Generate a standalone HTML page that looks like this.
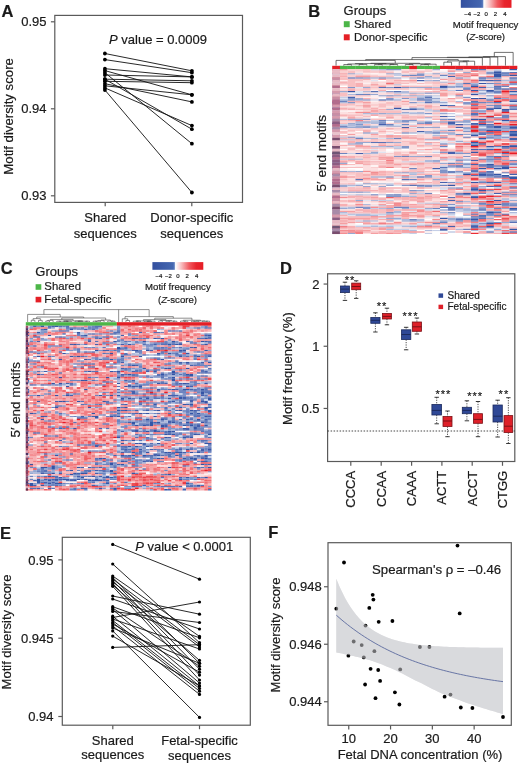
<!DOCTYPE html>
<html><head><meta charset="utf-8"><title>Figure</title>
<style>
html,body{margin:0;padding:0;background:#fff;}
body{width:520px;height:763px;overflow:hidden;}
svg{display:block;}
text{fill:#1a1a1a;stroke:#1a1a1a;stroke-width:0.2px;font-family:"Liberation Sans",Arial,Helvetica,sans-serif;}
</style></head><body>
<svg width="520" height="763" viewBox="0 0 520 763">
<rect width="520" height="763" fill="#fff"/>
<defs><filter id="hb" x="-2%" y="-2%" width="104%" height="104%"><feGaussianBlur stdDeviation="0.6"/></filter></defs>
<text x="308.3" y="17" font-size="16.5" font-weight="bold">B</text>
<text x="343.6" y="15.1" font-size="13">Groups</text>
<rect x="343.8" y="21.2" width="5.9" height="6" fill="#4cb648"/>
<rect x="343.8" y="34.3" width="5.9" height="6" fill="#e41f26"/>
<text x="354" y="27.8" font-size="11.5">Shared</text>
<text x="354" y="41.3" font-size="11.5">Donor-specific</text>
<defs><linearGradient id="cbB" x1="0" x2="1" y1="0" y2="0"><stop offset="0" stop-color="#33509f"/><stop offset="0.40" stop-color="#4567b0"/><stop offset="0.43" stop-color="#5a7abd"/><stop offset="0.455" stop-color="#ffffff"/><stop offset="0.56" stop-color="#f8c4c6"/><stop offset="0.72" stop-color="#f05a60"/><stop offset="0.86" stop-color="#e8252d"/><stop offset="1" stop-color="#e61e26"/></linearGradient></defs>
<rect x="460.8" y="-1" width="50.7" height="8.8" fill="url(#cbB)"/>
<text x="467.6" y="15.6" font-size="6" text-anchor="middle">−4</text>
<text x="476.9" y="15.6" font-size="6" text-anchor="middle">−2</text>
<text x="486.2" y="15.6" font-size="6" text-anchor="middle">0</text>
<text x="495.5" y="15.6" font-size="6" text-anchor="middle">2</text>
<text x="504.8" y="15.6" font-size="6" text-anchor="middle">4</text>
<text x="485.6" y="27.9" font-size="9.6" text-anchor="middle">Motif frequency</text>
<text x="485.6" y="40.3" font-size="9.6" text-anchor="middle">(<tspan font-style="italic">Z</tspan>-score)</text>
<text x="325.9" y="153.2" font-size="13.6" text-anchor="middle" transform="rotate(-90 325.9 153.2)">5′ end motifs</text>
<rect x="332.2" y="65.8" width="8" height="3.2" fill="#e41f26"/>
<rect x="339.9" y="65.8" width="8" height="3.2" fill="#4cb648"/>
<rect x="347.6" y="65.8" width="8" height="3.2" fill="#4cb648"/>
<rect x="355.3" y="65.8" width="8" height="3.2" fill="#4cb648"/>
<rect x="363" y="65.8" width="8" height="3.2" fill="#4cb648"/>
<rect x="370.7" y="65.8" width="8" height="3.2" fill="#4cb648"/>
<rect x="378.4" y="65.8" width="8" height="3.2" fill="#4cb648"/>
<rect x="386.1" y="65.8" width="8" height="3.2" fill="#4cb648"/>
<rect x="393.8" y="65.8" width="8" height="3.2" fill="#4cb648"/>
<rect x="401.5" y="65.8" width="8" height="3.2" fill="#4cb648"/>
<rect x="409.2" y="65.8" width="8" height="3.2" fill="#e41f26"/>
<rect x="416.9" y="65.8" width="8" height="3.2" fill="#4cb648"/>
<rect x="424.6" y="65.8" width="8" height="3.2" fill="#4cb648"/>
<rect x="432.3" y="65.8" width="8" height="3.2" fill="#4cb648"/>
<rect x="440" y="65.8" width="8" height="3.2" fill="#e41f26"/>
<rect x="447.7" y="65.8" width="8" height="3.2" fill="#e41f26"/>
<rect x="455.4" y="65.8" width="8" height="3.2" fill="#e41f26"/>
<rect x="463.1" y="65.8" width="8" height="3.2" fill="#e41f26"/>
<rect x="470.8" y="65.8" width="8" height="3.2" fill="#e41f26"/>
<rect x="478.5" y="65.8" width="8" height="3.2" fill="#e41f26"/>
<rect x="486.2" y="65.8" width="8" height="3.2" fill="#e41f26"/>
<rect x="493.9" y="65.8" width="8" height="3.2" fill="#e41f26"/>
<rect x="501.6" y="65.8" width="8" height="3.2" fill="#e41f26"/>
<rect x="509.3" y="65.8" width="8" height="3.2" fill="#e41f26"/>
<g filter="url(#hb)"><g transform="translate(332.2 69) scale(7.7000 1.3750)">
<path fill="#3454a6" d="M0 88h1v1h-1zM19 107h1v1h-1z"/>
<path fill="#3454a6" d="M21 5h1v1h-1zM19 46h1v1h-1z"/>
<path fill="#3454a6" d="M0 18h1v1h-1zM22 37h1v1h-1zM20 65h1v1h-1z"/>
<path fill="#3454a6" d="M18 15h1v1h-1zM21 41h1v1h-1zM21 42h1v1h-1zM23 43h1v1h-1zM23 46h1v1h-1zM0 63h1v1h-1zM0 71h1v1h-1z"/>
<path fill="#3454a6" d="M21 14h1v1h-1zM19 21h1v1h-1zM14 26h1v1h-1zM19 38h1v1h-1zM0 39h1v1h-1zM19 40h1v1h-1zM23 42h1v1h-1zM23 47h1v1h-1zM23 48h1v1h-1zM20 56h1v1h-1zM22 71h1v1h-1zM19 75h1v1h-1zM22 77h1v1h-1zM23 83h1v1h-1zM18 86h1v1h-1zM18 93h1v1h-1zM19 97h1v1h-1zM19 102h1v1h-1z"/>
<path fill="#3454a6" d="M22 3h1v1h-1zM23 6h1v1h-1zM19 10h1v1h-1zM22 14h1v1h-1zM20 15h1v1h-1zM18 21h1v1h-1zM21 28h1v1h-1zM22 29h1v1h-1zM0 47h1v1h-1zM18 48h1v1h-1zM19 54h1v1h-1zM0 56h1v1h-1zM23 56h1v1h-1zM22 57h1v1h-1zM20 69h1v1h-1zM17 76h1v1h-1zM23 102h1v1h-1zM18 105h1v1h-1zM18 109h1v1h-1z"/>
<path fill="#3454a6" d="M21 3h1v1h-1zM21 4h1v1h-1zM18 12h1v1h-1zM17 14h1v1h-1zM23 16h1v1h-1zM23 23h1v1h-1zM22 30h1v1h-1zM0 33h1v1h-1zM19 36h1v1h-1zM21 44h1v1h-1zM23 45h1v1h-1zM17 49h1v1h-1zM19 50h1v1h-1zM18 53h1v1h-1zM18 55h1v1h-1zM0 61h1v1h-1zM19 65h1v1h-1zM19 70h1v1h-1zM0 72h1v1h-1zM22 72h1v1h-1zM21 76h1v1h-1zM21 78h1v1h-1zM18 82h1v1h-1zM0 85h1v1h-1zM19 88h1v1h-1zM8 91h1v1h-1zM21 95h1v1h-1zM15 102h1v1h-1zM22 105h1v1h-1zM18 107h1v1h-1zM14 108h1v1h-1zM18 113h1v1h-1zM18 115h1v1h-1zM23 116h1v1h-1z"/>
<path fill="#3454a6" d="M23 0h1v1h-1zM21 2h1v1h-1zM0 3h1v1h-1zM23 4h1v1h-1zM19 6h1v1h-1zM14 12h1v1h-1zM8 13h1v1h-1zM23 14h1v1h-1zM2 16h1v1h-1zM18 18h1v1h-1zM23 27h1v1h-1zM0 28h1v1h-1zM8 28h1v1h-1zM18 36h1v1h-1zM1 41h1v1h-1zM20 41h1v1h-1zM20 44h1v1h-1zM20 46h1v1h-1zM22 56h1v1h-1zM18 60h1v1h-1zM21 65h1v1h-1zM16 70h1v1h-1zM20 70h1v1h-1zM19 72h1v1h-1zM21 72h1v1h-1zM18 73h1v1h-1zM22 75h1v1h-1zM19 76h1v1h-1zM22 78h2v1h-2zM23 79h1v1h-1zM21 82h1v1h-1zM15 84h1v1h-1zM0 86h1v1h-1zM23 86h1v1h-1zM18 87h1v1h-1zM17 90h1v1h-1zM23 91h1v1h-1zM21 98h1v1h-1zM23 101h1v1h-1zM20 104h1v1h-1zM20 112h1v1h-1zM20 114h1v1h-1z"/>
<path fill="#4461ad" d="M15 5h1v1h-1zM11 8h1v1h-1zM19 8h2v1h-2zM14 13h1v1h-1zM19 13h1v1h-1zM2 20h1v1h-1zM6 22h1v1h-1zM20 22h1v1h-1zM0 24h1v1h-1zM10 29h1v1h-1zM20 29h1v1h-1zM14 34h1v1h-1zM22 35h1v1h-1zM15 38h1v1h-1zM15 39h1v1h-1zM18 39h1v1h-1zM6 40h1v1h-1zM16 40h1v1h-1zM23 41h1v1h-1zM9 42h1v1h-1zM16 42h1v1h-1zM11 45h1v1h-1zM13 46h1v1h-1zM20 49h1v1h-1zM22 49h1v1h-1zM23 50h1v1h-1zM23 51h1v1h-1zM18 58h1v1h-1zM20 58h1v1h-1zM15 60h1v1h-1zM3 61h1v1h-1zM15 61h1v1h-1zM18 66h1v1h-1zM18 69h1v1h-1zM21 70h2v1h-2zM13 72h1v1h-1zM20 75h1v1h-1zM23 76h1v1h-1zM19 77h1v1h-1zM11 78h1v1h-1zM0 82h1v1h-1zM14 82h1v1h-1zM20 82h1v1h-1zM20 85h1v1h-1zM22 89h1v1h-1zM21 90h1v1h-1zM5 91h1v1h-1zM7 91h1v1h-1zM17 91h1v1h-1zM22 91h1v1h-1zM15 95h1v1h-1zM22 97h1v1h-1zM23 99h1v1h-1zM20 105h1v1h-1zM15 114h1v1h-1zM18 114h1v1h-1zM14 116h1v1h-1zM20 118h1v1h-1zM23 118h1v1h-1z"/>
<path fill="#5872b6" d="M19 0h1v1h-1zM21 1h1v1h-1zM23 2h1v1h-1zM15 3h1v1h-1zM20 3h1v1h-1zM2 6h1v1h-1zM11 6h1v1h-1zM0 8h1v1h-1zM21 8h1v1h-1zM17 10h1v1h-1zM18 11h1v1h-1zM21 12h1v1h-1zM6 13h1v1h-1zM16 15h1v1h-1zM5 16h1v1h-1zM8 16h1v1h-1zM20 16h1v1h-1zM0 17h1v1h-1zM12 17h1v1h-1zM19 17h1v1h-1zM7 19h1v1h-1zM20 19h1v1h-1zM12 20h1v1h-1zM21 21h1v1h-1zM11 22h2v1h-2zM23 22h1v1h-1zM18 23h1v1h-1zM12 24h1v1h-1zM21 24h1v1h-1zM0 26h1v1h-1zM15 26h1v1h-1zM21 27h1v1h-1zM20 28h1v1h-1zM9 29h1v1h-1zM23 29h1v1h-1zM18 30h2v1h-2zM18 32h1v1h-1zM18 33h1v1h-1zM20 35h2v1h-2zM23 37h1v1h-1zM20 38h1v1h-1zM18 40h1v1h-1zM20 40h1v1h-1zM22 41h1v1h-1zM0 43h1v1h-1zM22 43h1v1h-1zM19 47h1v1h-1zM2 49h1v1h-1zM5 53h2v1h-2zM23 55h1v1h-1zM19 58h1v1h-1zM22 59h1v1h-1zM22 61h1v1h-1zM21 63h1v1h-1zM15 70h1v1h-1zM14 71h1v1h-1zM20 71h1v1h-1zM14 73h1v1h-1zM18 74h1v1h-1zM20 74h1v1h-1zM14 75h1v1h-1zM20 76h1v1h-1zM18 77h1v1h-1zM20 77h1v1h-1zM3 80h1v1h-1zM9 80h1v1h-1zM10 84h1v1h-1zM21 85h1v1h-1zM3 89h1v1h-1zM23 89h1v1h-1zM16 91h1v1h-1zM18 92h1v1h-1zM0 93h1v1h-1zM15 93h1v1h-1zM22 99h1v1h-1zM14 100h2v1h-2zM0 101h1v1h-1zM21 104h1v1h-1zM19 106h1v1h-1zM19 108h1v1h-1zM16 109h1v1h-1zM18 110h1v1h-1zM23 111h1v1h-1zM20 115h1v1h-1z"/>
<path fill="#6c84bf" d="M16 0h1v1h-1zM18 0h1v1h-1zM13 3h1v1h-1zM10 4h1v1h-1zM14 4h1v1h-1zM22 4h1v1h-1zM3 6h1v1h-1zM6 6h1v1h-1zM20 6h2v1h-2zM20 10h1v1h-1zM22 12h1v1h-1zM21 13h1v1h-1zM21 16h1v1h-1zM21 17h1v1h-1zM3 18h2v1h-2zM23 18h1v1h-1zM6 19h1v1h-1zM16 19h1v1h-1zM2 22h1v1h-1zM1 23h1v1h-1zM18 24h2v1h-2zM18 26h1v1h-1zM21 26h1v1h-1zM22 33h1v1h-1zM22 34h1v1h-1zM15 36h1v1h-1zM6 37h1v1h-1zM12 38h1v1h-1zM16 38h2v1h-2zM12 39h1v1h-1zM7 40h1v1h-1zM9 40h1v1h-1zM4 41h1v1h-1zM20 42h1v1h-1zM17 43h2v1h-2zM15 44h1v1h-1zM9 46h1v1h-1zM16 47h1v1h-1zM21 48h1v1h-1zM14 49h1v1h-1zM3 50h1v1h-1zM8 50h1v1h-1zM14 54h1v1h-1zM18 54h1v1h-1zM14 56h1v1h-1zM21 56h1v1h-1zM1 61h1v1h-1zM9 63h1v1h-1zM12 63h1v1h-1zM20 63h1v1h-1zM22 63h1v1h-1zM0 64h1v1h-1zM23 66h1v1h-1zM15 68h1v1h-1zM19 69h1v1h-1zM23 69h1v1h-1zM10 72h1v1h-1zM15 74h1v1h-1zM9 75h1v1h-1zM15 75h1v1h-1zM17 75h1v1h-1zM0 78h1v1h-1zM7 78h1v1h-1zM12 78h1v1h-1zM20 78h1v1h-1zM10 80h1v1h-1zM19 82h1v1h-1zM4 83h1v1h-1zM11 84h1v1h-1zM14 84h1v1h-1zM16 86h1v1h-1zM18 88h1v1h-1zM2 89h1v1h-1zM12 90h1v1h-1zM16 90h1v1h-1zM19 90h1v1h-1zM18 97h1v1h-1zM23 97h1v1h-1zM20 98h1v1h-1zM22 98h1v1h-1zM3 100h1v1h-1zM8 100h2v1h-2zM13 101h1v1h-1zM15 101h1v1h-1zM21 101h1v1h-1zM18 102h1v1h-1zM21 106h1v1h-1zM18 108h1v1h-1zM10 109h1v1h-1zM17 109h1v1h-1zM16 110h1v1h-1zM14 111h1v1h-1zM13 112h1v1h-1zM19 115h1v1h-1zM0 116h1v1h-1zM17 116h1v1h-1z"/>
<path fill="#8195c8" d="M7 0h2v1h-2zM20 2h1v1h-1zM22 2h1v1h-1zM2 3h1v1h-1zM7 3h2v1h-2zM11 3h1v1h-1zM9 4h1v1h-1zM11 4h1v1h-1zM4 6h1v1h-1zM16 6h1v1h-1zM21 10h1v1h-1zM23 10h1v1h-1zM23 11h1v1h-1zM16 12h1v1h-1zM2 13h1v1h-1zM7 13h1v1h-1zM9 13h1v1h-1zM7 16h1v1h-1zM10 17h1v1h-1zM13 17h1v1h-1zM8 19h1v1h-1zM10 19h1v1h-1zM12 19h1v1h-1zM17 20h1v1h-1zM2 21h1v1h-1zM7 21h1v1h-1zM9 21h1v1h-1zM11 21h1v1h-1zM4 22h1v1h-1zM7 22h1v1h-1zM2 24h1v1h-1zM10 24h1v1h-1zM17 24h1v1h-1zM20 24h1v1h-1zM17 25h1v1h-1zM23 25h1v1h-1zM20 26h1v1h-1zM10 28h1v1h-1zM23 28h1v1h-1zM0 32h1v1h-1zM12 32h1v1h-1zM12 35h1v1h-1zM4 36h1v1h-1zM14 36h1v1h-1zM9 37h2v1h-2zM4 38h1v1h-1zM6 38h1v1h-1zM9 38h1v1h-1zM14 38h1v1h-1zM6 39h1v1h-1zM11 39h1v1h-1zM3 40h1v1h-1zM15 40h1v1h-1zM7 41h2v1h-2zM19 41h1v1h-1zM4 42h1v1h-1zM11 42h1v1h-1zM19 43h3v1h-3zM19 44h1v1h-1zM17 45h1v1h-1zM4 46h1v1h-1zM12 46h1v1h-1zM14 46h2v1h-2zM18 47h1v1h-1zM0 48h1v1h-1zM21 49h1v1h-1zM12 51h2v1h-2zM7 53h1v1h-1zM9 56h1v1h-1zM9 57h1v1h-1zM23 58h1v1h-1zM23 59h1v1h-1zM14 60h1v1h-1zM16 61h2v1h-2zM8 63h1v1h-1zM17 63h1v1h-1zM16 66h1v1h-1zM0 67h1v1h-1zM13 67h1v1h-1zM20 67h1v1h-1zM16 68h1v1h-1zM23 68h1v1h-1zM17 69h1v1h-1zM14 74h1v1h-1zM16 74h1v1h-1zM8 75h1v1h-1zM12 77h1v1h-1zM21 77h1v1h-1zM9 78h1v1h-1zM19 78h1v1h-1zM19 81h1v1h-1zM15 82h1v1h-1zM5 83h1v1h-1zM9 84h1v1h-1zM12 84h1v1h-1zM12 85h1v1h-1zM15 86h1v1h-1zM10 88h1v1h-1zM20 88h1v1h-1zM1 89h1v1h-1zM4 89h1v1h-1zM7 92h2v1h-2zM0 95h1v1h-1zM16 96h1v1h-1zM15 98h1v1h-1zM19 98h1v1h-1zM23 98h1v1h-1zM16 99h2v1h-2zM4 100h1v1h-1zM4 101h1v1h-1zM19 101h1v1h-1zM14 102h1v1h-1zM17 102h1v1h-1zM20 103h1v1h-1zM7 104h1v1h-1zM15 104h1v1h-1zM20 106h1v1h-1zM16 108h1v1h-1zM10 110h1v1h-1zM14 110h1v1h-1zM23 110h1v1h-1zM20 111h2v1h-2zM19 112h1v1h-1zM12 113h1v1h-1zM14 117h1v1h-1z"/>
<path fill="#97a8d1" d="M13 0h1v1h-1zM17 2h1v1h-1zM12 5h1v1h-1zM5 6h1v1h-1zM7 6h2v1h-2zM10 6h1v1h-1zM13 6h1v1h-1zM19 7h1v1h-1zM23 7h1v1h-1zM13 8h1v1h-1zM23 8h1v1h-1zM14 9h1v1h-1zM0 10h1v1h-1zM15 12h1v1h-1zM4 13h1v1h-1zM10 13h3v1h-3zM15 13h1v1h-1zM17 13h1v1h-1zM19 15h1v1h-1zM0 16h2v1h-2zM11 17h1v1h-1zM20 17h1v1h-1zM5 18h1v1h-1zM9 19h1v1h-1zM11 19h1v1h-1zM3 21h1v1h-1zM12 21h2v1h-2zM22 21h1v1h-1zM1 22h1v1h-1zM3 22h1v1h-1zM8 22h1v1h-1zM12 23h2v1h-2zM13 24h2v1h-2zM0 27h1v1h-1zM7 29h1v1h-1zM11 29h1v1h-1zM13 30h1v1h-1zM9 31h1v1h-1zM6 32h1v1h-1zM14 32h1v1h-1zM17 33h1v1h-1zM15 34h1v1h-1zM2 36h2v1h-2zM17 37h1v1h-1zM3 38h1v1h-1zM5 38h1v1h-1zM8 38h1v1h-1zM11 38h1v1h-1zM13 38h1v1h-1zM2 39h1v1h-1zM17 40h1v1h-1zM3 41h1v1h-1zM5 41h1v1h-1zM1 42h3v1h-3zM12 42h2v1h-2zM17 42h1v1h-1zM22 42h1v1h-1zM22 44h1v1h-1zM12 45h1v1h-1zM10 46h1v1h-1zM18 46h1v1h-1zM22 46h1v1h-1zM17 47h1v1h-1zM20 48h1v1h-1zM20 50h2v1h-2zM19 51h1v1h-1zM16 52h1v1h-1zM3 53h2v1h-2zM8 53h1v1h-1zM2 54h2v1h-2zM7 56h1v1h-1zM8 57h1v1h-1zM5 60h1v1h-1zM10 63h2v1h-2zM20 64h1v1h-1zM0 65h1v1h-1zM2 65h2v1h-2zM14 65h1v1h-1zM16 65h2v1h-2zM13 66h1v1h-1zM20 66h1v1h-1zM22 66h1v1h-1zM0 68h2v1h-2zM14 68h1v1h-1zM17 68h1v1h-1zM16 71h2v1h-2zM0 73h1v1h-1zM1 74h1v1h-1zM3 74h1v1h-1zM10 75h1v1h-1zM16 75h1v1h-1zM18 75h1v1h-1zM5 78h2v1h-2zM16 78h1v1h-1zM13 80h1v1h-1zM22 80h1v1h-1zM6 83h1v1h-1zM1 84h1v1h-1zM3 84h1v1h-1zM7 84h1v1h-1zM13 84h1v1h-1zM1 85h1v1h-1zM4 85h1v1h-1zM6 85h1v1h-1zM11 85h1v1h-1zM19 85h1v1h-1zM11 88h1v1h-1zM10 90h1v1h-1zM1 91h1v1h-1zM3 91h1v1h-1zM9 92h1v1h-1zM22 94h1v1h-1zM3 95h1v1h-1zM23 95h1v1h-1zM14 98h1v1h-1zM19 100h1v1h-1zM1 101h1v1h-1zM7 101h1v1h-1zM9 101h1v1h-1zM12 101h1v1h-1zM16 101h1v1h-1zM22 101h1v1h-1zM21 103h1v1h-1zM19 104h1v1h-1zM2 105h1v1h-1zM4 105h1v1h-1zM7 105h1v1h-1zM7 108h2v1h-2zM15 108h1v1h-1zM17 108h1v1h-1zM20 108h1v1h-1zM15 109h1v1h-1zM4 110h1v1h-1zM7 110h1v1h-1zM9 110h1v1h-1zM22 111h1v1h-1zM10 114h1v1h-1zM21 116h1v1h-1zM0 118h1v1h-1zM22 118h1v1h-1zM2 119h1v1h-1z"/>
<path fill="#aebadb" d="M6 0h1v1h-1zM12 6h1v1h-1zM12 8h1v1h-1zM22 8h1v1h-1zM16 10h1v1h-1zM18 10h1v1h-1zM8 11h1v1h-1zM16 11h1v1h-1zM13 13h1v1h-1zM16 13h1v1h-1zM20 13h1v1h-1zM14 14h1v1h-1zM21 15h1v1h-1zM4 16h1v1h-1zM9 16h1v1h-1zM8 17h2v1h-2zM18 17h1v1h-1zM2 18h1v1h-1zM13 19h1v1h-1zM11 20h1v1h-1zM10 22h1v1h-1zM16 23h1v1h-1zM1 24h1v1h-1zM11 28h1v1h-1zM0 30h1v1h-1zM11 31h1v1h-1zM19 31h1v1h-1zM4 32h2v1h-2zM7 32h2v1h-2zM10 32h2v1h-2zM1 36h1v1h-1zM7 37h2v1h-2zM21 37h1v1h-1zM22 38h1v1h-1zM3 39h1v1h-1zM5 39h1v1h-1zM0 40h1v1h-1zM2 40h1v1h-1zM2 41h1v1h-1zM6 41h1v1h-1zM5 42h1v1h-1zM14 44h1v1h-1zM13 45h1v1h-1zM5 46h1v1h-1zM15 47h1v1h-1zM13 48h1v1h-1zM1 49h1v1h-1zM3 49h1v1h-1zM4 50h2v1h-2zM7 50h1v1h-1zM1 51h2v1h-2zM12 54h1v1h-1zM15 54h1v1h-1zM5 56h2v1h-2zM0 57h1v1h-1zM20 57h1v1h-1zM16 60h1v1h-1zM4 61h2v1h-2zM21 61h1v1h-1zM1 65h1v1h-1zM15 65h1v1h-1zM0 66h1v1h-1zM12 66h1v1h-1zM17 66h1v1h-1zM10 67h1v1h-1zM12 67h1v1h-1zM0 69h1v1h-1zM0 70h1v1h-1zM15 71h1v1h-1zM21 71h1v1h-1zM14 72h1v1h-1zM2 74h1v1h-1zM11 75h1v1h-1zM10 76h1v1h-1zM10 78h1v1h-1zM17 81h1v1h-1zM16 82h1v1h-1zM22 82h1v1h-1zM7 83h1v1h-1zM20 83h1v1h-1zM2 84h1v1h-1zM19 86h1v1h-1zM0 90h1v1h-1zM4 91h1v1h-1zM6 91h1v1h-1zM20 91h1v1h-1zM10 92h1v1h-1zM23 92h1v1h-1zM5 95h1v1h-1zM20 95h1v1h-1zM17 96h1v1h-1zM12 97h2v1h-2zM4 98h1v1h-1zM6 99h1v1h-1zM2 100h1v1h-1zM2 101h1v1h-1zM6 101h1v1h-1zM17 101h1v1h-1zM16 102h1v1h-1zM8 103h1v1h-1zM18 103h1v1h-1zM1 104h1v1h-1zM8 104h1v1h-1zM14 104h1v1h-1zM23 104h1v1h-1zM3 105h1v1h-1zM6 105h1v1h-1zM15 105h1v1h-1zM3 106h3v1h-3zM17 106h1v1h-1zM13 107h1v1h-1zM9 109h1v1h-1zM11 109h1v1h-1zM5 110h1v1h-1zM11 110h1v1h-1zM15 110h1v1h-1zM20 110h1v1h-1zM18 112h1v1h-1zM11 113h1v1h-1zM19 113h1v1h-1zM5 114h1v1h-1zM7 114h1v1h-1zM9 114h1v1h-1zM7 116h1v1h-1zM16 116h1v1h-1zM10 117h1v1h-1zM12 117h1v1h-1zM18 117h1v1h-1zM15 118h1v1h-1zM0 119h1v1h-1z"/>
<path fill="#c5cee6" d="M5 0h1v1h-1zM21 0h1v1h-1zM20 1h1v1h-1zM3 3h1v1h-1zM12 3h1v1h-1zM8 4h1v1h-1zM17 6h1v1h-1zM15 9h1v1h-1zM22 10h1v1h-1zM15 15h1v1h-1zM6 16h1v1h-1zM23 17h1v1h-1zM19 18h1v1h-1zM1 20h1v1h-1zM10 21h1v1h-1zM20 21h1v1h-1zM5 22h1v1h-1zM13 22h1v1h-1zM11 24h1v1h-1zM8 29h1v1h-1zM12 29h1v1h-1zM12 30h1v1h-1zM10 31h1v1h-1zM9 32h1v1h-1zM15 32h1v1h-1zM16 33h1v1h-1zM20 33h1v1h-1zM5 37h1v1h-1zM10 38h1v1h-1zM4 39h1v1h-1zM1 40h1v1h-1zM13 44h1v1h-1zM17 44h1v1h-1zM0 45h1v1h-1zM11 46h1v1h-1zM22 47h1v1h-1zM22 50h1v1h-1zM0 53h1v1h-1zM17 53h1v1h-1zM8 56h1v1h-1zM0 58h1v1h-1zM13 60h1v1h-1zM2 61h1v1h-1zM9 67h1v1h-1zM11 67h1v1h-1zM20 68h1v1h-1zM14 70h1v1h-1zM17 70h1v1h-1zM23 70h1v1h-1zM21 73h1v1h-1zM13 78h2v1h-2zM0 83h1v1h-1zM22 84h2v1h-2zM13 85h1v1h-1zM14 86h1v1h-1zM21 86h1v1h-1zM17 88h1v1h-1zM11 90h1v1h-1zM20 90h1v1h-1zM2 91h1v1h-1zM9 91h1v1h-1zM21 93h1v1h-1zM6 95h2v1h-2zM22 95h1v1h-1zM11 97h1v1h-1zM1 100h1v1h-1zM5 101h1v1h-1zM10 101h1v1h-1zM20 101h1v1h-1zM12 102h1v1h-1zM16 103h2v1h-2zM17 104h1v1h-1zM1 105h1v1h-1zM5 105h1v1h-1zM12 107h1v1h-1zM8 109h1v1h-1zM3 110h1v1h-1zM13 110h1v1h-1zM0 111h1v1h-1zM19 111h1v1h-1zM0 112h1v1h-1zM5 113h1v1h-1zM7 113h4v1h-4zM22 113h1v1h-1zM3 114h2v1h-2zM6 114h1v1h-1zM14 114h1v1h-1zM8 116h2v1h-2zM13 117h1v1h-1zM10 119h1v1h-1zM12 119h1v1h-1zM17 119h1v1h-1z"/>
<path fill="#dfe4f1" d="M14 2h2v1h-2zM14 5h1v1h-1zM9 6h1v1h-1zM14 6h1v1h-1zM0 7h1v1h-1zM5 8h1v1h-1zM16 8h1v1h-1zM0 9h1v1h-1zM20 11h1v1h-1zM20 12h1v1h-1zM3 13h1v1h-1zM3 16h1v1h-1zM19 16h1v1h-1zM3 17h1v1h-1zM15 19h1v1h-1zM13 20h1v1h-1zM20 20h1v1h-1zM1 21h1v1h-1zM8 21h1v1h-1zM0 22h1v1h-1zM14 23h1v1h-1zM23 24h1v1h-1zM14 25h1v1h-1zM22 27h1v1h-1zM9 28h1v1h-1zM14 28h3v1h-3zM19 29h1v1h-1zM21 29h1v1h-1zM14 31h1v1h-1zM13 33h1v1h-1zM19 33h1v1h-1zM0 37h1v1h-1zM12 37h1v1h-1zM17 39h1v1h-1zM8 40h1v1h-1zM10 40h1v1h-1zM10 42h1v1h-1zM19 42h1v1h-1zM7 47h1v1h-1zM13 47h1v1h-1zM19 48h1v1h-1zM22 48h1v1h-1zM6 50h1v1h-1zM0 52h1v1h-1zM14 52h2v1h-2zM14 53h1v1h-1zM16 53h1v1h-1zM23 53h1v1h-1zM21 57h1v1h-1zM5 58h1v1h-1zM11 59h1v1h-1zM6 60h1v1h-1zM19 64h1v1h-1zM15 66h1v1h-1zM19 68h1v1h-1zM23 72h1v1h-1zM16 76h1v1h-1zM8 78h1v1h-1zM15 78h1v1h-1zM18 81h1v1h-1zM3 83h1v1h-1zM0 84h1v1h-1zM8 84h1v1h-1zM17 84h1v1h-1zM2 85h1v1h-1zM14 87h1v1h-1zM18 91h1v1h-1zM23 94h1v1h-1zM4 95h1v1h-1zM19 95h1v1h-1zM0 98h1v1h-1zM5 99h1v1h-1zM15 99h1v1h-1zM18 100h1v1h-1zM8 101h1v1h-1zM11 101h1v1h-1zM13 102h1v1h-1zM10 103h1v1h-1zM19 103h1v1h-1zM8 105h1v1h-1zM23 105h1v1h-1zM2 106h1v1h-1zM6 106h1v1h-1zM15 106h1v1h-1zM16 107h1v1h-1zM0 108h1v1h-1zM6 108h1v1h-1zM11 112h1v1h-1zM1 113h1v1h-1zM3 113h2v1h-2zM6 113h1v1h-1zM14 113h1v1h-1zM23 113h1v1h-1zM8 114h1v1h-1zM21 115h1v1h-1zM10 116h1v1h-1zM22 116h1v1h-1zM0 117h1v1h-1zM19 117h2v1h-2zM21 118h1v1h-1zM9 119h1v1h-1z"/>
<path fill="#ffffff" d="M14 0h1v1h-1zM22 1h2v1h-2zM16 2h1v1h-1zM5 3h1v1h-1zM0 4h1v1h-1zM18 6h1v1h-1zM9 7h1v1h-1zM11 7h1v1h-1zM6 8h1v1h-1zM11 9h1v1h-1zM9 11h1v1h-1zM11 11h1v1h-1zM1 12h1v1h-1zM23 12h1v1h-1zM0 14h1v1h-1zM7 15h2v1h-2zM12 15h1v1h-1zM17 19h1v1h-1zM15 20h1v1h-1zM18 20h1v1h-1zM6 21h1v1h-1zM16 22h1v1h-1zM15 25h2v1h-2zM0 29h1v1h-1zM2 30h1v1h-1zM15 31h1v1h-1zM16 32h1v1h-1zM12 33h1v1h-1zM15 33h1v1h-1zM5 34h1v1h-1zM5 35h1v1h-1zM15 35h1v1h-1zM17 35h1v1h-1zM13 37h1v1h-1zM7 38h1v1h-1zM18 38h1v1h-1zM14 41h1v1h-1zM3 45h1v1h-1zM1 47h1v1h-1zM8 47h1v1h-1zM10 47h1v1h-1zM18 50h1v1h-1zM17 51h1v1h-1zM1 54h1v1h-1zM15 55h1v1h-1zM15 56h1v1h-1zM11 57h2v1h-2zM14 57h1v1h-1zM1 58h1v1h-1zM7 58h1v1h-1zM9 58h1v1h-1zM0 59h1v1h-1zM7 59h1v1h-1zM11 61h1v1h-1zM18 63h1v1h-1zM17 67h1v1h-1zM2 68h1v1h-1zM1 70h2v1h-2zM5 70h1v1h-1zM2 72h2v1h-2zM7 72h2v1h-2zM3 73h1v1h-1zM7 73h1v1h-1zM12 73h1v1h-1zM15 73h1v1h-1zM20 73h1v1h-1zM21 74h1v1h-1zM13 75h1v1h-1zM22 76h1v1h-1zM0 77h1v1h-1zM0 79h1v1h-1zM8 80h1v1h-1zM21 80h1v1h-1zM0 81h1v1h-1zM5 81h1v1h-1zM12 81h1v1h-1zM3 82h1v1h-1zM9 82h1v1h-1zM7 85h2v1h-2zM20 86h1v1h-1zM12 87h1v1h-1zM0 89h1v1h-1zM1 90h1v1h-1zM5 90h1v1h-1zM7 90h1v1h-1zM13 90h1v1h-1zM14 91h1v1h-1zM19 91h1v1h-1zM21 91h1v1h-1zM6 92h1v1h-1zM14 93h1v1h-1zM10 97h1v1h-1zM0 100h1v1h-1zM14 101h1v1h-1zM23 103h1v1h-1zM16 105h1v1h-1zM16 106h1v1h-1zM17 107h1v1h-1zM21 108h1v1h-1zM0 109h1v1h-1zM12 109h1v1h-1zM21 110h1v1h-1zM3 112h1v1h-1zM13 116h1v1h-1zM11 117h1v1h-1zM15 117h1v1h-1zM13 118h2v1h-2zM18 118h1v1h-1zM11 119h1v1h-1zM13 119h1v1h-1zM15 119h2v1h-2z"/>
<path fill="#fdeff0" d="M11 0h1v1h-1zM22 0h1v1h-1zM8 1h1v1h-1zM13 1h2v1h-2zM8 2h1v1h-1zM12 2h1v1h-1zM18 2h1v1h-1zM4 3h1v1h-1zM6 3h1v1h-1zM19 4h1v1h-1zM0 5h1v1h-1zM8 5h1v1h-1zM13 7h1v1h-1zM1 8h1v1h-1zM14 8h1v1h-1zM19 9h1v1h-1zM4 10h1v1h-1zM10 11h1v1h-1zM12 11h1v1h-1zM19 11h1v1h-1zM0 13h1v1h-1zM22 13h1v1h-1zM5 15h1v1h-1zM9 15h3v1h-3zM16 16h1v1h-1zM2 17h1v1h-1zM12 18h2v1h-2zM20 18h2v1h-2zM5 19h1v1h-1zM4 20h3v1h-3zM14 20h1v1h-1zM5 23h1v1h-1zM17 23h1v1h-1zM16 26h1v1h-1zM1 30h1v1h-1zM3 30h1v1h-1zM23 30h1v1h-1zM14 33h1v1h-1zM21 34h1v1h-1zM1 35h1v1h-1zM6 35h1v1h-1zM7 36h1v1h-1zM11 36h2v1h-2zM16 36h1v1h-1zM10 39h1v1h-1zM16 39h1v1h-1zM15 43h2v1h-2zM1 44h1v1h-1zM7 44h1v1h-1zM5 45h1v1h-1zM8 45h1v1h-1zM2 46h1v1h-1zM7 46h1v1h-1zM3 47h1v1h-1zM6 47h1v1h-1zM9 47h1v1h-1zM14 47h1v1h-1zM17 48h1v1h-1zM0 49h1v1h-1zM0 50h1v1h-1zM9 51h1v1h-1zM18 51h1v1h-1zM12 52h2v1h-2zM22 53h1v1h-1zM4 54h1v1h-1zM2 56h1v1h-1zM15 57h1v1h-1zM3 58h1v1h-1zM8 59h3v1h-3zM12 59h2v1h-2zM7 60h1v1h-1zM12 61h2v1h-2zM1 62h1v1h-1zM23 64h1v1h-1zM23 65h1v1h-1zM14 67h1v1h-1zM3 70h1v1h-1zM1 72h1v1h-1zM6 72h1v1h-1zM15 72h1v1h-1zM1 73h2v1h-2zM6 73h1v1h-1zM8 73h1v1h-1zM13 73h1v1h-1zM22 73h1v1h-1zM17 74h1v1h-1zM4 75h1v1h-1zM21 75h1v1h-1zM15 76h1v1h-1zM23 77h1v1h-1zM15 80h1v1h-1zM6 81h1v1h-1zM8 81h1v1h-1zM10 81h2v1h-2zM15 81h1v1h-1zM5 82h3v1h-3zM10 82h1v1h-1zM14 83h1v1h-1zM4 84h1v1h-1zM19 84h1v1h-1zM5 85h1v1h-1zM9 85h2v1h-2zM16 85h1v1h-1zM8 87h1v1h-1zM10 87h2v1h-2zM13 87h1v1h-1zM16 88h1v1h-1zM13 89h1v1h-1zM2 90h3v1h-3zM8 90h2v1h-2zM1 94h1v1h-1zM14 95h1v1h-1zM8 96h1v1h-1zM1 97h2v1h-2zM4 97h3v1h-3zM7 98h1v1h-1zM17 98h2v1h-2zM15 103h1v1h-1zM16 104h1v1h-1zM14 107h1v1h-1zM10 108h1v1h-1zM12 108h1v1h-1zM6 110h1v1h-1zM8 110h1v1h-1zM23 112h1v1h-1zM2 113h1v1h-1zM12 116h1v1h-1zM20 116h1v1h-1zM17 117h1v1h-1zM12 118h1v1h-1z"/>
<path fill="#fcdfe0" d="M9 0h1v1h-1zM3 2h1v1h-1zM10 2h1v1h-1zM13 2h1v1h-1zM9 3h1v1h-1zM6 4h1v1h-1zM22 6h1v1h-1zM5 7h1v1h-1zM12 7h1v1h-1zM4 8h1v1h-1zM3 9h2v1h-2zM6 10h1v1h-1zM10 10h1v1h-1zM15 11h1v1h-1zM7 12h1v1h-1zM1 14h1v1h-1zM10 14h1v1h-1zM15 14h2v1h-2zM20 14h1v1h-1zM13 15h1v1h-1zM5 17h2v1h-2zM6 18h2v1h-2zM9 18h1v1h-1zM3 20h1v1h-1zM19 20h1v1h-1zM5 21h1v1h-1zM14 21h1v1h-1zM9 22h1v1h-1zM7 23h1v1h-1zM10 23h1v1h-1zM5 24h2v1h-2zM15 24h1v1h-1zM22 24h1v1h-1zM3 25h1v1h-1zM9 26h2v1h-2zM13 26h1v1h-1zM17 26h1v1h-1zM1 27h2v1h-2zM5 27h1v1h-1zM7 27h1v1h-1zM9 27h1v1h-1zM3 28h1v1h-1zM6 28h1v1h-1zM17 29h1v1h-1zM9 30h3v1h-3zM21 30h1v1h-1zM0 31h2v1h-2zM12 31h1v1h-1zM16 31h1v1h-1zM1 32h2v1h-2zM10 33h1v1h-1zM3 34h1v1h-1zM8 34h1v1h-1zM17 34h1v1h-1zM4 35h1v1h-1zM8 35h1v1h-1zM14 35h1v1h-1zM16 35h1v1h-1zM0 38h1v1h-1zM21 38h1v1h-1zM5 40h1v1h-1zM12 41h1v1h-1zM0 42h1v1h-1zM6 42h3v1h-3zM14 42h1v1h-1zM4 43h1v1h-1zM12 43h1v1h-1zM14 43h1v1h-1zM5 44h1v1h-1zM8 44h1v1h-1zM11 44h2v1h-2zM16 46h1v1h-1zM4 47h1v1h-1zM11 47h2v1h-2zM2 48h3v1h-3zM12 48h1v1h-1zM12 49h1v1h-1zM15 49h2v1h-2zM16 50h1v1h-1zM4 51h1v1h-1zM10 51h1v1h-1zM14 51h1v1h-1zM16 51h1v1h-1zM20 51h1v1h-1zM1 53h1v1h-1zM21 53h1v1h-1zM0 54h1v1h-1zM5 54h1v1h-1zM11 54h1v1h-1zM13 54h1v1h-1zM5 55h1v1h-1zM10 55h1v1h-1zM1 56h1v1h-1zM10 56h1v1h-1zM10 57h1v1h-1zM4 58h1v1h-1zM6 58h1v1h-1zM8 58h1v1h-1zM10 58h1v1h-1zM17 58h1v1h-1zM6 59h1v1h-1zM2 60h2v1h-2zM9 61h1v1h-1zM2 62h2v1h-2zM7 62h1v1h-1zM14 62h2v1h-2zM17 62h1v1h-1zM21 62h1v1h-1zM13 64h1v1h-1zM17 64h1v1h-1zM13 65h1v1h-1zM5 66h2v1h-2zM8 66h1v1h-1zM10 66h1v1h-1zM15 67h1v1h-1zM3 69h1v1h-1zM4 70h1v1h-1zM9 70h1v1h-1zM4 71h1v1h-1zM10 71h1v1h-1zM4 72h2v1h-2zM9 72h1v1h-1zM4 73h2v1h-2zM9 73h1v1h-1zM19 73h1v1h-1zM12 75h1v1h-1zM9 76h1v1h-1zM2 77h1v1h-1zM11 77h1v1h-1zM2 79h1v1h-1zM6 79h1v1h-1zM2 80h1v1h-1zM7 80h1v1h-1zM4 81h1v1h-1zM7 81h1v1h-1zM9 81h1v1h-1zM14 81h1v1h-1zM1 82h2v1h-2zM8 82h1v1h-1zM6 84h1v1h-1zM14 85h2v1h-2zM5 86h1v1h-1zM5 87h1v1h-1zM22 88h1v1h-1zM12 89h1v1h-1zM6 90h1v1h-1zM15 92h1v1h-1zM2 94h1v1h-1zM7 94h1v1h-1zM8 95h1v1h-1zM13 95h1v1h-1zM4 96h1v1h-1zM10 96h1v1h-1zM12 96h1v1h-1zM3 97h1v1h-1zM2 98h1v1h-1zM5 98h1v1h-1zM16 98h1v1h-1zM12 99h1v1h-1zM3 101h1v1h-1zM18 101h1v1h-1zM1 102h2v1h-2zM0 103h1v1h-1zM9 103h1v1h-1zM14 103h1v1h-1zM22 104h1v1h-1zM14 106h1v1h-1zM23 106h1v1h-1zM11 108h1v1h-1zM13 108h1v1h-1zM0 110h1v1h-1zM12 110h1v1h-1zM5 111h1v1h-1zM7 111h1v1h-1zM9 111h1v1h-1zM15 111h1v1h-1zM2 112h1v1h-1zM17 112h1v1h-1zM0 114h1v1h-1zM23 114h1v1h-1zM8 115h1v1h-1zM16 115h2v1h-2zM11 116h1v1h-1zM5 117h2v1h-2zM16 117h1v1h-1zM4 119h1v1h-1z"/>
<path fill="#facfd0" d="M2 0h2v1h-2zM12 0h1v1h-1zM15 0h1v1h-1zM17 0h1v1h-1zM0 1h2v1h-2zM3 1h1v1h-1zM7 1h1v1h-1zM1 2h1v1h-1zM4 2h2v1h-2zM14 3h1v1h-1zM2 4h1v1h-1zM5 4h1v1h-1zM7 4h1v1h-1zM12 4h2v1h-2zM20 4h1v1h-1zM2 5h1v1h-1zM13 5h1v1h-1zM18 5h1v1h-1zM7 7h2v1h-2zM10 7h1v1h-1zM22 7h1v1h-1zM7 8h1v1h-1zM5 9h2v1h-2zM9 9h1v1h-1zM16 9h1v1h-1zM20 9h1v1h-1zM5 10h1v1h-1zM12 10h1v1h-1zM14 10h1v1h-1zM1 11h1v1h-1zM4 11h1v1h-1zM6 11h1v1h-1zM13 11h1v1h-1zM5 12h1v1h-1zM13 12h1v1h-1zM3 14h1v1h-1zM5 14h2v1h-2zM11 14h1v1h-1zM1 15h1v1h-1zM3 15h2v1h-2zM10 16h2v1h-2zM14 16h2v1h-2zM4 17h1v1h-1zM11 18h1v1h-1zM15 18h1v1h-1zM2 19h1v1h-1zM18 19h1v1h-1zM0 20h1v1h-1zM8 20h1v1h-1zM0 21h1v1h-1zM17 21h1v1h-1zM14 22h2v1h-2zM4 23h1v1h-1zM6 23h1v1h-1zM8 23h1v1h-1zM11 23h1v1h-1zM8 24h2v1h-2zM5 25h1v1h-1zM8 25h1v1h-1zM10 25h4v1h-4zM2 26h1v1h-1zM5 26h1v1h-1zM7 26h1v1h-1zM3 27h1v1h-1zM11 27h1v1h-1zM14 27h1v1h-1zM4 28h1v1h-1zM7 28h1v1h-1zM13 28h1v1h-1zM22 28h1v1h-1zM4 30h1v1h-1zM2 31h1v1h-1zM13 31h1v1h-1zM17 31h1v1h-1zM23 31h1v1h-1zM3 32h1v1h-1zM4 33h1v1h-1zM11 33h1v1h-1zM0 34h2v1h-2zM6 34h1v1h-1zM16 34h1v1h-1zM13 35h1v1h-1zM19 35h1v1h-1zM8 36h2v1h-2zM23 36h1v1h-1zM4 37h1v1h-1zM11 37h1v1h-1zM1 38h2v1h-2zM7 39h3v1h-3zM13 39h1v1h-1zM20 39h1v1h-1zM13 40h1v1h-1zM9 41h1v1h-1zM11 41h1v1h-1zM17 41h1v1h-1zM2 43h1v1h-1zM6 43h1v1h-1zM11 43h1v1h-1zM13 43h1v1h-1zM3 44h1v1h-1zM6 44h1v1h-1zM9 44h2v1h-2zM2 45h1v1h-1zM7 45h1v1h-1zM10 45h1v1h-1zM16 45h1v1h-1zM3 46h1v1h-1zM6 46h1v1h-1zM17 46h1v1h-1zM5 48h1v1h-1zM11 48h1v1h-1zM15 48h1v1h-1zM4 49h2v1h-2zM11 49h1v1h-1zM17 50h1v1h-1zM0 51h1v1h-1zM6 52h1v1h-1zM8 52h1v1h-1zM11 52h1v1h-1zM21 52h1v1h-1zM9 53h1v1h-1zM15 53h1v1h-1zM7 54h1v1h-1zM9 54h1v1h-1zM4 55h1v1h-1zM9 55h1v1h-1zM17 55h1v1h-1zM12 56h2v1h-2zM1 57h1v1h-1zM7 57h1v1h-1zM15 58h1v1h-1zM1 59h2v1h-2zM1 60h1v1h-1zM4 60h1v1h-1zM9 60h1v1h-1zM11 60h2v1h-2zM6 61h2v1h-2zM0 62h1v1h-1zM5 62h1v1h-1zM10 62h1v1h-1zM16 62h1v1h-1zM14 63h1v1h-1zM23 63h1v1h-1zM3 64h1v1h-1zM5 64h1v1h-1zM11 65h2v1h-2zM3 66h2v1h-2zM11 66h1v1h-1zM2 67h1v1h-1zM8 67h1v1h-1zM5 68h1v1h-1zM5 69h2v1h-2zM12 69h3v1h-3zM10 70h1v1h-1zM12 70h2v1h-2zM5 71h1v1h-1zM8 71h1v1h-1zM11 71h1v1h-1zM13 71h1v1h-1zM16 72h1v1h-1zM0 74h1v1h-1zM8 74h1v1h-1zM22 74h1v1h-1zM1 76h2v1h-2zM8 76h1v1h-1zM7 77h1v1h-1zM10 77h1v1h-1zM13 77h1v1h-1zM1 79h1v1h-1zM8 79h1v1h-1zM10 79h1v1h-1zM19 79h1v1h-1zM12 80h1v1h-1zM17 80h1v1h-1zM1 81h2v1h-2zM4 82h1v1h-1zM11 83h2v1h-2zM5 84h1v1h-1zM16 84h1v1h-1zM3 85h1v1h-1zM10 86h1v1h-1zM13 86h1v1h-1zM17 86h1v1h-1zM1 87h1v1h-1zM7 87h1v1h-1zM23 87h1v1h-1zM1 88h1v1h-1zM8 88h1v1h-1zM12 88h2v1h-2zM5 89h1v1h-1zM14 90h2v1h-2zM0 92h2v1h-2zM6 93h1v1h-1zM22 93h1v1h-1zM13 94h1v1h-1zM16 94h2v1h-2zM9 95h1v1h-1zM17 95h1v1h-1zM5 96h1v1h-1zM13 96h1v1h-1zM23 96h1v1h-1zM15 97h1v1h-1zM21 99h1v1h-1zM22 102h1v1h-1zM3 103h1v1h-1zM13 104h1v1h-1zM10 105h1v1h-1zM12 106h1v1h-1zM1 107h1v1h-1zM8 107h1v1h-1zM22 107h1v1h-1zM14 109h1v1h-1zM10 111h1v1h-1zM9 112h1v1h-1zM12 112h1v1h-1zM9 115h1v1h-1zM1 116h1v1h-1zM4 116h1v1h-1z"/>
<path fill="#f8bfc1" d="M4 0h1v1h-1zM10 0h1v1h-1zM20 0h1v1h-1zM2 1h1v1h-1zM5 1h1v1h-1zM9 1h1v1h-1zM11 1h2v1h-2zM16 1h2v1h-2zM2 2h1v1h-1zM6 2h2v1h-2zM9 2h1v1h-1zM11 2h1v1h-1zM19 2h1v1h-1zM10 3h1v1h-1zM19 3h1v1h-1zM1 4h1v1h-1zM3 4h2v1h-2zM5 5h3v1h-3zM10 5h2v1h-2zM23 5h1v1h-1zM1 6h1v1h-1zM15 6h1v1h-1zM1 7h3v1h-3zM15 7h1v1h-1zM20 7h1v1h-1zM2 8h2v1h-2zM15 8h1v1h-1zM2 9h1v1h-1zM7 9h2v1h-2zM10 9h1v1h-1zM12 9h2v1h-2zM22 9h1v1h-1zM1 10h2v1h-2zM8 10h2v1h-2zM11 10h1v1h-1zM13 10h1v1h-1zM2 11h1v1h-1zM7 11h1v1h-1zM0 12h1v1h-1zM2 12h1v1h-1zM4 12h1v1h-1zM8 12h1v1h-1zM10 12h3v1h-3zM1 13h1v1h-1zM5 13h1v1h-1zM7 14h3v1h-3zM12 16h1v1h-1zM17 16h1v1h-1zM1 17h1v1h-1zM7 17h1v1h-1zM15 17h1v1h-1zM1 18h1v1h-1zM8 18h1v1h-1zM10 18h1v1h-1zM17 18h1v1h-1zM1 19h1v1h-1zM3 19h2v1h-2zM19 19h1v1h-1zM7 20h1v1h-1zM9 20h2v1h-2zM16 20h1v1h-1zM16 21h1v1h-1zM15 23h1v1h-1zM22 23h1v1h-1zM3 24h1v1h-1zM7 24h1v1h-1zM4 25h1v1h-1zM7 25h1v1h-1zM1 26h1v1h-1zM3 26h1v1h-1zM6 26h1v1h-1zM8 26h1v1h-1zM11 26h1v1h-1zM20 27h1v1h-1zM2 28h1v1h-1zM12 28h1v1h-1zM1 29h1v1h-1zM3 29h3v1h-3zM13 29h1v1h-1zM15 29h2v1h-2zM6 30h3v1h-3zM5 31h4v1h-4zM20 31h2v1h-2zM13 32h1v1h-1zM20 32h1v1h-1zM6 33h1v1h-1zM8 33h2v1h-2zM23 33h1v1h-1zM2 34h1v1h-1zM4 34h1v1h-1zM7 34h1v1h-1zM9 34h5v1h-5zM3 35h1v1h-1zM23 35h1v1h-1zM0 36h1v1h-1zM5 36h2v1h-2zM10 36h1v1h-1zM1 37h1v1h-1zM15 37h2v1h-2zM1 39h1v1h-1zM4 40h1v1h-1zM14 40h1v1h-1zM13 41h1v1h-1zM3 43h1v1h-1zM8 43h1v1h-1zM10 43h1v1h-1zM2 44h1v1h-1zM1 45h1v1h-1zM9 45h1v1h-1zM15 45h1v1h-1zM0 46h2v1h-2zM8 46h1v1h-1zM1 48h1v1h-1zM6 48h1v1h-1zM9 48h2v1h-2zM6 49h1v1h-1zM18 49h1v1h-1zM2 50h1v1h-1zM12 50h1v1h-1zM6 51h1v1h-1zM8 51h1v1h-1zM1 52h1v1h-1zM3 52h3v1h-3zM7 52h1v1h-1zM9 52h2v1h-2zM17 52h1v1h-1zM11 53h1v1h-1zM8 54h1v1h-1zM20 54h1v1h-1zM2 55h1v1h-1zM7 55h1v1h-1zM12 55h1v1h-1zM16 55h1v1h-1zM20 55h1v1h-1zM11 56h1v1h-1zM3 57h1v1h-1zM6 57h1v1h-1zM13 57h1v1h-1zM17 57h1v1h-1zM19 57h1v1h-1zM2 58h1v1h-1zM11 58h1v1h-1zM13 58h1v1h-1zM3 59h1v1h-1zM5 59h1v1h-1zM17 59h1v1h-1zM8 60h1v1h-1zM8 61h1v1h-1zM4 62h1v1h-1zM6 62h1v1h-1zM8 62h1v1h-1zM11 62h2v1h-2zM3 63h5v1h-5zM13 63h1v1h-1zM15 63h2v1h-2zM8 64h5v1h-5zM15 64h1v1h-1zM4 65h2v1h-2zM8 65h1v1h-1zM1 66h1v1h-1zM9 66h1v1h-1zM14 66h1v1h-1zM4 68h1v1h-1zM6 68h1v1h-1zM8 68h2v1h-2zM12 68h1v1h-1zM2 69h1v1h-1zM7 69h1v1h-1zM9 69h1v1h-1zM7 70h2v1h-2zM11 70h1v1h-1zM1 71h3v1h-3zM11 72h2v1h-2zM17 72h1v1h-1zM10 73h2v1h-2zM16 73h1v1h-1zM5 74h1v1h-1zM7 74h1v1h-1zM9 74h2v1h-2zM12 74h1v1h-1zM3 75h1v1h-1zM3 76h1v1h-1zM7 76h1v1h-1zM1 77h1v1h-1zM3 77h1v1h-1zM5 77h2v1h-2zM15 77h1v1h-1zM3 78h2v1h-2zM11 79h3v1h-3zM15 79h1v1h-1zM21 79h1v1h-1zM0 80h2v1h-2zM3 81h1v1h-1zM13 82h1v1h-1zM1 83h1v1h-1zM13 83h1v1h-1zM15 83h1v1h-1zM17 83h1v1h-1zM1 86h1v1h-1zM3 86h1v1h-1zM9 86h1v1h-1zM12 86h1v1h-1zM2 87h3v1h-3zM9 87h1v1h-1zM6 88h2v1h-2zM9 88h1v1h-1zM15 88h1v1h-1zM21 88h1v1h-1zM6 89h4v1h-4zM11 89h1v1h-1zM14 89h1v1h-1zM16 89h1v1h-1zM10 91h1v1h-1zM15 91h1v1h-1zM4 92h2v1h-2zM11 92h1v1h-1zM13 92h1v1h-1zM17 92h1v1h-1zM3 93h1v1h-1zM23 93h1v1h-1zM4 94h1v1h-1zM14 94h1v1h-1zM21 94h1v1h-1zM1 95h1v1h-1zM12 95h1v1h-1zM1 96h1v1h-1zM7 96h1v1h-1zM15 96h1v1h-1zM9 97h1v1h-1zM14 97h1v1h-1zM11 98h1v1h-1zM0 99h1v1h-1zM2 99h1v1h-1zM4 99h1v1h-1zM13 99h1v1h-1zM12 100h2v1h-2zM17 100h1v1h-1zM6 103h1v1h-1zM2 104h3v1h-3zM6 104h1v1h-1zM11 104h1v1h-1zM13 105h1v1h-1zM15 107h1v1h-1zM1 109h1v1h-1zM3 109h1v1h-1zM5 109h1v1h-1zM2 110h1v1h-1zM1 111h1v1h-1zM15 112h1v1h-1zM22 112h1v1h-1zM13 113h1v1h-1zM16 113h1v1h-1zM17 114h1v1h-1zM5 115h1v1h-1zM10 115h1v1h-1zM2 116h2v1h-2zM5 116h1v1h-1zM7 117h1v1h-1zM5 118h1v1h-1zM16 118h1v1h-1zM19 119h2v1h-2z"/>
<path fill="#f7afb2" d="M4 1h1v1h-1zM6 1h1v1h-1zM10 1h1v1h-1zM0 2h1v1h-1zM15 4h1v1h-1zM17 4h1v1h-1zM1 5h1v1h-1zM9 5h1v1h-1zM16 5h1v1h-1zM19 5h1v1h-1zM22 5h1v1h-1zM4 7h1v1h-1zM18 7h1v1h-1zM8 8h2v1h-2zM17 8h1v1h-1zM3 10h1v1h-1zM3 11h1v1h-1zM14 11h1v1h-1zM3 12h1v1h-1zM9 12h1v1h-1zM17 12h1v1h-1zM2 14h1v1h-1zM4 14h1v1h-1zM0 15h1v1h-1zM2 15h1v1h-1zM6 15h1v1h-1zM13 16h1v1h-1zM16 17h2v1h-2zM4 21h1v1h-1zM2 23h2v1h-2zM16 24h1v1h-1zM1 25h2v1h-2zM6 25h1v1h-1zM9 25h1v1h-1zM20 25h1v1h-1zM22 25h1v1h-1zM12 26h1v1h-1zM19 26h1v1h-1zM6 27h1v1h-1zM8 27h1v1h-1zM10 27h1v1h-1zM13 27h1v1h-1zM17 27h1v1h-1zM1 28h1v1h-1zM5 28h1v1h-1zM17 28h1v1h-1zM2 29h1v1h-1zM6 29h1v1h-1zM16 30h2v1h-2zM17 32h1v1h-1zM2 33h2v1h-2zM7 33h1v1h-1zM10 35h1v1h-1zM18 35h1v1h-1zM13 36h1v1h-1zM17 36h1v1h-1zM2 37h1v1h-1zM14 37h1v1h-1zM11 40h1v1h-1zM16 41h1v1h-1zM15 42h1v1h-1zM1 43h1v1h-1zM5 43h1v1h-1zM0 44h1v1h-1zM4 44h1v1h-1zM4 45h1v1h-1zM6 45h1v1h-1zM14 45h1v1h-1zM8 48h1v1h-1zM8 49h1v1h-1zM10 49h1v1h-1zM1 50h1v1h-1zM9 50h3v1h-3zM5 51h1v1h-1zM7 51h1v1h-1zM11 51h1v1h-1zM2 52h1v1h-1zM22 52h1v1h-1zM2 53h1v1h-1zM10 53h1v1h-1zM13 53h1v1h-1zM6 54h1v1h-1zM10 54h1v1h-1zM0 55h2v1h-2zM8 55h1v1h-1zM11 55h1v1h-1zM13 55h1v1h-1zM17 56h1v1h-1zM2 57h1v1h-1zM4 57h2v1h-2zM16 58h1v1h-1zM4 59h1v1h-1zM15 59h1v1h-1zM17 60h1v1h-1zM10 61h1v1h-1zM13 62h1v1h-1zM2 63h1v1h-1zM19 63h1v1h-1zM1 64h2v1h-2zM4 64h1v1h-1zM18 64h1v1h-1zM10 65h1v1h-1zM2 66h1v1h-1zM5 67h2v1h-2zM18 67h1v1h-1zM10 68h1v1h-1zM13 68h1v1h-1zM4 69h1v1h-1zM11 69h1v1h-1zM6 70h1v1h-1zM6 71h1v1h-1zM12 71h1v1h-1zM6 74h1v1h-1zM11 74h1v1h-1zM13 74h1v1h-1zM1 75h2v1h-2zM7 75h1v1h-1zM4 76h1v1h-1zM6 76h1v1h-1zM11 76h4v1h-4zM4 77h1v1h-1zM8 77h1v1h-1zM16 77h1v1h-1zM18 78h1v1h-1zM3 79h1v1h-1zM5 79h1v1h-1zM9 79h1v1h-1zM14 79h1v1h-1zM16 79h2v1h-2zM4 80h1v1h-1zM13 81h1v1h-1zM16 81h1v1h-1zM11 82h2v1h-2zM2 83h1v1h-1zM8 83h2v1h-2zM21 83h1v1h-1zM17 85h1v1h-1zM22 85h1v1h-1zM2 86h1v1h-1zM6 86h3v1h-3zM6 87h1v1h-1zM17 87h1v1h-1zM2 88h4v1h-4zM20 89h1v1h-1zM11 91h3v1h-3zM2 92h2v1h-2zM2 93h1v1h-1zM4 93h1v1h-1zM9 93h1v1h-1zM12 93h2v1h-2zM20 93h1v1h-1zM3 94h1v1h-1zM5 94h1v1h-1zM8 94h1v1h-1zM10 94h1v1h-1zM12 94h1v1h-1zM15 94h1v1h-1zM2 95h1v1h-1zM10 95h2v1h-2zM18 95h1v1h-1zM2 96h1v1h-1zM9 96h1v1h-1zM18 96h1v1h-1zM17 97h1v1h-1zM1 98h1v1h-1zM9 98h1v1h-1zM12 98h1v1h-1zM1 99h1v1h-1zM3 99h1v1h-1zM10 99h2v1h-2zM18 99h1v1h-1zM6 100h1v1h-1zM10 100h2v1h-2zM23 100h1v1h-1zM4 102h1v1h-1zM6 102h1v1h-1zM8 102h1v1h-1zM4 103h2v1h-2zM7 103h1v1h-1zM12 103h1v1h-1zM0 104h1v1h-1zM5 104h1v1h-1zM12 104h1v1h-1zM11 105h1v1h-1zM14 105h1v1h-1zM1 106h1v1h-1zM2 107h3v1h-3zM10 107h1v1h-1zM20 107h1v1h-1zM5 108h1v1h-1zM9 108h1v1h-1zM4 109h1v1h-1zM6 109h1v1h-1zM20 109h1v1h-1zM23 109h1v1h-1zM3 111h2v1h-2zM6 111h1v1h-1zM11 111h1v1h-1zM17 111h1v1h-1zM5 112h1v1h-1zM8 112h1v1h-1zM21 113h1v1h-1zM2 114h1v1h-1zM16 114h1v1h-1zM21 114h1v1h-1zM3 115h1v1h-1zM13 115h1v1h-1zM23 115h1v1h-1zM15 116h1v1h-1zM8 117h1v1h-1zM21 117h1v1h-1zM4 118h1v1h-1zM7 118h2v1h-2zM6 119h1v1h-1zM14 119h1v1h-1zM21 119h1v1h-1z"/>
<path fill="#f59fa2" d="M1 0h1v1h-1zM19 1h1v1h-1zM1 3h1v1h-1zM16 3h1v1h-1zM3 5h2v1h-2zM6 7h1v1h-1zM14 7h1v1h-1zM17 7h1v1h-1zM21 7h1v1h-1zM10 8h1v1h-1zM1 9h1v1h-1zM17 9h1v1h-1zM21 9h1v1h-1zM6 12h1v1h-1zM13 14h1v1h-1zM18 14h2v1h-2zM14 15h1v1h-1zM17 15h1v1h-1zM23 15h1v1h-1zM14 17h1v1h-1zM14 18h1v1h-1zM22 18h1v1h-1zM14 19h1v1h-1zM22 19h1v1h-1zM15 21h1v1h-1zM19 22h1v1h-1zM9 23h1v1h-1zM19 23h1v1h-1zM4 24h1v1h-1zM4 26h1v1h-1zM18 29h1v1h-1zM21 32h2v1h-2zM1 33h1v1h-1zM18 34h1v1h-1zM9 35h1v1h-1zM11 35h1v1h-1zM20 36h1v1h-1zM20 37h1v1h-1zM14 39h1v1h-1zM22 39h2v1h-2zM12 40h1v1h-1zM15 41h1v1h-1zM7 43h1v1h-1zM9 43h1v1h-1zM2 47h1v1h-1zM5 47h1v1h-1zM7 48h1v1h-1zM14 48h1v1h-1zM16 48h1v1h-1zM7 49h1v1h-1zM13 49h1v1h-1zM13 50h1v1h-1zM15 50h1v1h-1zM3 51h1v1h-1zM19 52h1v1h-1zM12 53h1v1h-1zM21 54h1v1h-1zM3 55h1v1h-1zM6 55h1v1h-1zM14 55h1v1h-1zM22 55h1v1h-1zM3 56h2v1h-2zM18 57h1v1h-1zM12 58h1v1h-1zM22 58h1v1h-1zM0 60h1v1h-1zM10 60h1v1h-1zM14 61h1v1h-1zM18 61h1v1h-1zM9 62h1v1h-1zM20 62h1v1h-1zM23 62h1v1h-1zM1 63h1v1h-1zM6 64h2v1h-2zM16 64h1v1h-1zM22 64h1v1h-1zM7 65h1v1h-1zM9 65h1v1h-1zM4 67h1v1h-1zM7 67h1v1h-1zM16 67h1v1h-1zM3 68h1v1h-1zM7 68h1v1h-1zM11 68h1v1h-1zM21 68h1v1h-1zM1 69h1v1h-1zM8 69h1v1h-1zM10 69h1v1h-1zM15 69h2v1h-2zM21 69h1v1h-1zM9 71h1v1h-1zM19 71h1v1h-1zM0 75h1v1h-1zM6 75h1v1h-1zM5 76h1v1h-1zM14 77h1v1h-1zM2 78h1v1h-1zM17 78h1v1h-1zM7 79h1v1h-1zM5 80h2v1h-2zM11 80h1v1h-1zM14 80h1v1h-1zM16 80h1v1h-1zM19 80h1v1h-1zM21 81h1v1h-1zM10 83h1v1h-1zM18 83h1v1h-1zM20 84h1v1h-1zM4 86h1v1h-1zM11 86h1v1h-1zM15 87h1v1h-1zM22 87h1v1h-1zM14 88h1v1h-1zM10 89h1v1h-1zM15 89h1v1h-1zM17 89h2v1h-2zM21 89h1v1h-1zM22 90h2v1h-2zM12 92h1v1h-1zM22 92h1v1h-1zM5 93h1v1h-1zM8 93h1v1h-1zM10 93h2v1h-2zM6 94h1v1h-1zM9 94h1v1h-1zM11 94h1v1h-1zM16 95h1v1h-1zM3 96h1v1h-1zM6 96h1v1h-1zM11 96h1v1h-1zM14 96h1v1h-1zM7 97h1v1h-1zM6 98h1v1h-1zM10 98h1v1h-1zM13 98h1v1h-1zM9 99h1v1h-1zM7 100h1v1h-1zM0 102h1v1h-1zM3 102h1v1h-1zM5 102h1v1h-1zM9 102h2v1h-2zM20 102h1v1h-1zM1 103h2v1h-2zM22 103h1v1h-1zM9 104h2v1h-2zM0 105h1v1h-1zM12 105h1v1h-1zM17 105h1v1h-1zM19 105h1v1h-1zM7 106h5v1h-5zM13 106h1v1h-1zM0 107h1v1h-1zM9 107h1v1h-1zM1 108h4v1h-4zM23 108h1v1h-1zM2 109h1v1h-1zM7 109h1v1h-1zM1 110h1v1h-1zM2 111h1v1h-1zM1 112h1v1h-1zM4 112h1v1h-1zM7 112h1v1h-1zM10 112h1v1h-1zM14 112h1v1h-1zM16 112h1v1h-1zM15 113h1v1h-1zM17 113h1v1h-1zM13 114h1v1h-1zM22 114h1v1h-1zM2 115h1v1h-1zM6 115h1v1h-1zM11 115h2v1h-2zM15 115h1v1h-1zM6 116h1v1h-1zM3 117h2v1h-2zM9 117h1v1h-1zM23 117h1v1h-1zM1 118h1v1h-1zM6 118h1v1h-1zM11 118h1v1h-1zM19 118h1v1h-1zM5 119h1v1h-1zM8 119h1v1h-1z"/>
<path fill="#f48e92" d="M16 4h1v1h-1zM17 5h1v1h-1zM16 7h1v1h-1zM15 10h1v1h-1zM5 11h1v1h-1zM17 11h1v1h-1zM19 12h1v1h-1zM12 14h1v1h-1zM16 18h1v1h-1zM0 19h1v1h-1zM23 20h1v1h-1zM23 21h1v1h-1zM20 23h1v1h-1zM0 25h1v1h-1zM19 25h1v1h-1zM21 25h1v1h-1zM4 27h1v1h-1zM12 27h1v1h-1zM15 27h2v1h-2zM19 28h1v1h-1zM5 30h1v1h-1zM3 31h2v1h-2zM23 32h1v1h-1zM5 33h1v1h-1zM23 34h1v1h-1zM2 35h1v1h-1zM7 35h1v1h-1zM18 37h1v1h-1zM21 40h1v1h-1zM0 41h1v1h-1zM10 41h1v1h-1zM16 44h1v1h-1zM23 44h1v1h-1zM19 45h1v1h-1zM20 47h1v1h-1zM9 49h1v1h-1zM23 49h1v1h-1zM14 50h1v1h-1zM15 51h1v1h-1zM22 51h1v1h-1zM23 52h1v1h-1zM20 53h1v1h-1zM19 56h1v1h-1zM16 57h1v1h-1zM14 58h1v1h-1zM14 59h1v1h-1zM19 59h1v1h-1zM14 64h1v1h-1zM6 65h1v1h-1zM18 65h1v1h-1zM19 66h1v1h-1zM21 66h1v1h-1zM1 67h1v1h-1zM3 67h1v1h-1zM18 71h1v1h-1zM17 73h1v1h-1zM23 73h1v1h-1zM4 74h1v1h-1zM9 77h1v1h-1zM17 77h1v1h-1zM4 79h1v1h-1zM20 79h1v1h-1zM20 80h1v1h-1zM17 82h1v1h-1zM23 82h1v1h-1zM19 83h1v1h-1zM22 83h1v1h-1zM18 84h1v1h-1zM0 87h1v1h-1zM23 88h1v1h-1zM1 93h1v1h-1zM16 93h1v1h-1zM21 96h1v1h-1zM16 97h1v1h-1zM21 97h1v1h-1zM3 98h1v1h-1zM8 98h1v1h-1zM7 99h2v1h-2zM5 100h1v1h-1zM16 100h1v1h-1zM7 102h1v1h-1zM11 102h1v1h-1zM11 103h1v1h-1zM18 106h1v1h-1zM6 107h2v1h-2zM13 109h1v1h-1zM8 111h1v1h-1zM12 111h2v1h-2zM16 111h1v1h-1zM11 114h1v1h-1zM1 115h1v1h-1zM4 115h1v1h-1zM7 115h1v1h-1zM14 115h1v1h-1zM19 116h1v1h-1zM1 117h2v1h-2zM9 118h2v1h-2zM1 119h1v1h-1zM7 119h1v1h-1z"/>
<path fill="#f27e83" d="M15 1h1v1h-1zM17 3h2v1h-2zM18 9h1v1h-1zM21 11h1v1h-1zM23 13h1v1h-1zM21 19h1v1h-1zM22 20h1v1h-1zM17 22h2v1h-2zM21 22h1v1h-1zM14 29h1v1h-1zM14 30h2v1h-2zM18 31h1v1h-1zM0 35h1v1h-1zM3 37h1v1h-1zM22 40h1v1h-1zM23 54h1v1h-1zM18 59h1v1h-1zM19 60h2v1h-2zM20 61h1v1h-1zM22 62h1v1h-1zM22 65h1v1h-1zM7 66h1v1h-1zM19 67h1v1h-1zM22 67h2v1h-2zM18 70h1v1h-1zM7 71h1v1h-1zM20 72h1v1h-1zM19 74h1v1h-1zM23 74h1v1h-1zM1 78h1v1h-1zM16 83h1v1h-1zM18 85h1v1h-1zM22 86h1v1h-1zM16 87h1v1h-1zM0 91h1v1h-1zM16 92h1v1h-1zM17 93h1v1h-1zM0 94h1v1h-1zM19 94h1v1h-1zM19 96h1v1h-1zM14 99h1v1h-1zM19 99h1v1h-1zM21 100h1v1h-1zM18 104h1v1h-1zM9 105h1v1h-1zM5 107h1v1h-1zM11 107h1v1h-1zM17 110h1v1h-1zM22 110h1v1h-1zM18 111h1v1h-1zM6 112h1v1h-1zM1 114h1v1h-1zM12 114h1v1h-1zM22 115h1v1h-1zM2 118h2v1h-2zM17 118h1v1h-1zM3 119h1v1h-1z"/>
<path fill="#f06e73" d="M18 4h1v1h-1zM20 5h1v1h-1zM0 6h1v1h-1zM18 8h1v1h-1zM7 10h1v1h-1zM0 11h1v1h-1zM22 15h1v1h-1zM18 16h1v1h-1zM22 17h1v1h-1zM21 20h1v1h-1zM22 26h1v1h-1zM20 30h1v1h-1zM21 36h2v1h-2zM16 54h1v1h-1zM19 55h1v1h-1zM16 56h1v1h-1zM18 62h1v1h-1zM18 68h1v1h-1zM5 75h1v1h-1zM22 79h1v1h-1zM23 85h1v1h-1zM14 92h1v1h-1zM8 97h1v1h-1zM20 100h1v1h-1zM22 100h1v1h-1zM21 102h1v1h-1zM13 103h1v1h-1zM21 105h1v1h-1zM0 106h1v1h-1zM19 109h1v1h-1zM22 109h1v1h-1zM19 110h1v1h-1zM22 117h1v1h-1zM23 119h1v1h-1z"/>
<path fill="#ef5e64" d="M18 1h1v1h-1zM18 13h1v1h-1zM0 23h1v1h-1zM23 26h1v1h-1zM18 27h2v1h-2zM19 34h1v1h-1zM19 37h1v1h-1zM21 47h1v1h-1zM21 55h1v1h-1zM16 59h1v1h-1zM20 59h1v1h-1zM21 60h1v1h-1zM23 60h1v1h-1zM19 61h1v1h-1zM22 69h1v1h-1zM23 71h1v1h-1zM18 72h1v1h-1zM23 75h1v1h-1zM23 80h1v1h-1zM20 81h1v1h-1zM22 81h1v1h-1zM20 87h1v1h-1zM19 89h1v1h-1zM18 90h1v1h-1zM7 93h1v1h-1zM18 94h1v1h-1zM20 94h1v1h-1zM22 96h1v1h-1zM0 97h1v1h-1zM20 97h1v1h-1zM21 107h1v1h-1zM21 109h1v1h-1zM19 114h1v1h-1z"/>
<path fill="#ed4e54" d="M23 3h1v1h-1zM22 11h1v1h-1zM23 19h1v1h-1zM19 32h1v1h-1zM23 38h1v1h-1zM19 39h1v1h-1zM21 45h1v1h-1zM21 46h1v1h-1zM19 49h1v1h-1zM21 51h1v1h-1zM17 54h1v1h-1zM23 57h1v1h-1zM21 59h1v1h-1zM21 64h1v1h-1zM21 67h1v1h-1zM22 68h1v1h-1zM18 76h1v1h-1zM19 87h1v1h-1zM19 92h1v1h-1zM21 92h1v1h-1zM22 106h1v1h-1zM23 107h1v1h-1zM22 108h1v1h-1z"/>
<path fill="#eb3e45" d="M22 22h1v1h-1zM18 28h1v1h-1zM20 45h1v1h-1zM22 45h1v1h-1zM18 52h1v1h-1zM20 52h1v1h-1zM19 53h1v1h-1zM18 79h1v1h-1zM18 80h1v1h-1zM21 84h1v1h-1zM21 87h1v1h-1zM19 93h1v1h-1zM21 112h1v1h-1zM0 113h1v1h-1zM0 115h1v1h-1zM18 116h1v1h-1zM22 119h1v1h-1z"/>
<path fill="#ea2e35" d="M0 0h1v1h-1zM18 25h1v1h-1zM21 33h1v1h-1zM18 41h1v1h-1zM18 42h1v1h-1zM18 45h1v1h-1zM23 81h1v1h-1zM0 96h1v1h-1zM20 113h1v1h-1zM18 119h1v1h-1z"/>
<path fill="#e81e26" d="M22 16h1v1h-1zM22 31h1v1h-1zM23 40h1v1h-1zM22 60h1v1h-1zM20 92h1v1h-1zM20 99h1v1h-1z"/>
<path fill="#e81e26" d="M23 9h1v1h-1zM18 44h1v1h-1zM22 54h1v1h-1zM23 61h1v1h-1zM20 96h1v1h-1z"/>
<path fill="#e81e26" d="M21 23h1v1h-1zM20 34h1v1h-1zM21 39h1v1h-1zM18 56h1v1h-1zM21 58h1v1h-1zM19 62h1v1h-1zM0 76h1v1h-1z"/>
</g></g>
<g filter="url(#hb)"><rect x="332.2" y="69" width="7.7" height="2.8" fill="#e7b9c4"/><rect x="332.2" y="71.75" width="7.7" height="2.8" fill="#e7b9c4"/><rect x="332.2" y="74.5" width="7.7" height="2.8" fill="#e7b9c4"/><rect x="332.2" y="77.25" width="7.7" height="2.8" fill="#c98ea4"/><rect x="332.2" y="80" width="7.7" height="2.8" fill="#e7b9c4"/><rect x="332.2" y="82.75" width="7.7" height="2.8" fill="#e7b9c4"/><rect x="332.2" y="85.5" width="7.7" height="2.8" fill="#b26c8c"/><rect x="332.2" y="88.25" width="7.7" height="2.8" fill="#e7b9c4"/><rect x="332.2" y="91" width="7.7" height="2.8" fill="#d69aac"/><rect x="332.2" y="93.75" width="7.7" height="2.8" fill="#e7b9c4"/><rect x="332.2" y="96.5" width="7.7" height="2.8" fill="#c98ea4"/><rect x="332.2" y="99.25" width="7.7" height="2.8" fill="#b26c8c"/><rect x="332.2" y="102" width="7.7" height="2.8" fill="#b26c8c"/><rect x="332.2" y="104.75" width="7.7" height="2.8" fill="#d69aac"/><rect x="332.2" y="107.5" width="7.7" height="2.8" fill="#b26c8c"/><rect x="332.2" y="110.25" width="7.7" height="2.8" fill="#d69aac"/><rect x="332.2" y="113" width="7.7" height="2.8" fill="#c98ea4"/><rect x="332.2" y="115.75" width="7.7" height="2.8" fill="#d69aac"/><rect x="332.2" y="118.5" width="7.7" height="2.8" fill="#a88aa8"/><rect x="332.2" y="121.25" width="7.7" height="2.8" fill="#8c5c82"/><rect x="332.2" y="124" width="7.7" height="2.8" fill="#b26c8c"/><rect x="332.2" y="126.75" width="7.7" height="2.8" fill="#a88aa8"/><rect x="332.2" y="129.5" width="7.7" height="2.8" fill="#d69aac"/><rect x="332.2" y="132.25" width="7.7" height="2.8" fill="#e9c3cc"/><rect x="332.2" y="135" width="7.7" height="2.8" fill="#d69aac"/><rect x="332.2" y="137.75" width="7.7" height="2.8" fill="#7a4e6e"/><rect x="332.2" y="140.5" width="7.7" height="2.8" fill="#e7b9c4"/><rect x="332.2" y="143.25" width="7.7" height="2.8" fill="#e7b9c4"/><rect x="332.2" y="146" width="7.7" height="2.8" fill="#7a4e6e"/><rect x="332.2" y="148.75" width="7.7" height="2.8" fill="#e7b9c4"/><rect x="332.2" y="151.5" width="7.7" height="2.8" fill="#6e5474"/><rect x="332.2" y="154.25" width="7.7" height="2.8" fill="#8c5c82"/><rect x="332.2" y="157" width="7.7" height="2.8" fill="#b26c8c"/><rect x="332.2" y="159.75" width="7.7" height="2.8" fill="#8c5c82"/><rect x="332.2" y="162.5" width="7.7" height="2.8" fill="#8c5c82"/><rect x="332.2" y="165.25" width="7.7" height="2.8" fill="#b26c8c"/><rect x="332.2" y="168" width="7.7" height="2.8" fill="#e7b9c4"/><rect x="332.2" y="170.75" width="7.7" height="2.8" fill="#d69aac"/><rect x="332.2" y="173.5" width="7.7" height="2.8" fill="#a88aa8"/><rect x="332.2" y="176.25" width="7.7" height="2.8" fill="#c98ea4"/><rect x="332.2" y="179" width="7.7" height="2.8" fill="#b26c8c"/><rect x="332.2" y="181.75" width="7.7" height="2.8" fill="#b26c8c"/><rect x="332.2" y="184.5" width="7.7" height="2.8" fill="#7a4e6e"/><rect x="332.2" y="187.25" width="7.7" height="2.8" fill="#e7b9c4"/><rect x="332.2" y="190" width="7.7" height="2.8" fill="#a88aa8"/><rect x="332.2" y="192.75" width="7.7" height="2.8" fill="#e7b9c4"/><rect x="332.2" y="195.5" width="7.7" height="2.8" fill="#b26c8c"/><rect x="332.2" y="198.25" width="7.7" height="2.8" fill="#c98ea4"/><rect x="332.2" y="201" width="7.7" height="2.8" fill="#e7b9c4"/><rect x="332.2" y="203.75" width="7.7" height="2.8" fill="#a88aa8"/><rect x="332.2" y="206.5" width="7.7" height="2.8" fill="#7a4e6e"/><rect x="332.2" y="209.25" width="7.7" height="2.8" fill="#a88aa8"/><rect x="332.2" y="212" width="7.7" height="2.8" fill="#a88aa8"/><rect x="332.2" y="214.75" width="7.7" height="2.8" fill="#d69aac"/><rect x="332.2" y="217.5" width="7.7" height="2.8" fill="#8c5c82"/><rect x="332.2" y="220.25" width="7.7" height="2.8" fill="#e7b9c4"/><rect x="332.2" y="223" width="7.7" height="2.8" fill="#e9c3cc"/><rect x="332.2" y="225.75" width="7.7" height="2.8" fill="#6e5474"/><rect x="332.2" y="228.5" width="7.7" height="2.8" fill="#a88aa8"/><rect x="332.2" y="231.25" width="7.7" height="2.8" fill="#7a4e6e"/></g>
<path d="M343.75 65.6V64.6H351.45V65.6M359.15 65.6V64.4H366.85V65.6M347.6 64.6V64H363V64.4M374.55 65.6V64.6H382.25V65.6M389.95 65.6V64.5H397.65V65.6M378.4 64.6V64.1H393.8V64.5M355.3 64V63.6H386.1V64.1M405.35 65.6V64.5H413.05V65.6M420.75 65.6V64.6H428.45V65.6M424.6 64.6V64.2H436.15V65.6M409.2 64.5V63.8H430.38V64.2M370.7 63.6V63.3H419.79V63.8M336.05 65.6V60.4H395.24V63.3M443.85 65.6V62.2H451.55V65.6M459.25 65.6V61.8H466.95V65.6M463.1 61.8V61.2H474.65V65.6M447.7 62.2V60.9H468.88V61.2M365.65 60.4V59.6H458.29V60.9M411.97 59.6V57.6H482.35V65.6M447.16 57.6V57.3H490.05V65.6M468.6 57.3V57H497.75V65.6M483.18 57V56.6H505.45V65.6M494.31 56.6V52.4H513.15V65.6" fill="none" stroke="#333" stroke-width="0.7"/>
<text x="0.7" y="274.2" font-size="16.5" font-weight="bold">C</text>
<text x="35.3" y="276.3" font-size="13">Groups</text>
<rect x="35.6" y="284.2" width="5.7" height="5.6" fill="#4cb648"/>
<rect x="35.6" y="296.8" width="5.7" height="5.6" fill="#e41f26"/>
<text x="44.3" y="289.7" font-size="11.4">Shared</text>
<text x="44.3" y="302.6" font-size="11.4">Fetal-specific</text>
<defs><linearGradient id="cbC" x1="0" x2="1" y1="0" y2="0"><stop offset="0" stop-color="#33509f"/><stop offset="0.40" stop-color="#4567b0"/><stop offset="0.43" stop-color="#5a7abd"/><stop offset="0.455" stop-color="#ffffff"/><stop offset="0.56" stop-color="#f8c4c6"/><stop offset="0.72" stop-color="#f05a60"/><stop offset="0.86" stop-color="#e8252d"/><stop offset="1" stop-color="#e61e26"/></linearGradient></defs>
<rect x="152.4" y="262.1" width="50.9" height="7.7" fill="url(#cbC)"/>
<text x="159" y="277.8" font-size="6" text-anchor="middle">−4</text>
<text x="168.4" y="277.8" font-size="6" text-anchor="middle">−2</text>
<text x="177.8" y="277.8" font-size="6" text-anchor="middle">0</text>
<text x="187.2" y="277.8" font-size="6" text-anchor="middle">2</text>
<text x="196.6" y="277.8" font-size="6" text-anchor="middle">4</text>
<text x="177.9" y="290.1" font-size="9.6" text-anchor="middle">Motif frequency</text>
<text x="177.5" y="302.9" font-size="9.6" text-anchor="middle">(<tspan font-style="italic">Z</tspan>-score)</text>
<text x="20.4" y="399.8" font-size="13.4" text-anchor="middle" transform="rotate(-90 20.4 399.8)">5′ end motifs</text>
<rect x="25.8" y="322.2" width="91.03" height="3.6" fill="#4cb648"/>
<rect x="116.83" y="322.2" width="94.67" height="3.6" fill="#e41f26"/>
<g filter="url(#hb)"><g transform="translate(25.8 325.8) scale(3.6412 1.4982)">
<path fill="#3454a6" d="M0 4h1v1h-1zM0 79h1v1h-1z"/>
<path fill="#3454a6" d="M0 55h1v1h-1zM45 84h1v1h-1z"/>
<path fill="#3454a6" d="M4 27h1v1h-1zM35 30h1v1h-1zM48 33h1v1h-1zM48 42h1v1h-1zM40 61h1v1h-1zM40 63h1v1h-1zM6 67h1v1h-1zM33 70h1v1h-1zM39 71h1v1h-1z"/>
<path fill="#3454a6" d="M47 1h1v1h-1zM1 17h1v1h-1zM10 18h1v1h-1zM14 20h1v1h-1zM0 21h1v1h-1zM12 39h1v1h-1zM35 45h1v1h-1zM33 48h1v1h-1zM27 56h1v1h-1zM36 56h1v1h-1zM38 65h1v1h-1zM42 65h1v1h-1zM5 73h1v1h-1zM26 90h1v1h-1zM34 90h1v1h-1zM24 108h1v1h-1z"/>
<path fill="#3454a6" d="M14 5h1v1h-1zM24 5h1v1h-1zM2 7h2v1h-2zM21 7h1v1h-1zM45 11h1v1h-1zM0 12h1v1h-1zM44 18h1v1h-1zM42 20h1v1h-1zM25 23h1v1h-1zM32 28h1v1h-1zM27 29h1v1h-1zM17 30h1v1h-1zM23 30h1v1h-1zM44 32h1v1h-1zM38 35h1v1h-1zM15 36h1v1h-1zM1 39h1v1h-1zM41 39h1v1h-1zM29 40h1v1h-1zM31 40h1v1h-1zM11 46h1v1h-1zM32 47h2v1h-2zM35 47h1v1h-1zM37 47h1v1h-1zM47 62h1v1h-1zM34 63h1v1h-1zM40 64h1v1h-1zM43 68h1v1h-1zM2 71h1v1h-1zM50 72h1v1h-1zM42 81h1v1h-1zM27 83h1v1h-1zM50 83h1v1h-1zM29 86h1v1h-1zM42 87h1v1h-1zM30 89h1v1h-1zM4 94h1v1h-1zM3 97h1v1h-1zM6 103h1v1h-1z"/>
<path fill="#3454a6" d="M11 1h1v1h-1zM19 1h1v1h-1zM5 2h1v1h-1zM14 4h1v1h-1zM50 6h1v1h-1zM46 11h1v1h-1zM28 12h1v1h-1zM39 12h1v1h-1zM41 12h1v1h-1zM2 13h1v1h-1zM46 14h1v1h-1zM44 15h1v1h-1zM19 16h1v1h-1zM49 16h1v1h-1zM9 17h1v1h-1zM16 17h1v1h-1zM0 18h1v1h-1zM23 18h1v1h-1zM36 18h1v1h-1zM50 24h1v1h-1zM18 25h1v1h-1zM44 25h1v1h-1zM3 32h1v1h-1zM37 33h1v1h-1zM25 34h1v1h-1zM45 35h1v1h-1zM47 35h1v1h-1zM0 37h1v1h-1zM22 37h1v1h-1zM9 38h1v1h-1zM19 39h1v1h-1zM32 39h1v1h-1zM31 41h1v1h-1zM33 43h1v1h-1zM48 43h1v1h-1zM46 45h1v1h-1zM3 46h1v1h-1zM23 46h1v1h-1zM9 50h1v1h-1zM49 50h1v1h-1zM23 51h1v1h-1zM42 51h1v1h-1zM49 51h1v1h-1zM35 52h1v1h-1zM42 54h1v1h-1zM24 57h1v1h-1zM45 58h1v1h-1zM4 60h1v1h-1zM46 63h1v1h-1zM47 65h1v1h-1zM43 66h1v1h-1zM34 69h1v1h-1zM43 69h1v1h-1zM39 70h1v1h-1zM42 71h1v1h-1zM45 71h1v1h-1zM40 72h1v1h-1zM43 74h1v1h-1zM10 75h1v1h-1zM21 79h1v1h-1zM25 79h1v1h-1zM33 80h1v1h-1zM30 85h1v1h-1zM41 86h1v1h-1zM36 88h1v1h-1zM43 88h1v1h-1zM45 88h1v1h-1zM28 89h1v1h-1zM39 94h1v1h-1zM4 97h1v1h-1zM18 100h1v1h-1zM9 101h1v1h-1zM19 102h1v1h-1zM13 103h1v1h-1zM18 103h1v1h-1zM4 106h1v1h-1zM20 108h1v1h-1zM38 109h1v1h-1z"/>
<path fill="#3454a6" d="M4 0h1v1h-1zM39 3h1v1h-1zM3 4h1v1h-1zM10 5h1v1h-1zM16 6h1v1h-1zM9 7h1v1h-1zM22 7h1v1h-1zM25 7h1v1h-1zM17 9h1v1h-1zM24 10h1v1h-1zM48 10h1v1h-1zM21 11h1v1h-1zM42 12h1v1h-1zM14 15h1v1h-1zM39 15h1v1h-1zM43 16h1v1h-1zM18 17h1v1h-1zM42 17h1v1h-1zM39 18h1v1h-1zM32 19h1v1h-1zM50 19h1v1h-1zM31 20h1v1h-1zM47 20h1v1h-1zM0 22h1v1h-1zM23 22h1v1h-1zM41 23h1v1h-1zM29 26h1v1h-1zM38 28h1v1h-1zM44 28h1v1h-1zM40 30h1v1h-1zM25 31h1v1h-1zM40 31h2v1h-2zM37 32h1v1h-1zM26 33h1v1h-1zM40 34h1v1h-1zM49 35h1v1h-1zM46 37h1v1h-1zM25 38h1v1h-1zM43 38h1v1h-1zM31 39h1v1h-1zM46 39h1v1h-1zM27 40h1v1h-1zM49 41h1v1h-1zM16 42h1v1h-1zM43 42h1v1h-1zM36 43h1v1h-1zM46 43h1v1h-1zM32 45h1v1h-1zM25 46h1v1h-1zM45 47h1v1h-1zM26 49h1v1h-1zM32 49h1v1h-1zM10 50h1v1h-1zM21 50h1v1h-1zM22 51h1v1h-1zM38 51h1v1h-1zM43 52h1v1h-1zM45 52h1v1h-1zM17 54h1v1h-1zM25 56h1v1h-1zM42 56h1v1h-1zM45 56h1v1h-1zM50 56h1v1h-1zM44 57h1v1h-1zM50 57h1v1h-1zM18 58h1v1h-1zM25 60h1v1h-1zM14 61h3v1h-3zM26 61h1v1h-1zM30 61h2v1h-2zM4 62h1v1h-1zM37 62h1v1h-1zM25 63h1v1h-1zM47 63h1v1h-1zM34 64h1v1h-1zM36 64h1v1h-1zM44 64h1v1h-1zM34 65h1v1h-1zM45 65h1v1h-1zM34 66h1v1h-1zM49 66h1v1h-1zM11 67h1v1h-1zM46 67h1v1h-1zM13 68h1v1h-1zM46 68h1v1h-1zM0 74h1v1h-1zM25 74h1v1h-1zM45 74h1v1h-1zM34 75h1v1h-1zM37 75h1v1h-1zM31 78h1v1h-1zM36 78h1v1h-1zM37 79h1v1h-1zM45 81h1v1h-1zM47 83h1v1h-1zM29 84h1v1h-1zM33 84h1v1h-1zM39 84h1v1h-1zM41 84h2v1h-2zM12 85h1v1h-1zM22 85h1v1h-1zM31 85h1v1h-1zM8 86h1v1h-1zM26 86h1v1h-1zM36 86h1v1h-1zM30 87h1v1h-1zM32 87h1v1h-1zM34 87h1v1h-1zM21 88h1v1h-1zM49 88h1v1h-1zM19 89h1v1h-1zM23 89h1v1h-1zM31 89h1v1h-1zM44 89h1v1h-1zM0 91h1v1h-1zM28 91h1v1h-1zM26 92h1v1h-1zM7 93h1v1h-1zM29 93h1v1h-1zM7 94h1v1h-1zM4 95h1v1h-1zM7 95h1v1h-1zM16 98h1v1h-1zM24 98h1v1h-1zM15 101h1v1h-1zM22 101h1v1h-1zM3 102h1v1h-1zM10 102h2v1h-2zM14 102h1v1h-1zM42 102h1v1h-1zM17 103h1v1h-1zM6 105h1v1h-1zM22 105h1v1h-1zM44 105h1v1h-1z"/>
<path fill="#3454a6" d="M8 0h1v1h-1zM6 1h1v1h-1zM13 1h1v1h-1zM15 1h1v1h-1zM17 1h1v1h-1zM49 1h1v1h-1zM12 2h1v1h-1zM25 3h1v1h-1zM42 3h1v1h-1zM18 5h1v1h-1zM23 5h1v1h-1zM6 6h1v1h-1zM19 7h1v1h-1zM35 8h1v1h-1zM37 8h1v1h-1zM49 8h1v1h-1zM26 9h1v1h-1zM32 10h1v1h-1zM40 10h1v1h-1zM38 11h1v1h-1zM42 11h1v1h-1zM13 12h1v1h-1zM49 12h1v1h-1zM25 14h1v1h-1zM11 15h1v1h-1zM25 15h2v1h-2zM35 15h2v1h-2zM30 16h1v1h-1zM33 16h1v1h-1zM42 16h1v1h-1zM14 17h1v1h-1zM37 17h1v1h-1zM47 17h1v1h-1zM41 19h2v1h-2zM3 20h1v1h-1zM12 20h1v1h-1zM26 20h1v1h-1zM35 21h1v1h-1zM39 21h1v1h-1zM9 22h1v1h-1zM16 22h1v1h-1zM37 22h1v1h-1zM0 24h1v1h-1zM44 24h1v1h-1zM16 25h1v1h-1zM24 25h1v1h-1zM39 25h1v1h-1zM42 25h1v1h-1zM47 25h1v1h-1zM15 27h1v1h-1zM18 27h1v1h-1zM31 27h1v1h-1zM39 28h1v1h-1zM33 29h1v1h-1zM35 29h2v1h-2zM0 30h1v1h-1zM25 30h1v1h-1zM9 31h1v1h-1zM47 31h1v1h-1zM49 31h1v1h-1zM28 32h1v1h-1zM40 32h1v1h-1zM45 32h1v1h-1zM30 33h1v1h-1zM33 33h1v1h-1zM44 33h2v1h-2zM49 33h1v1h-1zM9 34h1v1h-1zM22 34h1v1h-1zM40 35h1v1h-1zM0 36h1v1h-1zM16 36h1v1h-1zM40 36h1v1h-1zM21 37h1v1h-1zM28 37h1v1h-1zM35 37h1v1h-1zM37 37h1v1h-1zM7 38h1v1h-1zM36 38h1v1h-1zM49 38h1v1h-1zM4 39h1v1h-1zM11 40h1v1h-1zM44 40h1v1h-1zM34 41h1v1h-1zM0 42h1v1h-1zM36 42h1v1h-1zM40 42h1v1h-1zM44 42h1v1h-1zM49 43h2v1h-2zM48 44h1v1h-1zM30 45h1v1h-1zM34 45h1v1h-1zM48 45h1v1h-1zM8 46h1v1h-1zM20 46h1v1h-1zM27 47h1v1h-1zM42 47h1v1h-1zM26 48h1v1h-1zM28 48h1v1h-1zM39 48h1v1h-1zM42 48h1v1h-1zM50 48h1v1h-1zM50 49h1v1h-1zM3 50h1v1h-1zM14 50h1v1h-1zM40 50h1v1h-1zM48 50h1v1h-1zM31 51h1v1h-1zM33 51h1v1h-1zM33 53h1v1h-1zM8 54h1v1h-1zM25 54h1v1h-1zM27 54h1v1h-1zM49 54h1v1h-1zM40 55h1v1h-1zM49 55h1v1h-1zM46 57h1v1h-1zM1 58h1v1h-1zM31 58h1v1h-1zM33 58h1v1h-1zM47 58h1v1h-1zM24 59h1v1h-1zM44 59h1v1h-1zM46 59h1v1h-1zM19 60h1v1h-1zM23 60h1v1h-1zM35 60h1v1h-1zM49 60h1v1h-1zM19 61h1v1h-1zM37 61h2v1h-2zM45 61h1v1h-1zM33 62h1v1h-1zM49 63h1v1h-1zM29 64h1v1h-1zM48 64h1v1h-1zM29 65h1v1h-1zM30 66h1v1h-1zM32 66h1v1h-1zM37 66h1v1h-1zM45 66h1v1h-1zM26 67h1v1h-1zM37 67h1v1h-1zM25 69h1v1h-1zM30 69h1v1h-1zM35 69h1v1h-1zM46 69h1v1h-1zM30 70h1v1h-1zM35 70h1v1h-1zM40 70h1v1h-1zM3 71h1v1h-1zM38 72h1v1h-1zM46 72h1v1h-1zM8 73h1v1h-1zM31 73h1v1h-1zM49 73h1v1h-1zM38 74h1v1h-1zM26 76h1v1h-1zM29 76h1v1h-1zM26 78h1v1h-1zM30 78h1v1h-1zM45 78h1v1h-1zM49 78h2v1h-2zM14 79h1v1h-1zM17 79h1v1h-1zM28 80h1v1h-1zM30 80h1v1h-1zM31 82h1v1h-1zM44 82h1v1h-1zM50 82h1v1h-1zM21 83h1v1h-1zM38 84h1v1h-1zM47 84h1v1h-1zM5 85h1v1h-1zM32 86h1v1h-1zM27 87h2v1h-2zM48 87h1v1h-1zM20 88h1v1h-1zM46 88h1v1h-1zM6 89h1v1h-1zM22 89h1v1h-1zM42 89h1v1h-1zM46 89h1v1h-1zM19 91h1v1h-1zM23 91h1v1h-1zM46 91h1v1h-1zM1 92h1v1h-1zM23 92h1v1h-1zM48 92h1v1h-1zM24 93h1v1h-1zM30 93h1v1h-1zM43 93h1v1h-1zM5 94h1v1h-1zM14 94h1v1h-1zM50 94h1v1h-1zM30 95h1v1h-1zM32 95h1v1h-1zM12 96h1v1h-1zM23 96h1v1h-1zM16 97h1v1h-1zM23 97h1v1h-1zM7 98h1v1h-1zM13 98h1v1h-1zM15 98h1v1h-1zM29 98h1v1h-1zM12 99h1v1h-1zM39 99h1v1h-1zM6 100h1v1h-1zM23 101h1v1h-1zM44 101h1v1h-1zM49 101h1v1h-1zM8 102h1v1h-1zM3 103h1v1h-1zM19 103h2v1h-2zM3 104h1v1h-1zM1 105h1v1h-1zM8 105h2v1h-2zM1 106h1v1h-1zM47 106h1v1h-1z"/>
<path fill="#4461ad" d="M2 0h1v1h-1zM7 0h1v1h-1zM12 1h1v1h-1zM18 1h1v1h-1zM50 1h1v1h-1zM16 2h1v1h-1zM9 3h3v1h-3zM23 3h1v1h-1zM40 3h1v1h-1zM31 4h1v1h-1zM17 5h1v1h-1zM28 5h1v1h-1zM0 6h1v1h-1zM26 6h1v1h-1zM49 6h1v1h-1zM8 7h1v1h-1zM20 8h1v1h-1zM29 8h2v1h-2zM3 10h1v1h-1zM17 10h1v1h-1zM44 10h1v1h-1zM49 10h1v1h-1zM23 11h1v1h-1zM37 11h1v1h-1zM40 11h1v1h-1zM50 11h1v1h-1zM12 12h1v1h-1zM19 12h1v1h-1zM26 12h1v1h-1zM35 12h1v1h-1zM9 13h1v1h-1zM45 14h1v1h-1zM37 15h1v1h-1zM21 16h2v1h-2zM29 16h1v1h-1zM34 16h1v1h-1zM30 17h2v1h-2zM38 17h1v1h-1zM36 19h1v1h-1zM49 19h1v1h-1zM50 20h1v1h-1zM19 21h1v1h-1zM36 21h1v1h-1zM38 21h1v1h-1zM2 23h1v1h-1zM49 23h1v1h-1zM26 24h1v1h-1zM42 24h1v1h-1zM48 24h1v1h-1zM2 25h1v1h-1zM15 25h1v1h-1zM17 25h1v1h-1zM28 25h1v1h-1zM38 25h1v1h-1zM30 26h1v1h-1zM45 26h1v1h-1zM0 27h1v1h-1zM13 27h1v1h-1zM17 27h1v1h-1zM22 27h2v1h-2zM26 28h1v1h-1zM31 29h1v1h-1zM42 29h1v1h-1zM5 30h1v1h-1zM29 30h1v1h-1zM33 30h1v1h-1zM49 30h1v1h-1zM37 31h1v1h-1zM39 31h1v1h-1zM48 31h1v1h-1zM50 31h1v1h-1zM26 32h1v1h-1zM42 35h1v1h-1zM44 35h1v1h-1zM27 36h1v1h-1zM29 36h1v1h-1zM41 37h1v1h-1zM45 37h1v1h-1zM11 38h1v1h-1zM38 38h1v1h-1zM42 38h1v1h-1zM44 38h1v1h-1zM2 39h1v1h-1zM8 39h1v1h-1zM21 39h1v1h-1zM28 39h1v1h-1zM33 39h1v1h-1zM28 40h1v1h-1zM30 40h1v1h-1zM45 40h1v1h-1zM50 41h1v1h-1zM41 42h1v1h-1zM45 42h1v1h-1zM0 43h1v1h-1zM6 43h1v1h-1zM28 43h2v1h-2zM42 43h2v1h-2zM0 44h1v1h-1zM29 44h1v1h-1zM6 45h1v1h-1zM11 45h1v1h-1zM13 45h1v1h-1zM29 45h1v1h-1zM37 45h1v1h-1zM44 45h1v1h-1zM12 46h1v1h-1zM39 46h3v1h-3zM48 46h1v1h-1zM43 47h1v1h-1zM47 47h1v1h-1zM50 47h1v1h-1zM31 48h1v1h-1zM43 48h1v1h-1zM24 49h1v1h-1zM34 49h1v1h-1zM41 49h1v1h-1zM45 49h2v1h-2zM48 49h1v1h-1zM8 50h1v1h-1zM45 50h1v1h-1zM39 51h1v1h-1zM41 51h1v1h-1zM47 51h1v1h-1zM27 52h1v1h-1zM44 52h1v1h-1zM50 52h1v1h-1zM8 53h2v1h-2zM32 53h1v1h-1zM39 53h1v1h-1zM45 53h1v1h-1zM50 54h1v1h-1zM44 55h1v1h-1zM26 56h1v1h-1zM30 56h1v1h-1zM33 56h1v1h-1zM41 56h1v1h-1zM46 56h1v1h-1zM23 57h1v1h-1zM30 58h1v1h-1zM5 60h1v1h-1zM15 60h1v1h-1zM18 60h1v1h-1zM50 60h1v1h-1zM43 61h1v1h-1zM48 61h1v1h-1zM44 62h1v1h-1zM49 62h1v1h-1zM6 63h1v1h-1zM31 63h1v1h-1zM33 63h1v1h-1zM39 63h1v1h-1zM28 64h1v1h-1zM35 64h1v1h-1zM39 64h1v1h-1zM21 65h2v1h-2zM31 65h2v1h-2zM36 65h1v1h-1zM44 65h1v1h-1zM38 66h1v1h-1zM47 66h1v1h-1zM27 67h1v1h-1zM38 67h1v1h-1zM47 67h1v1h-1zM9 68h1v1h-1zM20 68h1v1h-1zM44 68h1v1h-1zM32 69h1v1h-1zM41 69h1v1h-1zM44 69h1v1h-1zM47 69h2v1h-2zM26 70h1v1h-1zM36 70h1v1h-1zM49 71h2v1h-2zM39 72h1v1h-1zM47 72h1v1h-1zM25 73h1v1h-1zM41 73h1v1h-1zM45 73h1v1h-1zM39 74h1v1h-1zM33 75h1v1h-1zM35 75h1v1h-1zM9 76h1v1h-1zM36 76h1v1h-1zM5 77h1v1h-1zM48 77h1v1h-1zM32 78h1v1h-1zM16 79h1v1h-1zM19 79h2v1h-2zM32 79h1v1h-1zM50 79h1v1h-1zM19 80h1v1h-1zM26 81h1v1h-1zM50 81h1v1h-1zM27 82h1v1h-1zM34 82h1v1h-1zM42 82h1v1h-1zM48 82h1v1h-1zM17 83h1v1h-1zM32 83h1v1h-1zM41 83h1v1h-1zM48 83h1v1h-1zM26 84h1v1h-1zM43 84h1v1h-1zM35 85h2v1h-2zM24 86h1v1h-1zM28 86h1v1h-1zM35 86h1v1h-1zM49 86h1v1h-1zM5 87h1v1h-1zM26 87h1v1h-1zM33 87h1v1h-1zM44 87h2v1h-2zM49 87h1v1h-1zM37 88h1v1h-1zM48 88h1v1h-1zM11 89h1v1h-1zM41 89h1v1h-1zM45 89h1v1h-1zM27 90h1v1h-1zM32 90h1v1h-1zM48 90h2v1h-2zM9 91h1v1h-1zM24 91h1v1h-1zM30 91h1v1h-1zM25 92h1v1h-1zM50 92h1v1h-1zM27 93h1v1h-1zM15 94h1v1h-1zM17 94h1v1h-1zM20 94h1v1h-1zM47 94h1v1h-1zM19 96h1v1h-1zM6 97h1v1h-1zM22 97h1v1h-1zM4 98h1v1h-1zM9 98h1v1h-1zM14 98h1v1h-1zM19 98h1v1h-1zM7 100h1v1h-1zM14 100h1v1h-1zM20 100h1v1h-1zM22 100h1v1h-1zM21 101h1v1h-1zM42 101h1v1h-1zM47 101h1v1h-1zM5 102h1v1h-1zM7 102h1v1h-1zM9 102h1v1h-1zM16 102h1v1h-1zM2 103h1v1h-1zM8 103h1v1h-1zM12 103h1v1h-1zM22 103h1v1h-1zM5 104h1v1h-1zM7 104h1v1h-1zM2 106h1v1h-1zM18 106h1v1h-1zM32 106h1v1h-1zM29 107h1v1h-1zM42 107h1v1h-1zM3 108h1v1h-1zM6 108h1v1h-1zM15 108h2v1h-2zM24 109h1v1h-1zM39 109h1v1h-1zM43 109h1v1h-1z"/>
<path fill="#5872b6" d="M6 0h1v1h-1zM9 0h1v1h-1zM11 0h1v1h-1zM19 0h2v1h-2zM14 1h1v1h-1zM25 1h1v1h-1zM46 1h1v1h-1zM4 2h1v1h-1zM18 2h1v1h-1zM41 3h1v1h-1zM24 4h2v1h-2zM35 4h2v1h-2zM20 5h1v1h-1zM49 5h1v1h-1zM15 6h1v1h-1zM10 7h1v1h-1zM18 7h1v1h-1zM50 7h1v1h-1zM19 8h1v1h-1zM32 8h1v1h-1zM36 8h1v1h-1zM47 8h2v1h-2zM50 8h1v1h-1zM5 9h1v1h-1zM39 9h1v1h-1zM19 10h1v1h-1zM27 10h1v1h-1zM50 10h1v1h-1zM0 11h1v1h-1zM22 11h1v1h-1zM35 11h2v1h-2zM14 12h1v1h-1zM16 12h1v1h-1zM32 12h1v1h-1zM37 12h2v1h-2zM40 12h1v1h-1zM6 13h3v1h-3zM33 13h2v1h-2zM21 14h1v1h-1zM27 14h1v1h-1zM37 14h1v1h-1zM42 14h1v1h-1zM13 15h1v1h-1zM27 15h1v1h-1zM33 15h1v1h-1zM38 15h1v1h-1zM43 15h1v1h-1zM24 16h1v1h-1zM2 17h1v1h-1zM5 17h1v1h-1zM17 17h1v1h-1zM43 17h1v1h-1zM48 17h1v1h-1zM3 18h1v1h-1zM21 18h1v1h-1zM27 18h1v1h-1zM41 18h1v1h-1zM26 19h3v1h-3zM43 19h1v1h-1zM46 19h1v1h-1zM6 20h1v1h-1zM15 20h1v1h-1zM44 20h1v1h-1zM46 20h1v1h-1zM18 21h1v1h-1zM21 21h2v1h-2zM28 21h1v1h-1zM40 21h1v1h-1zM49 21h1v1h-1zM17 22h1v1h-1zM20 22h1v1h-1zM36 22h1v1h-1zM0 23h2v1h-2zM3 23h1v1h-1zM14 23h1v1h-1zM13 25h2v1h-2zM48 25h1v1h-1zM28 26h1v1h-1zM46 26h1v1h-1zM50 26h1v1h-1zM24 27h1v1h-1zM49 27h1v1h-1zM27 28h1v1h-1zM50 28h1v1h-1zM13 29h1v1h-1zM28 29h1v1h-1zM30 29h1v1h-1zM48 29h1v1h-1zM3 30h1v1h-1zM16 30h1v1h-1zM18 30h2v1h-2zM24 30h1v1h-1zM30 30h1v1h-1zM48 30h1v1h-1zM0 32h1v1h-1zM4 32h1v1h-1zM27 32h1v1h-1zM29 32h1v1h-1zM36 32h1v1h-1zM42 32h1v1h-1zM25 33h1v1h-1zM29 33h1v1h-1zM35 33h2v1h-2zM38 33h1v1h-1zM47 33h1v1h-1zM17 34h1v1h-1zM37 34h1v1h-1zM39 35h1v1h-1zM18 36h1v1h-1zM29 37h1v1h-1zM33 37h1v1h-1zM12 38h1v1h-1zM30 38h1v1h-1zM37 38h1v1h-1zM41 38h1v1h-1zM5 39h2v1h-2zM9 39h1v1h-1zM40 39h1v1h-1zM42 39h1v1h-1zM45 39h1v1h-1zM25 40h1v1h-1zM29 41h1v1h-1zM35 41h1v1h-1zM37 41h1v1h-1zM4 42h1v1h-1zM25 42h1v1h-1zM39 42h1v1h-1zM46 42h1v1h-1zM49 42h1v1h-1zM26 43h1v1h-1zM34 43h1v1h-1zM47 43h1v1h-1zM25 44h1v1h-1zM49 44h2v1h-2zM5 45h1v1h-1zM14 45h1v1h-1zM27 45h2v1h-2zM40 45h1v1h-1zM43 45h1v1h-1zM50 45h1v1h-1zM0 46h1v1h-1zM49 46h1v1h-1zM26 47h1v1h-1zM31 47h1v1h-1zM40 47h1v1h-1zM29 48h1v1h-1zM35 48h2v1h-2zM33 49h1v1h-1zM43 49h2v1h-2zM15 50h1v1h-1zM22 50h1v1h-1zM39 50h1v1h-1zM29 51h1v1h-1zM34 51h3v1h-3zM48 51h1v1h-1zM15 52h1v1h-1zM20 52h1v1h-1zM26 52h1v1h-1zM31 52h1v1h-1zM29 53h1v1h-1zM34 53h2v1h-2zM26 54h1v1h-1zM38 54h1v1h-1zM47 54h1v1h-1zM33 55h1v1h-1zM38 55h1v1h-1zM35 56h1v1h-1zM39 56h1v1h-1zM47 56h1v1h-1zM6 57h1v1h-1zM8 57h1v1h-1zM2 58h1v1h-1zM9 58h1v1h-1zM25 58h1v1h-1zM29 58h1v1h-1zM32 58h1v1h-1zM36 58h1v1h-1zM39 58h1v1h-1zM41 58h1v1h-1zM21 59h1v1h-1zM23 59h1v1h-1zM45 59h1v1h-1zM47 59h4v1h-4zM24 60h1v1h-1zM28 60h1v1h-1zM46 60h2v1h-2zM0 61h1v1h-1zM34 62h1v1h-1zM38 62h1v1h-1zM42 62h1v1h-1zM45 62h1v1h-1zM16 63h1v1h-1zM30 63h1v1h-1zM32 63h1v1h-1zM37 63h1v1h-1zM41 63h1v1h-1zM48 63h1v1h-1zM13 64h1v1h-1zM42 64h1v1h-1zM49 64h1v1h-1zM33 65h1v1h-1zM35 65h1v1h-1zM37 65h1v1h-1zM39 65h1v1h-1zM41 65h1v1h-1zM33 66h1v1h-1zM44 66h1v1h-1zM7 67h1v1h-1zM9 67h1v1h-1zM39 67h1v1h-1zM48 67h3v1h-3zM10 68h1v1h-1zM22 68h1v1h-1zM28 69h2v1h-2zM42 69h1v1h-1zM29 70h1v1h-1zM32 70h1v1h-1zM38 70h1v1h-1zM48 70h1v1h-1zM38 71h1v1h-1zM41 71h1v1h-1zM46 71h1v1h-1zM30 72h1v1h-1zM33 72h1v1h-1zM6 73h1v1h-1zM26 73h1v1h-1zM43 73h2v1h-2zM30 74h1v1h-1zM33 74h1v1h-1zM44 74h1v1h-1zM50 74h1v1h-1zM41 75h1v1h-1zM0 76h1v1h-1zM27 76h1v1h-1zM31 76h1v1h-1zM48 76h2v1h-2zM10 77h1v1h-1zM18 77h1v1h-1zM34 78h1v1h-1zM18 79h1v1h-1zM35 79h1v1h-1zM9 80h1v1h-1zM26 80h2v1h-2zM27 81h1v1h-1zM29 81h1v1h-1zM32 81h1v1h-1zM47 81h2v1h-2zM26 82h1v1h-1zM28 82h2v1h-2zM35 82h1v1h-1zM37 82h1v1h-1zM41 82h1v1h-1zM45 82h1v1h-1zM18 83h2v1h-2zM31 83h1v1h-1zM36 83h1v1h-1zM49 83h1v1h-1zM31 84h1v1h-1zM40 84h1v1h-1zM38 85h3v1h-3zM42 85h1v1h-1zM27 86h1v1h-1zM33 86h2v1h-2zM37 86h1v1h-1zM39 86h1v1h-1zM42 86h1v1h-1zM47 86h1v1h-1zM10 87h1v1h-1zM39 87h2v1h-2zM47 87h1v1h-1zM19 88h1v1h-1zM29 88h1v1h-1zM12 89h1v1h-1zM20 89h1v1h-1zM26 89h1v1h-1zM33 89h2v1h-2zM43 89h1v1h-1zM49 89h1v1h-1zM21 90h1v1h-1zM33 90h1v1h-1zM8 91h1v1h-1zM20 91h1v1h-1zM22 91h1v1h-1zM31 91h1v1h-1zM19 92h1v1h-1zM49 92h1v1h-1zM18 94h1v1h-1zM24 94h1v1h-1zM48 94h1v1h-1zM6 95h1v1h-1zM47 95h1v1h-1zM5 96h1v1h-1zM16 96h2v1h-2zM20 96h2v1h-2zM5 97h1v1h-1zM9 97h1v1h-1zM15 97h1v1h-1zM17 97h1v1h-1zM21 97h1v1h-1zM38 99h1v1h-1zM5 100h1v1h-1zM8 100h1v1h-1zM17 100h1v1h-1zM8 101h1v1h-1zM24 101h1v1h-1zM37 101h1v1h-1zM6 102h1v1h-1zM12 102h2v1h-2zM46 102h1v1h-1zM11 103h1v1h-1zM21 103h1v1h-1zM4 104h1v1h-1zM18 104h1v1h-1zM22 104h1v1h-1zM27 104h1v1h-1zM0 105h1v1h-1zM15 105h1v1h-1zM8 106h1v1h-1zM45 106h1v1h-1zM48 106h1v1h-1zM37 107h4v1h-4zM44 107h2v1h-2zM47 107h1v1h-1zM1 108h2v1h-2zM7 108h1v1h-1zM13 108h1v1h-1zM13 109h1v1h-1zM50 109h1v1h-1z"/>
<path fill="#6c84bf" d="M10 0h1v1h-1zM18 0h1v1h-1zM49 0h1v1h-1zM1 1h1v1h-1zM4 3h1v1h-1zM7 3h2v1h-2zM37 4h1v1h-1zM3 5h2v1h-2zM19 5h1v1h-1zM22 5h1v1h-1zM25 5h1v1h-1zM50 5h1v1h-1zM14 6h1v1h-1zM12 7h1v1h-1zM15 7h2v1h-2zM49 7h1v1h-1zM31 8h1v1h-1zM33 8h1v1h-1zM4 9h1v1h-1zM25 9h1v1h-1zM1 10h1v1h-1zM25 10h1v1h-1zM28 10h1v1h-1zM30 10h1v1h-1zM38 10h1v1h-1zM30 11h3v1h-3zM39 11h1v1h-1zM29 12h1v1h-1zM34 12h1v1h-1zM48 12h1v1h-1zM39 13h1v1h-1zM16 14h1v1h-1zM18 14h1v1h-1zM35 14h2v1h-2zM38 14h1v1h-1zM40 14h1v1h-1zM10 15h1v1h-1zM14 16h1v1h-1zM25 16h1v1h-1zM31 16h1v1h-1zM25 17h1v1h-1zM41 17h1v1h-1zM46 17h1v1h-1zM22 18h1v1h-1zM37 18h1v1h-1zM40 18h1v1h-1zM33 19h1v1h-1zM35 19h1v1h-1zM38 19h1v1h-1zM48 19h1v1h-1zM7 20h1v1h-1zM13 20h1v1h-1zM16 20h1v1h-1zM49 20h1v1h-1zM26 21h1v1h-1zM34 21h1v1h-1zM46 21h1v1h-1zM19 22h1v1h-1zM21 22h2v1h-2zM25 22h2v1h-2zM46 22h1v1h-1zM15 23h1v1h-1zM26 23h1v1h-1zM25 24h1v1h-1zM41 24h1v1h-1zM1 25h1v1h-1zM23 25h1v1h-1zM29 25h3v1h-3zM46 25h1v1h-1zM26 26h1v1h-1zM47 26h3v1h-3zM36 27h1v1h-1zM40 27h1v1h-1zM28 28h1v1h-1zM26 29h1v1h-1zM34 29h1v1h-1zM50 29h1v1h-1zM31 30h1v1h-1zM2 31h1v1h-1zM35 31h1v1h-1zM43 31h1v1h-1zM30 32h1v1h-1zM38 32h1v1h-1zM43 32h1v1h-1zM28 33h1v1h-1zM31 33h2v1h-2zM41 33h1v1h-1zM43 33h1v1h-1zM19 34h1v1h-1zM34 34h1v1h-1zM39 34h1v1h-1zM24 35h2v1h-2zM37 35h1v1h-1zM43 35h1v1h-1zM48 35h1v1h-1zM12 36h3v1h-3zM23 37h1v1h-1zM27 37h1v1h-1zM36 37h1v1h-1zM46 38h2v1h-2zM7 39h1v1h-1zM13 39h1v1h-1zM20 39h1v1h-1zM30 39h1v1h-1zM43 39h2v1h-2zM33 41h1v1h-1zM42 41h1v1h-1zM47 41h1v1h-1zM37 42h2v1h-2zM47 42h1v1h-1zM27 43h1v1h-1zM30 43h1v1h-1zM45 43h1v1h-1zM21 44h1v1h-1zM42 44h2v1h-2zM47 44h1v1h-1zM31 45h1v1h-1zM33 45h1v1h-1zM19 46h1v1h-1zM22 46h1v1h-1zM28 47h1v1h-1zM34 47h1v1h-1zM36 47h1v1h-1zM44 47h1v1h-1zM49 47h1v1h-1zM37 48h1v1h-1zM44 48h2v1h-2zM25 49h1v1h-1zM28 49h2v1h-2zM31 49h1v1h-1zM40 49h1v1h-1zM42 49h1v1h-1zM11 50h1v1h-1zM42 50h1v1h-1zM24 51h1v1h-1zM32 51h1v1h-1zM37 51h1v1h-1zM45 51h1v1h-1zM16 52h1v1h-1zM19 52h1v1h-1zM3 53h1v1h-1zM10 53h1v1h-1zM50 53h1v1h-1zM7 54h1v1h-1zM35 54h2v1h-2zM41 54h1v1h-1zM28 56h1v1h-1zM32 56h1v1h-1zM38 56h1v1h-1zM44 56h1v1h-1zM49 56h1v1h-1zM3 57h1v1h-1zM25 57h1v1h-1zM40 57h1v1h-1zM45 57h1v1h-1zM28 58h1v1h-1zM35 58h1v1h-1zM42 58h1v1h-1zM46 58h1v1h-1zM9 59h1v1h-1zM11 59h1v1h-1zM20 59h1v1h-1zM25 59h1v1h-1zM29 59h1v1h-1zM13 60h1v1h-1zM17 60h1v1h-1zM22 60h1v1h-1zM42 60h1v1h-1zM49 61h2v1h-2zM40 62h1v1h-1zM50 62h1v1h-1zM5 63h1v1h-1zM7 63h1v1h-1zM26 63h1v1h-1zM28 63h1v1h-1zM44 63h1v1h-1zM27 64h1v1h-1zM41 64h1v1h-1zM0 65h1v1h-1zM43 65h1v1h-1zM46 65h1v1h-1zM49 65h2v1h-2zM29 66h1v1h-1zM31 66h1v1h-1zM46 66h1v1h-1zM45 67h1v1h-1zM31 68h1v1h-1zM47 68h2v1h-2zM36 69h1v1h-1zM45 69h1v1h-1zM50 69h1v1h-1zM0 70h1v1h-1zM31 70h1v1h-1zM34 70h1v1h-1zM37 70h1v1h-1zM49 70h2v1h-2zM40 71h1v1h-1zM44 71h1v1h-1zM34 72h2v1h-2zM41 72h2v1h-2zM45 72h1v1h-1zM7 73h1v1h-1zM1 74h1v1h-1zM43 75h1v1h-1zM38 76h2v1h-2zM47 76h1v1h-1zM25 77h1v1h-1zM49 77h1v1h-1zM18 78h1v1h-1zM41 78h2v1h-2zM1 79h1v1h-1zM15 79h1v1h-1zM33 79h2v1h-2zM25 80h1v1h-1zM31 80h1v1h-1zM34 80h1v1h-1zM30 81h1v1h-1zM43 81h1v1h-1zM49 81h1v1h-1zM36 82h1v1h-1zM49 82h1v1h-1zM15 83h1v1h-1zM20 83h1v1h-1zM28 83h1v1h-1zM37 83h1v1h-1zM42 83h1v1h-1zM27 84h2v1h-2zM30 84h1v1h-1zM37 84h1v1h-1zM48 84h1v1h-1zM9 85h1v1h-1zM23 85h1v1h-1zM38 86h1v1h-1zM46 86h1v1h-1zM50 86h1v1h-1zM0 87h1v1h-1zM34 88h2v1h-2zM44 88h1v1h-1zM50 88h1v1h-1zM10 89h1v1h-1zM27 89h1v1h-1zM29 89h1v1h-1zM32 89h1v1h-1zM50 89h1v1h-1zM0 90h1v1h-1zM30 90h1v1h-1zM36 90h2v1h-2zM42 90h1v1h-1zM47 90h1v1h-1zM29 91h1v1h-1zM21 92h2v1h-2zM8 93h1v1h-1zM10 93h1v1h-1zM23 93h1v1h-1zM26 93h1v1h-1zM44 93h1v1h-1zM1 94h1v1h-1zM19 94h1v1h-1zM21 94h1v1h-1zM46 94h1v1h-1zM8 95h1v1h-1zM4 96h1v1h-1zM11 96h1v1h-1zM14 96h1v1h-1zM38 96h1v1h-1zM2 97h1v1h-1zM50 97h1v1h-1zM5 98h2v1h-2zM20 98h2v1h-2zM23 98h1v1h-1zM30 98h1v1h-1zM13 99h2v1h-2zM37 99h1v1h-1zM1 100h1v1h-1zM3 100h1v1h-1zM15 100h2v1h-2zM24 100h1v1h-1zM10 101h1v1h-1zM48 101h1v1h-1zM1 102h1v1h-1zM15 102h1v1h-1zM17 102h1v1h-1zM21 102h1v1h-1zM23 102h2v1h-2zM43 102h2v1h-2zM0 103h1v1h-1zM4 103h1v1h-1zM7 103h1v1h-1zM6 104h1v1h-1zM17 104h1v1h-1zM3 105h1v1h-1zM5 105h1v1h-1zM7 105h1v1h-1zM10 105h1v1h-1zM12 105h1v1h-1zM21 105h1v1h-1zM24 105h1v1h-1zM35 105h1v1h-1zM45 105h1v1h-1zM6 106h2v1h-2zM9 106h1v1h-1zM19 106h1v1h-1zM44 106h1v1h-1zM46 106h1v1h-1zM30 107h2v1h-2zM36 107h1v1h-1zM41 107h1v1h-1zM46 107h1v1h-1zM23 108h1v1h-1zM27 108h2v1h-2zM12 109h1v1h-1zM16 109h1v1h-1z"/>
<path fill="#8195c8" d="M3 0h1v1h-1zM17 0h1v1h-1zM25 0h1v1h-1zM7 1h1v1h-1zM20 1h1v1h-1zM11 2h1v1h-1zM14 2h2v1h-2zM17 2h1v1h-1zM25 2h1v1h-1zM5 3h1v1h-1zM22 3h1v1h-1zM4 4h2v1h-2zM2 5h1v1h-1zM21 5h1v1h-1zM28 6h1v1h-1zM30 6h1v1h-1zM20 7h1v1h-1zM24 7h1v1h-1zM1 8h1v1h-1zM4 8h1v1h-1zM11 8h1v1h-1zM16 9h1v1h-1zM41 10h1v1h-1zM45 10h1v1h-1zM24 11h1v1h-1zM27 11h1v1h-1zM34 11h1v1h-1zM41 11h1v1h-1zM25 12h1v1h-1zM27 12h1v1h-1zM33 12h1v1h-1zM36 12h1v1h-1zM1 13h1v1h-1zM22 13h1v1h-1zM35 13h1v1h-1zM17 14h1v1h-1zM26 14h1v1h-1zM41 14h1v1h-1zM9 15h1v1h-1zM32 15h1v1h-1zM42 15h1v1h-1zM11 16h2v1h-2zM20 16h1v1h-1zM23 16h1v1h-1zM27 16h2v1h-2zM3 17h2v1h-2zM40 17h1v1h-1zM31 18h1v1h-1zM39 19h1v1h-1zM44 19h1v1h-1zM47 19h1v1h-1zM2 20h1v1h-1zM43 20h1v1h-1zM25 21h1v1h-1zM27 21h1v1h-1zM33 21h1v1h-1zM48 21h1v1h-1zM24 22h1v1h-1zM50 23h1v1h-1zM40 24h1v1h-1zM43 24h1v1h-1zM47 24h1v1h-1zM22 25h1v1h-1zM25 25h1v1h-1zM41 25h1v1h-1zM45 25h1v1h-1zM31 26h1v1h-1zM3 27h1v1h-1zM14 27h1v1h-1zM37 27h1v1h-1zM39 27h1v1h-1zM29 28h1v1h-1zM37 28h1v1h-1zM40 29h2v1h-2zM43 29h1v1h-1zM49 29h1v1h-1zM7 30h1v1h-1zM39 32h1v1h-1zM27 33h1v1h-1zM18 34h1v1h-1zM33 34h1v1h-1zM47 34h1v1h-1zM6 36h1v1h-1zM19 36h1v1h-1zM28 36h1v1h-1zM34 37h1v1h-1zM38 37h1v1h-1zM49 37h2v1h-2zM33 38h2v1h-2zM40 38h1v1h-1zM29 39h1v1h-1zM28 41h1v1h-1zM32 41h1v1h-1zM38 41h1v1h-1zM41 41h1v1h-1zM48 41h1v1h-1zM42 42h1v1h-1zM31 43h2v1h-2zM35 43h1v1h-1zM44 43h1v1h-1zM22 44h1v1h-1zM30 44h1v1h-1zM40 44h1v1h-1zM24 45h1v1h-1zM38 45h1v1h-1zM47 45h1v1h-1zM49 45h1v1h-1zM1 46h2v1h-2zM4 46h1v1h-1zM10 46h1v1h-1zM21 46h1v1h-1zM42 46h2v1h-2zM25 47h1v1h-1zM30 47h1v1h-1zM39 47h1v1h-1zM41 47h1v1h-1zM38 48h1v1h-1zM46 48h1v1h-1zM48 48h2v1h-2zM27 49h1v1h-1zM30 51h1v1h-1zM40 51h1v1h-1zM2 52h1v1h-1zM38 52h1v1h-1zM30 53h1v1h-1zM40 53h1v1h-1zM42 53h1v1h-1zM19 54h1v1h-1zM43 54h1v1h-1zM25 55h1v1h-1zM31 55h2v1h-2zM29 56h1v1h-1zM43 56h1v1h-1zM5 57h1v1h-1zM22 57h1v1h-1zM43 57h1v1h-1zM26 58h2v1h-2zM44 58h1v1h-1zM48 58h1v1h-1zM12 60h1v1h-1zM27 60h1v1h-1zM43 60h1v1h-1zM33 61h1v1h-1zM44 61h1v1h-1zM46 61h1v1h-1zM25 62h1v1h-1zM32 62h1v1h-1zM35 62h2v1h-2zM27 63h1v1h-1zM29 63h1v1h-1zM25 64h2v1h-2zM30 64h1v1h-1zM33 64h1v1h-1zM50 64h1v1h-1zM25 65h1v1h-1zM27 66h1v1h-1zM42 66h1v1h-1zM8 68h1v1h-1zM39 68h2v1h-2zM42 68h1v1h-1zM26 69h2v1h-2zM37 69h1v1h-1zM39 69h1v1h-1zM49 69h1v1h-1zM25 71h1v1h-1zM43 71h1v1h-1zM47 71h1v1h-1zM31 72h1v1h-1zM36 72h2v1h-2zM29 73h1v1h-1zM32 73h1v1h-1zM49 74h1v1h-1zM0 75h1v1h-1zM32 75h1v1h-1zM38 75h2v1h-2zM28 76h1v1h-1zM12 77h1v1h-1zM4 79h1v1h-1zM23 79h2v1h-2zM10 80h2v1h-2zM29 80h1v1h-1zM49 80h2v1h-2zM31 81h1v1h-1zM40 81h1v1h-1zM44 81h1v1h-1zM46 81h1v1h-1zM33 82h1v1h-1zM39 82h2v1h-2zM46 82h1v1h-1zM25 83h1v1h-1zM25 84h1v1h-1zM44 84h1v1h-1zM46 84h1v1h-1zM50 84h1v1h-1zM8 85h1v1h-1zM37 85h1v1h-1zM43 85h1v1h-1zM9 87h1v1h-1zM29 87h1v1h-1zM31 87h1v1h-1zM35 87h1v1h-1zM43 87h1v1h-1zM46 87h1v1h-1zM5 89h1v1h-1zM50 90h1v1h-1zM16 91h2v1h-2zM24 92h1v1h-1zM30 92h1v1h-1zM31 93h1v1h-1zM2 94h1v1h-1zM6 94h1v1h-1zM8 94h2v1h-2zM23 94h1v1h-1zM49 94h1v1h-1zM3 95h1v1h-1zM5 95h1v1h-1zM22 95h1v1h-1zM3 96h1v1h-1zM18 96h1v1h-1zM22 96h1v1h-1zM24 96h1v1h-1zM1 97h1v1h-1zM7 97h1v1h-1zM20 97h1v1h-1zM11 99h1v1h-1zM21 99h1v1h-1zM4 100h1v1h-1zM13 100h1v1h-1zM19 100h1v1h-1zM14 101h1v1h-1zM19 101h1v1h-1zM43 101h1v1h-1zM45 101h2v1h-2zM20 102h1v1h-1zM45 102h1v1h-1zM5 103h1v1h-1zM9 103h1v1h-1zM8 104h1v1h-1zM44 104h1v1h-1zM2 105h1v1h-1zM11 105h1v1h-1zM14 105h1v1h-1zM36 105h1v1h-1zM39 105h1v1h-1zM5 106h1v1h-1zM21 106h1v1h-1zM25 107h1v1h-1zM27 107h2v1h-2zM33 107h1v1h-1zM35 107h1v1h-1zM50 107h1v1h-1zM19 108h1v1h-1zM21 108h1v1h-1z"/>
<path fill="#97a8d1" d="M1 0h1v1h-1zM48 0h1v1h-1zM9 1h1v1h-1zM16 1h1v1h-1zM44 1h2v1h-2zM48 1h1v1h-1zM13 2h1v1h-1zM19 2h1v1h-1zM36 2h1v1h-1zM24 3h1v1h-1zM16 5h1v1h-1zM29 6h1v1h-1zM11 7h1v1h-1zM13 7h1v1h-1zM48 7h1v1h-1zM1 9h1v1h-1zM6 9h1v1h-1zM22 9h1v1h-1zM2 10h1v1h-1zM26 10h1v1h-1zM31 10h1v1h-1zM33 10h1v1h-1zM26 11h1v1h-1zM29 11h1v1h-1zM49 11h1v1h-1zM15 12h1v1h-1zM21 12h1v1h-1zM32 13h1v1h-1zM6 14h1v1h-1zM19 14h1v1h-1zM33 14h1v1h-1zM43 14h2v1h-2zM28 15h1v1h-1zM34 15h1v1h-1zM40 15h1v1h-1zM13 16h1v1h-1zM50 16h1v1h-1zM6 17h1v1h-1zM15 17h1v1h-1zM39 17h1v1h-1zM11 18h1v1h-1zM30 19h2v1h-2zM34 19h1v1h-1zM37 19h1v1h-1zM40 19h1v1h-1zM45 19h1v1h-1zM41 20h1v1h-1zM7 22h1v1h-1zM27 23h1v1h-1zM39 24h1v1h-1zM45 24h2v1h-2zM27 25h1v1h-1zM40 25h1v1h-1zM43 25h1v1h-1zM27 26h1v1h-1zM1 27h1v1h-1zM38 27h1v1h-1zM30 28h2v1h-2zM32 29h1v1h-1zM2 30h1v1h-1zM4 30h1v1h-1zM28 30h1v1h-1zM38 31h1v1h-1zM42 31h1v1h-1zM25 32h1v1h-1zM41 32h1v1h-1zM34 33h1v1h-1zM39 33h2v1h-2zM42 33h1v1h-1zM46 33h1v1h-1zM1 34h1v1h-1zM31 34h1v1h-1zM35 34h2v1h-2zM41 35h1v1h-1zM30 37h1v1h-1zM40 37h1v1h-1zM10 38h1v1h-1zM13 38h1v1h-1zM32 38h1v1h-1zM45 38h1v1h-1zM10 39h1v1h-1zM30 41h1v1h-1zM43 41h1v1h-1zM45 41h1v1h-1zM25 43h1v1h-1zM12 45h1v1h-1zM36 45h1v1h-1zM45 45h1v1h-1zM38 47h1v1h-1zM46 47h1v1h-1zM27 48h1v1h-1zM30 48h1v1h-1zM32 48h1v1h-1zM34 48h1v1h-1zM47 48h1v1h-1zM37 49h1v1h-1zM39 49h1v1h-1zM25 51h1v1h-1zM17 52h1v1h-1zM31 53h1v1h-1zM0 54h1v1h-1zM20 54h1v1h-1zM37 54h1v1h-1zM48 54h1v1h-1zM30 55h1v1h-1zM34 56h1v1h-1zM8 58h1v1h-1zM10 58h1v1h-1zM34 58h1v1h-1zM40 58h1v1h-1zM49 58h1v1h-1zM14 60h1v1h-1zM41 60h1v1h-1zM48 60h1v1h-1zM27 61h1v1h-1zM39 61h1v1h-1zM46 62h1v1h-1zM36 63h1v1h-1zM42 63h2v1h-2zM45 63h1v1h-1zM50 63h1v1h-1zM31 64h2v1h-2zM40 65h1v1h-1zM14 66h1v1h-1zM28 66h1v1h-1zM12 68h1v1h-1zM41 68h1v1h-1zM45 68h1v1h-1zM33 69h1v1h-1zM40 69h1v1h-1zM25 70h1v1h-1zM27 70h1v1h-1zM32 72h1v1h-1zM48 72h1v1h-1zM12 73h1v1h-1zM30 73h1v1h-1zM34 73h1v1h-1zM42 74h1v1h-1zM40 75h1v1h-1zM30 76h1v1h-1zM50 76h1v1h-1zM11 77h1v1h-1zM47 77h1v1h-1zM29 78h1v1h-1zM44 78h1v1h-1zM36 79h1v1h-1zM32 80h1v1h-1zM28 81h1v1h-1zM32 82h1v1h-1zM43 82h1v1h-1zM26 83h1v1h-1zM33 83h1v1h-1zM32 84h1v1h-1zM0 85h1v1h-1zM6 85h2v1h-2zM25 86h1v1h-1zM40 86h1v1h-1zM48 86h1v1h-1zM47 88h1v1h-1zM25 89h1v1h-1zM22 90h1v1h-1zM25 90h1v1h-1zM31 90h1v1h-1zM41 90h1v1h-1zM4 91h2v1h-2zM32 91h1v1h-1zM20 92h1v1h-1zM27 92h1v1h-1zM9 93h1v1h-1zM25 93h1v1h-1zM22 94h1v1h-1zM24 95h1v1h-1zM2 96h1v1h-1zM7 96h1v1h-1zM42 97h1v1h-1zM1 98h1v1h-1zM35 99h1v1h-1zM40 99h1v1h-1zM21 100h1v1h-1zM28 100h1v1h-1zM11 101h1v1h-1zM4 102h1v1h-1zM18 102h1v1h-1zM13 105h1v1h-1zM10 106h1v1h-1zM20 106h1v1h-1zM4 108h1v1h-1zM12 108h1v1h-1zM14 108h1v1h-1zM32 108h1v1h-1zM43 108h1v1h-1zM34 109h1v1h-1z"/>
<path fill="#aebadb" d="M5 0h1v1h-1zM0 1h1v1h-1zM10 1h1v1h-1zM37 2h1v1h-1zM13 4h1v1h-1zM1 5h1v1h-1zM48 5h1v1h-1zM36 6h1v1h-1zM17 7h1v1h-1zM29 10h1v1h-1zM39 10h1v1h-1zM47 11h1v1h-1zM34 14h1v1h-1zM41 15h1v1h-1zM6 16h1v1h-1zM19 17h1v1h-1zM29 18h1v1h-1zM29 19h1v1h-1zM20 21h1v1h-1zM1 22h1v1h-1zM18 22h1v1h-1zM12 25h1v1h-1zM25 27h1v1h-1zM35 27h1v1h-1zM25 29h1v1h-1zM29 29h1v1h-1zM1 30h1v1h-1zM6 30h1v1h-1zM50 30h1v1h-1zM46 32h1v1h-1zM46 35h1v1h-1zM17 36h1v1h-1zM25 36h2v1h-2zM1 37h1v1h-1zM25 37h1v1h-1zM48 37h1v1h-1zM48 38h1v1h-1zM50 38h1v1h-1zM3 39h1v1h-1zM18 39h1v1h-1zM17 40h1v1h-1zM46 41h1v1h-1zM7 43h1v1h-1zM20 44h1v1h-1zM39 44h1v1h-1zM25 45h2v1h-2zM41 45h1v1h-1zM29 47h1v1h-1zM48 47h1v1h-1zM0 50h1v1h-1zM41 50h1v1h-1zM44 51h1v1h-1zM50 51h1v1h-1zM18 52h1v1h-1zM21 52h1v1h-1zM0 53h1v1h-1zM34 54h1v1h-1zM39 55h1v1h-1zM40 56h1v1h-1zM47 57h1v1h-1zM3 58h1v1h-1zM43 58h1v1h-1zM10 59h1v1h-1zM16 60h1v1h-1zM39 62h1v1h-1zM48 62h1v1h-1zM38 63h1v1h-1zM37 64h2v1h-2zM30 65h1v1h-1zM50 66h1v1h-1zM36 67h1v1h-1zM31 69h1v1h-1zM38 69h1v1h-1zM25 72h1v1h-1zM49 72h1v1h-1zM34 74h1v1h-1zM32 76h1v1h-1zM28 77h1v1h-1zM33 78h1v1h-1zM35 78h1v1h-1zM43 78h1v1h-1zM44 80h1v1h-1zM41 81h1v1h-1zM16 83h1v1h-1zM36 84h1v1h-1zM4 85h1v1h-1zM32 85h1v1h-1zM23 86h1v1h-1zM36 87h1v1h-1zM22 88h1v1h-1zM6 91h1v1h-1zM18 91h1v1h-1zM21 91h1v1h-1zM19 97h1v1h-1zM2 98h2v1h-2zM36 98h1v1h-1zM47 98h1v1h-1zM13 101h1v1h-1zM20 101h1v1h-1zM20 105h1v1h-1zM23 105h1v1h-1zM38 105h1v1h-1zM22 106h1v1h-1zM32 107h1v1h-1z"/>
<path fill="#c5cee6" d="M3 3h1v1h-1zM15 4h1v1h-1zM15 5h1v1h-1zM5 8h1v1h-1zM25 8h1v1h-1zM25 11h1v1h-1zM28 11h1v1h-1zM33 11h1v1h-1zM48 11h1v1h-1zM20 14h1v1h-1zM44 17h1v1h-1zM30 18h1v1h-1zM42 18h1v1h-1zM37 21h1v1h-1zM8 22h1v1h-1zM28 23h1v1h-1zM48 23h1v1h-1zM27 24h1v1h-1zM25 28h1v1h-1zM14 29h1v1h-1zM16 31h1v1h-1zM50 33h1v1h-1zM23 34h2v1h-2zM38 34h1v1h-1zM23 35h1v1h-1zM30 36h1v1h-1zM47 37h1v1h-1zM0 38h1v1h-1zM31 38h1v1h-1zM35 38h1v1h-1zM11 39h1v1h-1zM9 40h1v1h-1zM18 40h1v1h-1zM36 41h1v1h-1zM42 45h1v1h-1zM35 49h1v1h-1zM38 49h1v1h-1zM49 49h1v1h-1zM25 50h1v1h-1zM37 52h1v1h-1zM18 54h1v1h-1zM44 54h1v1h-1zM13 56h1v1h-1zM31 56h1v1h-1zM37 56h1v1h-1zM48 56h1v1h-1zM3 60h1v1h-1zM28 61h2v1h-2zM32 61h1v1h-1zM25 66h1v1h-1zM21 68h1v1h-1zM28 70h1v1h-1zM34 71h1v1h-1zM28 72h1v1h-1zM0 73h1v1h-1zM42 73h1v1h-1zM50 73h1v1h-1zM25 75h1v1h-1zM27 78h1v1h-1zM25 81h1v1h-1zM25 82h1v1h-1zM50 87h1v1h-1zM3 94h1v1h-1zM0 95h1v1h-1zM8 97h1v1h-1zM8 98h1v1h-1zM22 98h1v1h-1zM35 98h1v1h-1zM0 100h1v1h-1zM2 100h1v1h-1zM23 100h1v1h-1zM27 100h1v1h-1zM2 102h1v1h-1zM10 103h1v1h-1zM19 104h1v1h-1zM25 104h1v1h-1zM28 104h1v1h-1zM34 107h1v1h-1z"/>
<path fill="#dfe4f1" d="M24 0h1v1h-1zM38 0h1v1h-1zM0 2h1v1h-1zM33 4h1v1h-1zM25 6h1v1h-1zM6 10h1v1h-1zM4 11h1v1h-1zM25 13h1v1h-1zM22 14h1v1h-1zM16 16h1v1h-1zM25 18h1v1h-1zM5 19h1v1h-1zM50 21h1v1h-1zM19 27h1v1h-1zM20 30h1v1h-1zM33 31h1v1h-1zM42 37h1v1h-1zM43 40h1v1h-1zM11 42h1v1h-1zM25 48h1v1h-1zM30 49h1v1h-1zM36 49h1v1h-1zM34 57h1v1h-1zM35 59h1v1h-1zM11 61h1v1h-1zM0 66h1v1h-1zM7 66h1v1h-1zM26 68h1v1h-1zM21 70h1v1h-1zM19 71h1v1h-1zM21 71h2v1h-2zM0 72h1v1h-1zM48 74h1v1h-1zM8 76h1v1h-1zM25 76h1v1h-1zM35 76h1v1h-1zM37 76h1v1h-1zM31 77h1v1h-1zM40 78h1v1h-1zM41 80h1v1h-1zM14 81h1v1h-1zM38 82h1v1h-1zM47 82h1v1h-1zM38 83h1v1h-1zM43 83h1v1h-1zM25 87h1v1h-1zM30 88h1v1h-1zM28 93h1v1h-1zM10 94h1v1h-1zM31 95h1v1h-1zM0 101h1v1h-1zM46 103h1v1h-1zM1 104h1v1h-1zM22 108h1v1h-1z"/>
<path fill="#ffffff" d="M31 0h1v1h-1zM41 0h1v1h-1zM1 3h1v1h-1zM13 3h2v1h-2zM36 3h1v1h-1zM30 4h1v1h-1zM48 4h1v1h-1zM50 4h1v1h-1zM11 5h1v1h-1zM13 5h1v1h-1zM10 6h1v1h-1zM40 6h1v1h-1zM7 7h1v1h-1zM35 9h1v1h-1zM8 10h1v1h-1zM43 11h1v1h-1zM17 13h1v1h-1zM24 14h1v1h-1zM32 16h1v1h-1zM10 17h2v1h-2zM27 17h1v1h-1zM29 17h1v1h-1zM7 18h1v1h-1zM33 18h1v1h-1zM2 19h1v1h-1zM25 19h1v1h-1zM1 20h1v1h-1zM32 20h6v1h-6zM3 21h1v1h-1zM32 21h1v1h-1zM2 22h1v1h-1zM29 22h1v1h-1zM43 23h1v1h-1zM46 23h2v1h-2zM23 24h1v1h-1zM13 26h1v1h-1zM23 29h2v1h-2zM38 30h2v1h-2zM5 31h1v1h-1zM35 32h1v1h-1zM47 32h1v1h-1zM49 32h1v1h-1zM0 34h1v1h-1zM31 35h2v1h-2zM35 35h1v1h-1zM1 36h1v1h-1zM24 38h1v1h-1zM3 40h1v1h-1zM5 40h1v1h-1zM14 40h1v1h-1zM26 42h1v1h-1zM45 46h2v1h-2zM0 47h1v1h-1zM1 50h1v1h-1zM43 50h1v1h-1zM4 52h1v1h-1zM14 52h1v1h-1zM25 52h1v1h-1zM29 54h2v1h-2zM7 55h1v1h-1zM46 55h1v1h-1zM12 56h1v1h-1zM37 57h1v1h-1zM12 59h2v1h-2zM22 59h1v1h-1zM32 59h1v1h-1zM13 61h1v1h-1zM0 62h1v1h-1zM47 64h1v1h-1zM43 67h1v1h-1zM18 68h1v1h-1zM21 69h1v1h-1zM42 70h2v1h-2zM19 72h1v1h-1zM37 73h1v1h-1zM41 74h1v1h-1zM24 75h1v1h-1zM6 76h1v1h-1zM30 77h1v1h-1zM36 77h1v1h-1zM1 78h1v1h-1zM25 78h1v1h-1zM8 79h1v1h-1zM48 79h1v1h-1zM33 81h1v1h-1zM15 82h1v1h-1zM19 82h1v1h-1zM35 84h1v1h-1zM20 85h1v1h-1zM33 88h1v1h-1zM38 90h1v1h-1zM46 90h1v1h-1zM16 94h1v1h-1zM33 98h1v1h-1zM14 103h2v1h-2zM23 103h1v1h-1zM45 103h1v1h-1zM11 106h1v1h-1zM26 107h1v1h-1zM43 107h1v1h-1zM7 109h1v1h-1z"/>
<path fill="#fdeff0" d="M37 0h1v1h-1zM39 0h2v1h-2zM8 1h1v1h-1zM22 1h3v1h-3zM38 1h1v1h-1zM6 2h1v1h-1zM35 2h1v1h-1zM42 2h1v1h-1zM2 3h1v1h-1zM47 4h1v1h-1zM49 4h1v1h-1zM8 6h2v1h-2zM24 6h1v1h-1zM27 6h1v1h-1zM37 6h2v1h-2zM41 6h1v1h-1zM5 7h2v1h-2zM37 7h1v1h-1zM23 9h2v1h-2zM34 9h1v1h-1zM5 10h1v1h-1zM7 10h1v1h-1zM13 10h1v1h-1zM43 10h1v1h-1zM8 12h1v1h-1zM24 13h1v1h-1zM41 13h1v1h-1zM2 16h1v1h-1zM18 16h1v1h-1zM13 17h1v1h-1zM34 18h2v1h-2zM47 18h1v1h-1zM3 22h1v1h-1zM15 22h1v1h-1zM39 22h1v1h-1zM42 22h1v1h-1zM4 23h1v1h-1zM44 23h2v1h-2zM7 24h2v1h-2zM0 25h1v1h-1zM0 26h1v1h-1zM22 26h1v1h-1zM24 26h2v1h-2zM16 27h1v1h-1zM0 28h1v1h-1zM49 28h1v1h-1zM5 29h1v1h-1zM21 30h1v1h-1zM45 30h1v1h-1zM34 31h1v1h-1zM31 32h2v1h-2zM50 32h1v1h-1zM4 35h1v1h-1zM36 35h1v1h-1zM14 38h1v1h-1zM28 38h1v1h-1zM0 39h1v1h-1zM25 39h1v1h-1zM1 40h2v1h-2zM4 40h1v1h-1zM20 40h1v1h-1zM36 40h3v1h-3zM10 41h1v1h-1zM25 41h1v1h-1zM1 42h1v1h-1zM7 42h1v1h-1zM11 43h1v1h-1zM30 50h1v1h-1zM44 50h1v1h-1zM50 50h1v1h-1zM6 51h1v1h-1zM7 52h1v1h-1zM39 52h2v1h-2zM5 53h2v1h-2zM23 53h1v1h-1zM25 53h1v1h-1zM36 53h1v1h-1zM48 53h1v1h-1zM28 54h1v1h-1zM31 54h1v1h-1zM33 54h1v1h-1zM6 55h1v1h-1zM31 57h3v1h-3zM35 57h1v1h-1zM41 57h1v1h-1zM27 59h2v1h-2zM33 59h1v1h-1zM20 60h1v1h-1zM29 60h1v1h-1zM37 60h1v1h-1zM19 63h1v1h-1zM17 69h1v1h-1zM41 70h1v1h-1zM44 70h1v1h-1zM15 71h1v1h-1zM18 71h1v1h-1zM29 71h1v1h-1zM20 72h1v1h-1zM3 73h2v1h-2zM33 73h1v1h-1zM48 73h1v1h-1zM35 74h1v1h-1zM46 74h2v1h-2zM0 77h1v1h-1zM32 77h2v1h-2zM2 78h1v1h-1zM7 79h1v1h-1zM12 79h1v1h-1zM47 79h1v1h-1zM49 79h1v1h-1zM40 80h1v1h-1zM13 81h1v1h-1zM21 81h2v1h-2zM17 82h2v1h-2zM34 84h1v1h-1zM19 85h1v1h-1zM21 85h1v1h-1zM45 85h3v1h-3zM50 85h1v1h-1zM0 86h1v1h-1zM12 88h1v1h-1zM39 90h1v1h-1zM35 91h1v1h-1zM36 93h2v1h-2zM47 93h1v1h-1zM27 96h1v1h-1zM33 97h1v1h-1zM50 98h1v1h-1zM1 99h1v1h-1zM5 99h1v1h-1zM22 99h1v1h-1zM49 99h1v1h-1zM2 101h1v1h-1zM12 101h1v1h-1zM24 103h1v1h-1zM47 103h1v1h-1zM11 104h3v1h-3zM48 105h1v1h-1zM0 108h1v1h-1zM5 108h1v1h-1zM17 109h1v1h-1z"/>
<path fill="#fcdfe0" d="M0 0h1v1h-1zM7 2h2v1h-2zM12 3h1v1h-1zM37 3h1v1h-1zM17 4h2v1h-2zM39 4h1v1h-1zM46 4h1v1h-1zM34 5h1v1h-1zM39 6h1v1h-1zM0 7h1v1h-1zM4 7h1v1h-1zM36 9h1v1h-1zM4 10h1v1h-1zM12 10h1v1h-1zM14 10h2v1h-2zM16 13h1v1h-1zM18 13h1v1h-1zM0 14h1v1h-1zM23 14h1v1h-1zM15 16h1v1h-1zM17 16h1v1h-1zM44 16h1v1h-1zM26 17h1v1h-1zM1 21h1v1h-1zM7 21h1v1h-1zM30 21h2v1h-2zM32 22h1v1h-1zM40 22h2v1h-2zM50 22h1v1h-1zM42 23h1v1h-1zM29 24h1v1h-1zM42 26h1v1h-1zM9 27h1v1h-1zM48 28h1v1h-1zM4 29h1v1h-1zM11 30h1v1h-1zM37 30h1v1h-1zM14 31h1v1h-1zM17 31h1v1h-1zM33 32h1v1h-1zM48 32h1v1h-1zM3 35h1v1h-1zM5 35h1v1h-1zM34 35h1v1h-1zM24 36h1v1h-1zM43 37h1v1h-1zM14 39h1v1h-1zM50 39h1v1h-1zM6 40h1v1h-1zM8 40h1v1h-1zM10 40h1v1h-1zM13 40h1v1h-1zM19 40h1v1h-1zM33 40h1v1h-1zM5 41h2v1h-2zM2 42h1v1h-1zM10 42h1v1h-1zM41 44h1v1h-1zM20 45h1v1h-1zM36 50h1v1h-1zM12 51h1v1h-1zM27 51h1v1h-1zM41 52h1v1h-1zM1 53h1v1h-1zM4 53h1v1h-1zM7 53h1v1h-1zM22 53h1v1h-1zM24 53h1v1h-1zM4 55h1v1h-1zM43 55h1v1h-1zM50 55h1v1h-1zM36 57h1v1h-1zM42 57h1v1h-1zM14 59h1v1h-1zM34 59h1v1h-1zM1 60h1v1h-1zM10 60h1v1h-1zM45 60h1v1h-1zM6 61h1v1h-1zM12 61h1v1h-1zM42 61h1v1h-1zM13 62h1v1h-1zM9 65h1v1h-1zM0 67h1v1h-1zM25 68h1v1h-1zM29 68h1v1h-1zM49 68h1v1h-1zM8 69h1v1h-1zM18 69h1v1h-1zM8 71h2v1h-2zM17 71h1v1h-1zM20 71h1v1h-1zM29 72h1v1h-1zM2 73h1v1h-1zM38 73h2v1h-2zM46 73h2v1h-2zM40 74h1v1h-1zM35 77h1v1h-1zM45 77h1v1h-1zM6 78h1v1h-1zM48 78h1v1h-1zM9 79h2v1h-2zM21 80h1v1h-1zM23 80h1v1h-1zM42 80h2v1h-2zM16 82h1v1h-1zM20 82h1v1h-1zM15 84h1v1h-1zM27 85h1v1h-1zM48 85h1v1h-1zM45 86h1v1h-1zM3 87h1v1h-1zM23 87h1v1h-1zM31 88h1v1h-1zM3 89h1v1h-1zM24 90h1v1h-1zM40 90h1v1h-1zM33 91h1v1h-1zM47 91h1v1h-1zM3 93h1v1h-1zM17 93h1v1h-1zM38 93h1v1h-1zM42 95h1v1h-1zM14 97h1v1h-1zM32 97h1v1h-1zM49 98h1v1h-1zM2 99h1v1h-1zM4 99h1v1h-1zM28 99h1v1h-1zM45 99h1v1h-1zM47 99h2v1h-2zM50 99h1v1h-1zM47 100h1v1h-1zM1 101h1v1h-1zM16 101h3v1h-3zM2 104h1v1h-1zM37 104h1v1h-1zM7 107h1v1h-1zM18 109h1v1h-1z"/>
<path fill="#facfd0" d="M39 1h1v1h-1zM43 2h1v1h-1zM15 3h1v1h-1zM29 4h1v1h-1zM7 6h1v1h-1zM21 6h1v1h-1zM23 6h1v1h-1zM45 6h1v1h-1zM38 7h1v1h-1zM2 8h1v1h-1zM23 8h1v1h-1zM40 8h1v1h-1zM44 8h1v1h-1zM0 9h1v1h-1zM33 9h1v1h-1zM45 9h1v1h-1zM0 10h1v1h-1zM42 10h1v1h-1zM8 11h1v1h-1zM44 11h1v1h-1zM31 12h1v1h-1zM15 13h1v1h-1zM32 14h1v1h-1zM5 16h1v1h-1zM12 17h1v1h-1zM28 17h1v1h-1zM33 17h1v1h-1zM46 18h1v1h-1zM10 19h1v1h-1zM38 22h1v1h-1zM6 23h1v1h-1zM8 23h1v1h-1zM28 24h1v1h-1zM31 24h1v1h-1zM34 24h1v1h-1zM10 26h1v1h-1zM44 26h1v1h-1zM50 27h1v1h-1zM34 28h1v1h-1zM47 28h1v1h-1zM4 31h1v1h-1zM26 31h1v1h-1zM34 32h1v1h-1zM2 33h1v1h-1zM41 34h1v1h-1zM14 35h1v1h-1zM19 35h1v1h-1zM38 36h1v1h-1zM4 37h1v1h-1zM39 37h1v1h-1zM44 37h1v1h-1zM8 38h1v1h-1zM39 38h1v1h-1zM7 40h1v1h-1zM12 40h1v1h-1zM32 40h1v1h-1zM39 40h1v1h-1zM1 41h1v1h-1zM13 41h1v1h-1zM40 41h1v1h-1zM15 42h1v1h-1zM12 43h1v1h-1zM15 43h1v1h-1zM17 44h1v1h-1zM31 44h1v1h-1zM3 45h1v1h-1zM16 45h1v1h-1zM44 46h1v1h-1zM22 47h1v1h-1zM7 50h1v1h-1zM11 51h1v1h-1zM43 51h1v1h-1zM46 51h1v1h-1zM3 52h1v1h-1zM13 52h1v1h-1zM24 52h1v1h-1zM21 53h1v1h-1zM49 53h1v1h-1zM12 54h1v1h-1zM22 54h1v1h-1zM3 55h1v1h-1zM8 56h1v1h-1zM10 57h1v1h-1zM17 58h1v1h-1zM26 59h1v1h-1zM0 60h1v1h-1zM33 60h1v1h-1zM2 61h1v1h-1zM25 61h1v1h-1zM41 61h1v1h-1zM1 62h1v1h-1zM19 62h1v1h-1zM20 63h1v1h-1zM43 64h1v1h-1zM46 64h1v1h-1zM19 65h1v1h-1zM17 68h1v1h-1zM36 68h1v1h-1zM22 69h2v1h-2zM14 70h1v1h-1zM23 70h1v1h-1zM16 71h1v1h-1zM44 72h1v1h-1zM11 73h1v1h-1zM35 73h1v1h-1zM19 74h1v1h-1zM18 75h1v1h-1zM36 75h1v1h-1zM42 75h1v1h-1zM7 76h1v1h-1zM10 76h1v1h-1zM22 76h1v1h-1zM2 77h1v1h-1zM27 77h1v1h-1zM29 77h1v1h-1zM34 77h1v1h-1zM3 79h1v1h-1zM11 79h1v1h-1zM2 80h1v1h-1zM15 80h1v1h-1zM46 80h1v1h-1zM34 81h1v1h-1zM4 83h1v1h-1zM10 83h1v1h-1zM39 83h1v1h-1zM28 85h1v1h-1zM49 85h1v1h-1zM22 86h1v1h-1zM14 88h1v1h-1zM32 88h1v1h-1zM7 89h1v1h-1zM24 89h1v1h-1zM6 90h1v1h-1zM12 90h2v1h-2zM34 91h1v1h-1zM39 92h1v1h-1zM39 93h1v1h-1zM42 93h1v1h-1zM48 93h1v1h-1zM26 94h1v1h-1zM32 94h1v1h-1zM11 95h1v1h-1zM23 95h1v1h-1zM1 96h1v1h-1zM31 97h1v1h-1zM34 98h1v1h-1zM44 98h1v1h-1zM3 99h1v1h-1zM26 99h1v1h-1zM41 99h1v1h-1zM46 99h1v1h-1zM9 100h1v1h-1zM12 100h1v1h-1zM48 100h1v1h-1zM0 102h1v1h-1zM37 102h1v1h-1zM16 103h1v1h-1zM40 103h1v1h-1zM10 104h1v1h-1zM29 104h1v1h-1zM19 105h1v1h-1zM47 105h1v1h-1zM3 106h1v1h-1zM28 106h1v1h-1zM14 107h1v1h-1zM38 108h1v1h-1zM31 109h2v1h-2z"/>
<path fill="#f8bfc1" d="M12 0h1v1h-1zM21 0h1v1h-1zM33 1h1v1h-1zM3 2h1v1h-1zM21 2h1v1h-1zM27 2h1v1h-1zM33 2h1v1h-1zM38 2h1v1h-1zM41 2h1v1h-1zM44 2h1v1h-1zM46 2h1v1h-1zM6 3h1v1h-1zM12 5h1v1h-1zM45 5h1v1h-1zM17 6h1v1h-1zM35 6h1v1h-1zM14 9h1v1h-1zM41 9h1v1h-1zM18 10h1v1h-1zM23 10h1v1h-1zM15 11h1v1h-1zM14 13h1v1h-1zM20 13h1v1h-1zM42 13h1v1h-1zM47 14h1v1h-1zM20 15h1v1h-1zM47 15h1v1h-1zM45 17h1v1h-1zM1 18h1v1h-1zM5 18h2v1h-2zM45 18h1v1h-1zM17 19h1v1h-1zM0 20h1v1h-1zM25 20h1v1h-1zM8 21h1v1h-1zM29 21h1v1h-1zM45 21h1v1h-1zM11 22h1v1h-1zM5 23h1v1h-1zM20 23h1v1h-1zM30 23h1v1h-1zM8 25h1v1h-1zM32 25h1v1h-1zM5 26h1v1h-1zM41 26h1v1h-1zM20 27h1v1h-1zM44 27h1v1h-1zM9 28h1v1h-1zM16 28h1v1h-1zM15 29h1v1h-1zM37 29h1v1h-1zM22 30h1v1h-1zM36 30h1v1h-1zM0 31h1v1h-1zM7 31h1v1h-1zM11 33h1v1h-1zM33 35h1v1h-1zM35 36h1v1h-1zM50 36h1v1h-1zM5 37h1v1h-1zM7 37h1v1h-1zM21 38h1v1h-1zM17 39h1v1h-1zM23 40h1v1h-1zM47 40h1v1h-1zM0 41h1v1h-1zM24 41h1v1h-1zM27 41h1v1h-1zM6 42h1v1h-1zM17 42h2v1h-2zM28 42h1v1h-1zM19 43h1v1h-1zM23 43h1v1h-1zM4 44h2v1h-2zM32 44h1v1h-1zM37 44h1v1h-1zM45 44h1v1h-1zM18 46h1v1h-1zM38 46h1v1h-1zM4 47h1v1h-1zM22 48h1v1h-1zM0 49h1v1h-1zM6 49h1v1h-1zM23 49h1v1h-1zM23 50h1v1h-1zM35 50h1v1h-1zM46 50h1v1h-1zM1 52h1v1h-1zM9 52h2v1h-2zM29 52h1v1h-1zM32 52h1v1h-1zM14 53h1v1h-1zM13 54h1v1h-1zM32 54h1v1h-1zM40 54h1v1h-1zM22 55h1v1h-1zM35 55h2v1h-2zM1 56h1v1h-1zM5 56h2v1h-2zM17 56h1v1h-1zM20 56h1v1h-1zM0 58h1v1h-1zM21 58h1v1h-1zM21 60h1v1h-1zM20 61h1v1h-1zM35 61h1v1h-1zM3 62h1v1h-1zM29 62h1v1h-1zM18 63h1v1h-1zM2 64h1v1h-1zM23 65h1v1h-1zM3 66h1v1h-1zM26 66h1v1h-1zM40 66h1v1h-1zM23 67h1v1h-1zM25 67h1v1h-1zM16 68h1v1h-1zM14 69h1v1h-1zM18 70h1v1h-1zM18 72h1v1h-1zM36 73h1v1h-1zM2 74h1v1h-1zM17 75h1v1h-1zM1 76h1v1h-1zM11 76h1v1h-1zM18 76h1v1h-1zM43 76h1v1h-1zM4 77h1v1h-1zM20 77h1v1h-1zM23 77h1v1h-1zM3 78h1v1h-1zM7 78h1v1h-1zM10 78h1v1h-1zM46 78h1v1h-1zM30 79h2v1h-2zM42 79h1v1h-1zM45 79h1v1h-1zM7 80h1v1h-1zM45 80h1v1h-1zM8 81h1v1h-1zM37 81h1v1h-1zM0 82h1v1h-1zM2 82h1v1h-1zM22 84h1v1h-1zM34 85h1v1h-1zM4 86h1v1h-1zM19 86h1v1h-1zM6 88h1v1h-1zM40 88h1v1h-1zM0 89h1v1h-1zM35 90h1v1h-1zM3 92h1v1h-1zM9 92h1v1h-1zM14 93h1v1h-1zM0 94h1v1h-1zM11 94h1v1h-1zM14 95h1v1h-1zM29 95h1v1h-1zM37 95h1v1h-1zM39 95h2v1h-2zM10 97h1v1h-1zM27 97h1v1h-1zM36 97h1v1h-1zM7 99h1v1h-1zM17 99h1v1h-1zM25 99h1v1h-1zM27 99h1v1h-1zM41 101h1v1h-1zM39 102h1v1h-1zM0 104h1v1h-1zM38 104h1v1h-1zM25 105h1v1h-1zM40 105h1v1h-1zM43 106h1v1h-1zM8 108h1v1h-1zM19 109h1v1h-1zM21 109h2v1h-2zM30 109h1v1h-1z"/>
<path fill="#f7afb2" d="M14 0h2v1h-2zM22 0h2v1h-2zM30 0h1v1h-1zM45 0h1v1h-1zM26 1h1v1h-1zM23 2h1v1h-1zM34 2h1v1h-1zM39 2h1v1h-1zM48 2h1v1h-1zM17 3h1v1h-1zM47 3h1v1h-1zM50 3h1v1h-1zM7 4h1v1h-1zM11 4h1v1h-1zM16 4h1v1h-1zM19 4h1v1h-1zM40 4h2v1h-2zM41 5h1v1h-1zM43 5h1v1h-1zM5 6h1v1h-1zM18 6h1v1h-1zM26 7h1v1h-1zM34 7h1v1h-1zM34 8h1v1h-1zM46 8h1v1h-1zM10 9h1v1h-1zM18 9h1v1h-1zM20 10h1v1h-1zM9 11h2v1h-2zM14 11h1v1h-1zM19 11h1v1h-1zM18 12h1v1h-1zM23 12h1v1h-1zM44 12h2v1h-2zM3 13h1v1h-1zM12 13h1v1h-1zM19 13h1v1h-1zM21 13h1v1h-1zM30 13h1v1h-1zM46 13h1v1h-1zM14 14h1v1h-1zM35 16h1v1h-1zM8 18h1v1h-1zM19 18h1v1h-1zM28 18h1v1h-1zM3 19h2v1h-2zM9 19h1v1h-1zM21 19h1v1h-1zM8 20h1v1h-1zM18 20h1v1h-1zM20 20h2v1h-2zM24 20h1v1h-1zM28 20h1v1h-1zM38 20h1v1h-1zM40 20h1v1h-1zM4 21h2v1h-2zM12 21h1v1h-1zM17 21h1v1h-1zM14 22h1v1h-1zM28 22h1v1h-1zM45 22h1v1h-1zM17 23h1v1h-1zM36 23h1v1h-1zM13 24h2v1h-2zM18 24h2v1h-2zM32 24h1v1h-1zM38 24h1v1h-1zM34 25h3v1h-3zM7 26h2v1h-2zM33 26h1v1h-1zM8 27h1v1h-1zM4 28h1v1h-1zM12 28h1v1h-1zM20 28h1v1h-1zM40 28h1v1h-1zM2 29h2v1h-2zM8 29h2v1h-2zM18 29h1v1h-1zM21 29h1v1h-1zM46 29h1v1h-1zM8 30h1v1h-1zM43 30h1v1h-1zM10 31h2v1h-2zM15 31h1v1h-1zM14 32h1v1h-1zM21 32h1v1h-1zM19 33h1v1h-1zM2 34h1v1h-1zM7 34h1v1h-1zM45 34h1v1h-1zM1 35h1v1h-1zM20 35h1v1h-1zM26 35h1v1h-1zM30 35h1v1h-1zM11 36h1v1h-1zM31 36h2v1h-2zM37 36h1v1h-1zM3 37h1v1h-1zM10 37h1v1h-1zM26 38h1v1h-1zM26 40h1v1h-1zM34 40h1v1h-1zM41 40h1v1h-1zM19 41h1v1h-1zM23 41h1v1h-1zM14 42h1v1h-1zM20 42h1v1h-1zM50 42h1v1h-1zM17 43h1v1h-1zM1 44h1v1h-1zM3 44h1v1h-1zM9 44h2v1h-2zM18 44h1v1h-1zM1 45h1v1h-1zM8 45h1v1h-1zM10 45h1v1h-1zM18 45h1v1h-1zM22 45h1v1h-1zM39 45h1v1h-1zM5 46h1v1h-1zM2 47h1v1h-1zM7 47h1v1h-1zM10 47h1v1h-1zM15 47h1v1h-1zM24 47h1v1h-1zM3 48h2v1h-2zM11 48h1v1h-1zM8 49h1v1h-1zM20 50h1v1h-1zM0 51h1v1h-1zM14 51h2v1h-2zM28 52h1v1h-1zM34 52h1v1h-1zM36 52h1v1h-1zM42 52h1v1h-1zM11 53h1v1h-1zM38 53h1v1h-1zM21 54h1v1h-1zM2 55h1v1h-1zM12 55h1v1h-1zM16 55h1v1h-1zM41 55h1v1h-1zM45 55h1v1h-1zM9 56h1v1h-1zM4 57h1v1h-1zM7 57h1v1h-1zM11 57h1v1h-1zM21 57h1v1h-1zM7 58h1v1h-1zM19 58h1v1h-1zM6 59h1v1h-1zM36 59h1v1h-1zM17 61h2v1h-2zM24 61h1v1h-1zM36 61h1v1h-1zM5 62h1v1h-1zM18 62h1v1h-1zM26 62h2v1h-2zM43 62h1v1h-1zM3 63h1v1h-1zM8 63h1v1h-1zM10 63h1v1h-1zM13 63h1v1h-1zM22 64h1v1h-1zM5 66h1v1h-1zM10 66h1v1h-1zM13 66h1v1h-1zM5 67h1v1h-1zM17 67h1v1h-1zM24 67h1v1h-1zM31 67h1v1h-1zM33 67h1v1h-1zM0 68h1v1h-1zM2 68h1v1h-1zM23 68h1v1h-1zM50 68h1v1h-1zM5 69h1v1h-1zM24 69h1v1h-1zM5 70h1v1h-1zM8 70h1v1h-1zM22 70h1v1h-1zM0 71h1v1h-1zM10 71h1v1h-1zM23 71h1v1h-1zM26 71h1v1h-1zM28 71h1v1h-1zM31 71h1v1h-1zM1 72h1v1h-1zM3 72h1v1h-1zM6 72h1v1h-1zM10 72h1v1h-1zM24 72h1v1h-1zM10 73h1v1h-1zM27 73h1v1h-1zM3 74h1v1h-1zM21 74h1v1h-1zM4 75h1v1h-1zM27 75h2v1h-2zM13 76h1v1h-1zM41 76h1v1h-1zM3 77h1v1h-1zM6 77h2v1h-2zM19 77h1v1h-1zM38 77h1v1h-1zM4 78h1v1h-1zM21 78h1v1h-1zM23 78h2v1h-2zM47 78h1v1h-1zM3 81h1v1h-1zM6 81h1v1h-1zM9 81h1v1h-1zM5 83h2v1h-2zM34 83h2v1h-2zM45 83h2v1h-2zM8 84h1v1h-1zM16 84h1v1h-1zM24 84h1v1h-1zM25 85h1v1h-1zM3 86h1v1h-1zM6 86h1v1h-1zM43 86h1v1h-1zM7 87h1v1h-1zM21 87h1v1h-1zM37 87h1v1h-1zM41 87h1v1h-1zM2 88h1v1h-1zM5 88h1v1h-1zM10 88h1v1h-1zM24 88h1v1h-1zM26 88h1v1h-1zM41 88h1v1h-1zM1 90h1v1h-1zM10 90h1v1h-1zM20 90h1v1h-1zM2 91h1v1h-1zM11 91h1v1h-1zM13 91h1v1h-1zM0 92h1v1h-1zM4 92h1v1h-1zM6 92h1v1h-1zM8 92h1v1h-1zM18 92h1v1h-1zM28 92h1v1h-1zM36 92h1v1h-1zM2 93h1v1h-1zM15 93h1v1h-1zM44 94h1v1h-1zM1 95h1v1h-1zM16 95h1v1h-1zM20 95h1v1h-1zM27 95h1v1h-1zM44 95h1v1h-1zM0 96h1v1h-1zM13 96h1v1h-1zM28 96h1v1h-1zM34 96h1v1h-1zM45 96h2v1h-2zM12 97h2v1h-2zM26 97h1v1h-1zM30 97h1v1h-1zM44 97h1v1h-1zM11 98h1v1h-1zM27 98h1v1h-1zM37 98h1v1h-1zM48 98h1v1h-1zM8 99h1v1h-1zM10 99h1v1h-1zM19 99h1v1h-1zM33 99h1v1h-1zM44 100h1v1h-1zM49 100h2v1h-2zM1 103h1v1h-1zM38 103h1v1h-1zM48 103h1v1h-1zM20 104h1v1h-1zM39 104h1v1h-1zM41 104h2v1h-2zM45 104h1v1h-1zM18 105h1v1h-1zM41 105h1v1h-1zM46 105h1v1h-1zM50 105h1v1h-1zM24 106h1v1h-1zM37 106h1v1h-1zM40 106h1v1h-1zM4 107h2v1h-2zM22 107h1v1h-1zM17 108h1v1h-1zM31 108h1v1h-1zM42 108h1v1h-1zM48 108h1v1h-1zM4 109h1v1h-1zM33 109h1v1h-1zM42 109h1v1h-1zM44 109h2v1h-2zM48 109h1v1h-1z"/>
<path fill="#f59fa2" d="M26 0h2v1h-2zM32 0h1v1h-1zM35 0h2v1h-2zM42 0h1v1h-1zM47 0h1v1h-1zM28 1h1v1h-1zM35 1h1v1h-1zM24 2h1v1h-1zM29 2h1v1h-1zM45 2h1v1h-1zM49 2h2v1h-2zM16 3h1v1h-1zM18 3h1v1h-1zM27 3h1v1h-1zM43 3h1v1h-1zM49 3h1v1h-1zM1 4h1v1h-1zM23 4h1v1h-1zM26 4h1v1h-1zM27 5h1v1h-1zM31 5h1v1h-1zM37 5h1v1h-1zM1 6h1v1h-1zM3 6h2v1h-2zM20 6h1v1h-1zM47 6h1v1h-1zM28 7h1v1h-1zM35 7h1v1h-1zM40 7h1v1h-1zM46 7h1v1h-1zM0 8h1v1h-1zM13 8h1v1h-1zM18 8h1v1h-1zM21 8h1v1h-1zM43 8h1v1h-1zM45 8h1v1h-1zM8 9h1v1h-1zM15 9h1v1h-1zM19 9h3v1h-3zM27 9h2v1h-2zM30 9h1v1h-1zM38 9h1v1h-1zM40 9h1v1h-1zM43 9h1v1h-1zM46 9h1v1h-1zM16 10h1v1h-1zM3 11h1v1h-1zM6 11h1v1h-1zM17 11h1v1h-1zM2 12h1v1h-1zM4 12h1v1h-1zM17 12h1v1h-1zM30 12h1v1h-1zM4 13h1v1h-1zM37 13h1v1h-1zM45 13h1v1h-1zM50 13h1v1h-1zM3 14h1v1h-1zM7 14h1v1h-1zM12 14h1v1h-1zM31 14h1v1h-1zM49 14h1v1h-1zM15 15h1v1h-1zM21 15h1v1h-1zM30 15h1v1h-1zM1 16h1v1h-1zM8 16h1v1h-1zM26 16h1v1h-1zM48 16h1v1h-1zM20 17h1v1h-1zM22 17h1v1h-1zM20 18h1v1h-1zM48 18h1v1h-1zM7 19h1v1h-1zM11 19h1v1h-1zM9 20h1v1h-1zM23 20h1v1h-1zM27 20h1v1h-1zM2 21h1v1h-1zM16 21h1v1h-1zM41 21h1v1h-1zM27 22h1v1h-1zM48 22h1v1h-1zM16 23h1v1h-1zM31 23h1v1h-1zM40 23h1v1h-1zM16 24h1v1h-1zM37 24h1v1h-1zM49 24h1v1h-1zM3 25h1v1h-1zM10 25h1v1h-1zM26 25h1v1h-1zM1 26h2v1h-2zM6 26h1v1h-1zM12 26h1v1h-1zM14 26h2v1h-2zM19 26h1v1h-1zM35 26h1v1h-1zM37 26h1v1h-1zM7 27h1v1h-1zM10 27h1v1h-1zM27 27h1v1h-1zM30 27h1v1h-1zM34 27h1v1h-1zM45 27h1v1h-1zM2 28h2v1h-2zM14 28h1v1h-1zM21 28h1v1h-1zM24 28h1v1h-1zM33 28h1v1h-1zM9 30h1v1h-1zM13 30h2v1h-2zM41 30h1v1h-1zM44 30h1v1h-1zM47 30h1v1h-1zM12 31h1v1h-1zM46 31h1v1h-1zM11 32h2v1h-2zM0 33h1v1h-1zM4 33h1v1h-1zM9 33h1v1h-1zM14 33h2v1h-2zM18 33h1v1h-1zM12 34h1v1h-1zM30 34h1v1h-1zM46 34h1v1h-1zM48 34h1v1h-1zM50 34h1v1h-1zM6 35h1v1h-1zM8 35h1v1h-1zM10 35h2v1h-2zM13 35h1v1h-1zM15 35h1v1h-1zM21 35h1v1h-1zM33 36h1v1h-1zM36 36h1v1h-1zM39 36h1v1h-1zM43 36h1v1h-1zM49 36h1v1h-1zM13 37h1v1h-1zM19 37h1v1h-1zM4 38h1v1h-1zM26 39h2v1h-2zM48 39h1v1h-1zM0 40h1v1h-1zM35 40h1v1h-1zM48 40h1v1h-1zM15 41h1v1h-1zM39 41h1v1h-1zM3 42h1v1h-1zM13 42h1v1h-1zM29 42h3v1h-3zM35 42h1v1h-1zM2 43h1v1h-1zM5 43h1v1h-1zM18 43h1v1h-1zM21 43h2v1h-2zM37 43h1v1h-1zM39 43h1v1h-1zM7 44h1v1h-1zM14 44h2v1h-2zM36 44h1v1h-1zM2 45h1v1h-1zM7 45h1v1h-1zM9 46h1v1h-1zM15 46h1v1h-1zM26 46h1v1h-1zM33 46h2v1h-2zM36 46h1v1h-1zM50 46h1v1h-1zM17 47h1v1h-1zM2 48h1v1h-1zM7 48h1v1h-1zM14 48h1v1h-1zM17 48h1v1h-1zM19 48h1v1h-1zM21 48h1v1h-1zM24 48h1v1h-1zM7 49h1v1h-1zM9 49h1v1h-1zM11 49h2v1h-2zM14 49h1v1h-1zM16 49h1v1h-1zM2 50h1v1h-1zM13 50h1v1h-1zM18 50h1v1h-1zM33 50h1v1h-1zM38 50h1v1h-1zM3 51h1v1h-1zM9 51h1v1h-1zM17 51h1v1h-1zM26 51h1v1h-1zM5 52h1v1h-1zM23 52h1v1h-1zM30 52h1v1h-1zM47 52h1v1h-1zM16 53h1v1h-1zM44 53h1v1h-1zM47 53h1v1h-1zM5 54h1v1h-1zM16 54h1v1h-1zM39 54h1v1h-1zM13 55h1v1h-1zM17 55h1v1h-1zM19 55h1v1h-1zM37 55h1v1h-1zM0 56h1v1h-1zM3 56h1v1h-1zM10 56h2v1h-2zM16 56h1v1h-1zM18 56h1v1h-1zM21 56h1v1h-1zM2 57h1v1h-1zM15 57h1v1h-1zM29 57h1v1h-1zM38 57h1v1h-1zM11 58h1v1h-1zM14 58h1v1h-1zM24 58h1v1h-1zM0 59h2v1h-2zM3 59h1v1h-1zM15 59h1v1h-1zM30 59h1v1h-1zM37 59h1v1h-1zM2 60h1v1h-1zM11 60h1v1h-1zM30 60h1v1h-1zM32 60h1v1h-1zM34 60h1v1h-1zM1 61h1v1h-1zM5 61h1v1h-1zM2 62h1v1h-1zM9 62h1v1h-1zM41 62h1v1h-1zM2 63h1v1h-1zM11 63h1v1h-1zM14 63h1v1h-1zM17 63h1v1h-1zM21 63h1v1h-1zM0 64h1v1h-1zM20 64h1v1h-1zM24 64h1v1h-1zM2 65h1v1h-1zM8 65h1v1h-1zM10 65h1v1h-1zM15 65h1v1h-1zM48 65h1v1h-1zM8 66h2v1h-2zM11 66h1v1h-1zM17 66h1v1h-1zM15 67h1v1h-1zM18 67h1v1h-1zM35 67h1v1h-1zM41 67h1v1h-1zM44 67h1v1h-1zM34 68h1v1h-1zM2 69h1v1h-1zM4 69h1v1h-1zM12 69h1v1h-1zM15 69h2v1h-2zM4 70h1v1h-1zM7 70h1v1h-1zM11 70h2v1h-2zM15 70h1v1h-1zM45 70h1v1h-1zM47 70h1v1h-1zM1 71h1v1h-1zM7 72h2v1h-2zM12 72h1v1h-1zM15 72h1v1h-1zM26 72h1v1h-1zM1 73h1v1h-1zM15 73h3v1h-3zM19 73h1v1h-1zM22 73h1v1h-1zM28 73h1v1h-1zM12 74h1v1h-1zM29 74h1v1h-1zM1 75h2v1h-2zM9 75h1v1h-1zM15 75h1v1h-1zM44 75h1v1h-1zM46 75h1v1h-1zM17 76h1v1h-1zM42 76h1v1h-1zM13 77h1v1h-1zM22 77h1v1h-1zM42 77h2v1h-2zM8 78h1v1h-1zM13 78h1v1h-1zM16 78h1v1h-1zM39 78h1v1h-1zM2 79h1v1h-1zM5 79h1v1h-1zM39 79h1v1h-1zM43 79h1v1h-1zM0 80h2v1h-2zM13 80h1v1h-1zM17 80h1v1h-1zM35 80h1v1h-1zM38 80h1v1h-1zM47 80h2v1h-2zM4 81h1v1h-1zM12 81h1v1h-1zM19 81h2v1h-2zM23 81h2v1h-2zM35 81h2v1h-2zM21 82h1v1h-1zM24 82h1v1h-1zM1 83h2v1h-2zM11 83h1v1h-1zM1 84h2v1h-2zM7 84h1v1h-1zM11 84h1v1h-1zM13 84h1v1h-1zM11 85h1v1h-1zM14 85h1v1h-1zM18 85h1v1h-1zM44 85h1v1h-1zM11 86h1v1h-1zM14 86h1v1h-1zM31 86h1v1h-1zM1 87h2v1h-2zM6 87h1v1h-1zM8 87h1v1h-1zM15 87h1v1h-1zM19 87h1v1h-1zM13 88h1v1h-1zM15 88h1v1h-1zM18 88h1v1h-1zM25 88h1v1h-1zM1 89h2v1h-2zM15 89h1v1h-1zM17 89h2v1h-2zM47 89h1v1h-1zM11 90h1v1h-1zM14 90h1v1h-1zM44 90h1v1h-1zM1 91h1v1h-1zM3 91h1v1h-1zM37 91h1v1h-1zM42 91h1v1h-1zM2 92h1v1h-1zM31 92h2v1h-2zM38 92h1v1h-1zM42 92h1v1h-1zM45 92h1v1h-1zM4 93h1v1h-1zM21 93h1v1h-1zM45 93h2v1h-2zM50 93h1v1h-1zM34 94h2v1h-2zM38 94h1v1h-1zM15 95h1v1h-1zM19 95h1v1h-1zM48 95h1v1h-1zM6 96h1v1h-1zM8 96h1v1h-1zM39 96h1v1h-1zM47 96h1v1h-1zM11 97h1v1h-1zM38 97h1v1h-1zM49 97h1v1h-1zM0 98h1v1h-1zM10 98h1v1h-1zM18 98h1v1h-1zM16 99h1v1h-1zM20 99h1v1h-1zM32 99h1v1h-1zM45 100h1v1h-1zM27 101h1v1h-1zM39 101h2v1h-2zM30 102h1v1h-1zM50 102h1v1h-1zM27 103h1v1h-1zM31 104h1v1h-1zM46 104h1v1h-1zM26 105h2v1h-2zM42 105h1v1h-1zM50 106h1v1h-1zM10 107h2v1h-2zM2 109h1v1h-1zM8 109h1v1h-1zM36 109h1v1h-1zM47 109h1v1h-1z"/>
<path fill="#f48e92" d="M13 0h1v1h-1zM29 0h1v1h-1zM46 0h1v1h-1zM41 1h2v1h-2zM10 2h1v1h-1zM20 2h1v1h-1zM22 2h1v1h-1zM32 2h1v1h-1zM40 2h1v1h-1zM47 2h1v1h-1zM0 3h1v1h-1zM21 3h1v1h-1zM12 4h1v1h-1zM28 4h1v1h-1zM34 4h1v1h-1zM42 4h1v1h-1zM45 4h1v1h-1zM9 5h1v1h-1zM26 5h1v1h-1zM36 5h1v1h-1zM19 6h1v1h-1zM43 6h1v1h-1zM6 8h1v1h-1zM8 8h1v1h-1zM14 8h1v1h-1zM16 8h1v1h-1zM39 8h1v1h-1zM13 9h1v1h-1zM47 9h4v1h-4zM11 10h1v1h-1zM46 10h1v1h-1zM7 11h1v1h-1zM11 11h1v1h-1zM18 11h1v1h-1zM20 11h1v1h-1zM3 12h1v1h-1zM11 12h1v1h-1zM43 12h1v1h-1zM50 12h1v1h-1zM26 13h1v1h-1zM36 13h1v1h-1zM43 13h1v1h-1zM1 14h2v1h-2zM4 14h1v1h-1zM8 14h3v1h-3zM15 14h1v1h-1zM30 14h1v1h-1zM0 15h1v1h-1zM12 15h1v1h-1zM31 15h1v1h-1zM45 15h1v1h-1zM49 15h1v1h-1zM4 16h1v1h-1zM9 16h1v1h-1zM39 16h1v1h-1zM47 16h1v1h-1zM8 17h1v1h-1zM24 17h1v1h-1zM36 17h1v1h-1zM49 17h1v1h-1zM15 18h1v1h-1zM24 18h1v1h-1zM32 18h1v1h-1zM50 18h1v1h-1zM1 19h1v1h-1zM12 19h1v1h-1zM16 19h1v1h-1zM22 19h1v1h-1zM24 19h1v1h-1zM10 20h2v1h-2zM10 21h1v1h-1zM15 21h1v1h-1zM42 21h1v1h-1zM31 22h1v1h-1zM33 22h1v1h-1zM13 23h1v1h-1zM33 23h3v1h-3zM37 23h1v1h-1zM1 24h1v1h-1zM4 24h1v1h-1zM9 24h1v1h-1zM30 24h1v1h-1zM33 24h1v1h-1zM5 25h1v1h-1zM19 25h1v1h-1zM49 25h2v1h-2zM23 26h1v1h-1zM40 26h1v1h-1zM6 27h1v1h-1zM11 27h1v1h-1zM26 27h1v1h-1zM29 27h1v1h-1zM33 27h1v1h-1zM41 27h1v1h-1zM43 27h1v1h-1zM10 28h1v1h-1zM36 28h1v1h-1zM45 28h1v1h-1zM17 29h1v1h-1zM20 29h1v1h-1zM38 29h1v1h-1zM44 29h1v1h-1zM27 30h1v1h-1zM42 30h1v1h-1zM46 30h1v1h-1zM1 31h1v1h-1zM3 31h1v1h-1zM13 31h1v1h-1zM18 31h1v1h-1zM22 31h1v1h-1zM24 31h1v1h-1zM36 31h1v1h-1zM1 32h1v1h-1zM6 32h1v1h-1zM9 32h1v1h-1zM23 32h1v1h-1zM1 33h1v1h-1zM5 33h2v1h-2zM12 33h2v1h-2zM14 34h2v1h-2zM12 35h1v1h-1zM4 36h1v1h-1zM7 36h2v1h-2zM22 36h1v1h-1zM45 36h1v1h-1zM2 37h1v1h-1zM6 37h1v1h-1zM18 37h1v1h-1zM20 37h1v1h-1zM2 38h1v1h-1zM18 38h2v1h-2zM49 39h1v1h-1zM16 40h1v1h-1zM4 41h1v1h-1zM16 41h1v1h-1zM21 41h1v1h-1zM12 42h1v1h-1zM22 42h1v1h-1zM24 42h1v1h-1zM4 43h1v1h-1zM6 44h1v1h-1zM16 44h1v1h-1zM46 44h1v1h-1zM4 45h1v1h-1zM9 45h1v1h-1zM19 45h1v1h-1zM6 46h1v1h-1zM13 46h2v1h-2zM27 46h3v1h-3zM31 46h1v1h-1zM47 46h1v1h-1zM5 47h2v1h-2zM8 47h1v1h-1zM11 47h1v1h-1zM13 47h2v1h-2zM16 47h1v1h-1zM19 47h2v1h-2zM1 48h1v1h-1zM5 48h2v1h-2zM9 48h1v1h-1zM12 48h1v1h-1zM16 48h1v1h-1zM20 48h1v1h-1zM40 48h1v1h-1zM22 49h1v1h-1zM47 49h1v1h-1zM4 50h1v1h-1zM19 50h1v1h-1zM29 50h1v1h-1zM10 51h1v1h-1zM0 52h1v1h-1zM48 52h2v1h-2zM26 53h1v1h-1zM37 53h1v1h-1zM43 53h1v1h-1zM1 54h1v1h-1zM9 54h1v1h-1zM11 54h1v1h-1zM23 54h1v1h-1zM46 54h1v1h-1zM5 55h1v1h-1zM29 55h1v1h-1zM7 56h1v1h-1zM15 56h1v1h-1zM23 56h2v1h-2zM9 57h1v1h-1zM6 58h1v1h-1zM22 58h1v1h-1zM2 59h1v1h-1zM8 59h1v1h-1zM18 59h1v1h-1zM38 59h1v1h-1zM8 60h1v1h-1zM31 60h1v1h-1zM38 60h2v1h-2zM8 61h1v1h-1zM21 61h1v1h-1zM7 62h1v1h-1zM12 62h1v1h-1zM17 62h1v1h-1zM21 62h1v1h-1zM24 62h1v1h-1zM35 63h1v1h-1zM6 64h2v1h-2zM14 64h1v1h-1zM23 64h1v1h-1zM4 65h1v1h-1zM24 65h1v1h-1zM4 66h1v1h-1zM6 66h1v1h-1zM12 66h1v1h-1zM18 66h1v1h-1zM20 66h2v1h-2zM24 66h1v1h-1zM36 66h1v1h-1zM12 67h2v1h-2zM19 67h1v1h-1zM28 67h2v1h-2zM32 67h1v1h-1zM34 67h1v1h-1zM3 68h1v1h-1zM15 68h1v1h-1zM24 68h1v1h-1zM28 68h1v1h-1zM30 68h1v1h-1zM33 68h1v1h-1zM38 68h1v1h-1zM1 69h1v1h-1zM9 69h2v1h-2zM20 69h1v1h-1zM9 70h1v1h-1zM13 70h1v1h-1zM17 70h1v1h-1zM5 71h1v1h-1zM7 71h1v1h-1zM14 71h1v1h-1zM4 72h1v1h-1zM11 72h1v1h-1zM14 72h1v1h-1zM14 73h1v1h-1zM5 74h3v1h-3zM11 74h1v1h-1zM17 74h1v1h-1zM22 74h1v1h-1zM27 74h2v1h-2zM3 75h1v1h-1zM8 75h1v1h-1zM11 75h2v1h-2zM16 75h1v1h-1zM19 75h1v1h-1zM22 75h2v1h-2zM30 75h1v1h-1zM45 75h1v1h-1zM2 76h1v1h-1zM5 76h1v1h-1zM15 76h1v1h-1zM34 76h1v1h-1zM40 76h1v1h-1zM44 76h1v1h-1zM46 76h1v1h-1zM9 77h1v1h-1zM16 77h1v1h-1zM21 77h1v1h-1zM26 77h1v1h-1zM37 77h1v1h-1zM39 77h1v1h-1zM41 77h1v1h-1zM50 77h1v1h-1zM9 78h1v1h-1zM11 78h1v1h-1zM20 78h1v1h-1zM13 79h1v1h-1zM41 79h1v1h-1zM46 79h1v1h-1zM12 80h1v1h-1zM22 80h1v1h-1zM1 81h2v1h-2zM5 81h1v1h-1zM17 81h2v1h-2zM6 82h2v1h-2zM22 82h1v1h-1zM8 83h2v1h-2zM22 83h1v1h-1zM9 84h2v1h-2zM1 85h1v1h-1zM10 85h1v1h-1zM13 85h1v1h-1zM33 85h1v1h-1zM1 86h2v1h-2zM10 86h1v1h-1zM13 86h1v1h-1zM17 86h1v1h-1zM21 86h1v1h-1zM44 86h1v1h-1zM12 87h2v1h-2zM20 87h1v1h-1zM1 88h1v1h-1zM3 88h2v1h-2zM11 88h1v1h-1zM23 88h1v1h-1zM39 88h1v1h-1zM9 89h1v1h-1zM13 89h1v1h-1zM39 89h1v1h-1zM7 90h1v1h-1zM15 90h3v1h-3zM19 90h1v1h-1zM23 90h1v1h-1zM28 90h1v1h-1zM25 91h3v1h-3zM43 91h1v1h-1zM15 92h1v1h-1zM17 92h1v1h-1zM34 92h1v1h-1zM37 92h1v1h-1zM41 92h1v1h-1zM5 93h1v1h-1zM16 93h1v1h-1zM22 93h1v1h-1zM33 93h3v1h-3zM41 93h1v1h-1zM12 94h1v1h-1zM30 94h1v1h-1zM33 94h1v1h-1zM43 94h1v1h-1zM12 95h1v1h-1zM17 95h1v1h-1zM28 95h1v1h-1zM34 95h1v1h-1zM38 95h1v1h-1zM46 95h1v1h-1zM10 96h1v1h-1zM15 96h1v1h-1zM25 96h1v1h-1zM30 96h1v1h-1zM37 96h1v1h-1zM40 96h1v1h-1zM42 96h1v1h-1zM18 97h1v1h-1zM34 97h1v1h-1zM40 97h1v1h-1zM48 97h1v1h-1zM12 98h1v1h-1zM28 98h1v1h-1zM38 98h1v1h-1zM40 98h3v1h-3zM46 98h1v1h-1zM0 99h1v1h-1zM15 99h1v1h-1zM36 99h1v1h-1zM36 100h1v1h-1zM39 100h1v1h-1zM42 100h2v1h-2zM4 101h1v1h-1zM28 101h1v1h-1zM49 102h1v1h-1zM26 103h1v1h-1zM29 103h1v1h-1zM43 103h1v1h-1zM21 104h1v1h-1zM30 104h1v1h-1zM40 104h1v1h-1zM50 104h1v1h-1zM28 105h1v1h-1zM16 106h2v1h-2zM33 106h1v1h-1zM35 106h1v1h-1zM42 106h1v1h-1zM49 106h1v1h-1zM3 107h1v1h-1zM21 107h1v1h-1zM49 107h1v1h-1zM10 108h1v1h-1zM18 108h1v1h-1zM29 108h1v1h-1zM35 108h1v1h-1zM49 108h1v1h-1zM0 109h1v1h-1zM3 109h1v1h-1zM15 109h1v1h-1z"/>
<path fill="#f27e83" d="M16 0h1v1h-1zM33 0h1v1h-1zM50 0h1v1h-1zM4 1h1v1h-1zM27 1h1v1h-1zM29 1h3v1h-3zM30 2h1v1h-1zM20 3h1v1h-1zM28 3h1v1h-1zM30 3h1v1h-1zM32 3h1v1h-1zM34 3h1v1h-1zM44 3h1v1h-1zM46 3h1v1h-1zM48 3h1v1h-1zM2 4h1v1h-1zM8 4h3v1h-3zM20 4h1v1h-1zM27 4h1v1h-1zM38 4h1v1h-1zM6 5h1v1h-1zM32 5h2v1h-2zM35 5h1v1h-1zM39 5h1v1h-1zM42 5h1v1h-1zM46 5h1v1h-1zM11 6h2v1h-2zM22 6h1v1h-1zM31 6h1v1h-1zM42 6h1v1h-1zM46 6h1v1h-1zM1 7h1v1h-1zM30 7h1v1h-1zM32 7h1v1h-1zM36 7h1v1h-1zM39 7h1v1h-1zM41 7h1v1h-1zM44 7h1v1h-1zM47 7h1v1h-1zM24 8h1v1h-1zM26 8h2v1h-2zM41 8h1v1h-1zM11 9h1v1h-1zM44 9h1v1h-1zM9 10h2v1h-2zM21 10h1v1h-1zM34 10h2v1h-2zM12 11h2v1h-2zM10 12h1v1h-1zM47 12h1v1h-1zM11 13h1v1h-1zM13 13h1v1h-1zM23 13h1v1h-1zM29 13h1v1h-1zM31 13h1v1h-1zM38 13h1v1h-1zM40 13h1v1h-1zM47 13h1v1h-1zM49 13h1v1h-1zM28 14h2v1h-2zM48 14h1v1h-1zM3 15h2v1h-2zM6 15h3v1h-3zM16 15h1v1h-1zM18 15h1v1h-1zM50 15h1v1h-1zM0 16h1v1h-1zM41 16h1v1h-1zM45 16h2v1h-2zM21 17h1v1h-1zM32 17h1v1h-1zM34 17h1v1h-1zM12 18h1v1h-1zM14 18h1v1h-1zM6 19h1v1h-1zM5 20h1v1h-1zM17 20h1v1h-1zM45 20h1v1h-1zM11 21h1v1h-1zM14 21h1v1h-1zM23 21h1v1h-1zM43 21h2v1h-2zM47 21h1v1h-1zM4 22h2v1h-2zM10 22h1v1h-1zM13 22h1v1h-1zM43 22h1v1h-1zM7 23h1v1h-1zM10 23h1v1h-1zM22 23h1v1h-1zM24 23h1v1h-1zM29 23h1v1h-1zM38 23h1v1h-1zM2 24h1v1h-1zM5 24h2v1h-2zM10 24h1v1h-1zM12 24h1v1h-1zM15 24h1v1h-1zM17 24h1v1h-1zM4 25h1v1h-1zM6 25h2v1h-2zM9 26h1v1h-1zM11 26h1v1h-1zM18 26h1v1h-1zM32 26h1v1h-1zM39 26h1v1h-1zM43 26h1v1h-1zM42 27h1v1h-1zM46 27h1v1h-1zM48 27h1v1h-1zM1 28h1v1h-1zM22 28h2v1h-2zM43 28h1v1h-1zM16 29h1v1h-1zM22 29h1v1h-1zM15 30h1v1h-1zM32 30h1v1h-1zM6 31h1v1h-1zM8 31h1v1h-1zM23 31h1v1h-1zM28 31h1v1h-1zM44 31h1v1h-1zM2 32h1v1h-1zM10 32h1v1h-1zM18 32h3v1h-3zM22 32h1v1h-1zM24 32h1v1h-1zM3 33h1v1h-1zM7 33h2v1h-2zM17 33h1v1h-1zM20 33h3v1h-3zM4 34h3v1h-3zM11 34h1v1h-1zM42 34h1v1h-1zM49 34h1v1h-1zM2 35h1v1h-1zM7 35h1v1h-1zM18 35h1v1h-1zM29 35h1v1h-1zM3 36h1v1h-1zM5 36h1v1h-1zM20 36h1v1h-1zM23 36h1v1h-1zM9 37h1v1h-1zM14 37h1v1h-1zM24 37h1v1h-1zM26 37h1v1h-1zM1 38h1v1h-1zM3 38h1v1h-1zM5 38h1v1h-1zM27 38h1v1h-1zM29 38h1v1h-1zM23 39h2v1h-2zM35 39h4v1h-4zM47 39h1v1h-1zM46 40h1v1h-1zM49 40h1v1h-1zM3 41h1v1h-1zM7 41h1v1h-1zM20 41h1v1h-1zM22 41h1v1h-1zM9 42h1v1h-1zM19 42h1v1h-1zM23 42h1v1h-1zM1 43h1v1h-1zM9 43h1v1h-1zM20 43h1v1h-1zM38 43h1v1h-1zM41 43h1v1h-1zM24 44h1v1h-1zM28 44h1v1h-1zM35 44h1v1h-1zM0 45h1v1h-1zM24 46h1v1h-1zM30 46h1v1h-1zM3 47h1v1h-1zM9 47h1v1h-1zM12 47h1v1h-1zM8 48h1v1h-1zM13 48h1v1h-1zM15 48h1v1h-1zM1 49h1v1h-1zM5 49h1v1h-1zM10 49h1v1h-1zM15 49h1v1h-1zM18 49h1v1h-1zM21 49h1v1h-1zM5 50h1v1h-1zM16 50h1v1h-1zM24 50h1v1h-1zM26 50h1v1h-1zM34 50h1v1h-1zM47 50h1v1h-1zM4 51h1v1h-1zM7 51h1v1h-1zM18 51h1v1h-1zM21 51h1v1h-1zM8 52h1v1h-1zM46 52h1v1h-1zM13 53h1v1h-1zM15 53h1v1h-1zM27 53h1v1h-1zM2 54h2v1h-2zM6 54h1v1h-1zM10 54h1v1h-1zM45 54h1v1h-1zM1 55h1v1h-1zM9 55h1v1h-1zM14 55h2v1h-2zM26 55h1v1h-1zM28 55h1v1h-1zM42 55h1v1h-1zM19 56h1v1h-1zM1 57h1v1h-1zM13 57h1v1h-1zM28 57h1v1h-1zM30 57h1v1h-1zM48 57h1v1h-1zM4 58h1v1h-1zM15 58h2v1h-2zM23 58h1v1h-1zM37 58h1v1h-1zM16 59h1v1h-1zM19 59h1v1h-1zM31 59h1v1h-1zM40 59h1v1h-1zM43 59h1v1h-1zM6 60h2v1h-2zM36 60h1v1h-1zM34 61h1v1h-1zM47 61h1v1h-1zM6 62h1v1h-1zM20 62h1v1h-1zM23 62h1v1h-1zM4 63h1v1h-1zM15 63h1v1h-1zM3 64h1v1h-1zM8 64h1v1h-1zM12 64h1v1h-1zM18 64h1v1h-1zM21 64h1v1h-1zM3 65h1v1h-1zM11 65h1v1h-1zM13 65h1v1h-1zM16 65h1v1h-1zM20 65h1v1h-1zM26 65h2v1h-2zM15 66h2v1h-2zM39 66h1v1h-1zM41 66h1v1h-1zM2 67h1v1h-1zM20 67h1v1h-1zM42 67h1v1h-1zM1 68h1v1h-1zM6 68h1v1h-1zM19 68h1v1h-1zM19 69h1v1h-1zM3 70h1v1h-1zM16 70h1v1h-1zM19 70h1v1h-1zM46 70h1v1h-1zM6 71h1v1h-1zM30 71h1v1h-1zM9 72h1v1h-1zM16 72h1v1h-1zM22 72h1v1h-1zM9 73h1v1h-1zM13 73h1v1h-1zM24 73h1v1h-1zM40 73h1v1h-1zM8 74h1v1h-1zM13 74h2v1h-2zM18 74h1v1h-1zM36 74h2v1h-2zM26 75h1v1h-1zM49 75h2v1h-2zM3 76h1v1h-1zM12 76h1v1h-1zM14 76h1v1h-1zM20 76h1v1h-1zM1 77h1v1h-1zM0 78h1v1h-1zM14 78h1v1h-1zM37 78h1v1h-1zM6 79h1v1h-1zM22 79h1v1h-1zM26 79h1v1h-1zM28 79h1v1h-1zM38 79h1v1h-1zM3 80h1v1h-1zM5 80h1v1h-1zM16 80h1v1h-1zM36 80h1v1h-1zM0 81h1v1h-1zM39 81h1v1h-1zM3 82h2v1h-2zM9 82h1v1h-1zM0 83h1v1h-1zM3 83h1v1h-1zM6 84h1v1h-1zM12 84h1v1h-1zM14 84h1v1h-1zM18 84h2v1h-2zM2 85h2v1h-2zM16 85h1v1h-1zM24 85h1v1h-1zM7 86h1v1h-1zM12 86h1v1h-1zM15 86h1v1h-1zM18 86h1v1h-1zM20 86h1v1h-1zM18 87h1v1h-1zM22 87h1v1h-1zM38 87h1v1h-1zM42 88h1v1h-1zM4 89h1v1h-1zM8 89h1v1h-1zM14 89h1v1h-1zM37 89h1v1h-1zM2 90h1v1h-1zM5 90h1v1h-1zM18 90h1v1h-1zM7 91h1v1h-1zM15 91h1v1h-1zM36 91h1v1h-1zM39 91h1v1h-1zM7 92h1v1h-1zM10 92h3v1h-3zM16 92h1v1h-1zM33 92h1v1h-1zM35 92h1v1h-1zM40 92h1v1h-1zM12 93h2v1h-2zM18 93h2v1h-2zM32 93h1v1h-1zM40 93h1v1h-1zM25 94h1v1h-1zM27 94h1v1h-1zM31 94h1v1h-1zM37 94h1v1h-1zM45 94h1v1h-1zM13 95h1v1h-1zM36 95h1v1h-1zM41 95h1v1h-1zM35 96h2v1h-2zM41 96h1v1h-1zM46 97h1v1h-1zM17 98h1v1h-1zM43 98h1v1h-1zM18 99h1v1h-1zM23 99h1v1h-1zM34 99h1v1h-1zM42 99h2v1h-2zM10 100h1v1h-1zM32 100h1v1h-1zM38 100h1v1h-1zM3 101h1v1h-1zM26 101h1v1h-1zM36 101h1v1h-1zM38 101h1v1h-1zM22 102h1v1h-1zM29 102h1v1h-1zM36 102h1v1h-1zM40 102h2v1h-2zM31 103h1v1h-1zM34 103h1v1h-1zM37 103h1v1h-1zM14 104h1v1h-1zM23 104h2v1h-2zM47 104h2v1h-2zM17 105h1v1h-1zM31 105h1v1h-1zM49 105h1v1h-1zM12 106h2v1h-2zM15 106h1v1h-1zM0 107h1v1h-1zM9 107h1v1h-1zM16 107h1v1h-1zM24 107h1v1h-1zM11 108h1v1h-1zM33 108h1v1h-1zM36 108h1v1h-1zM39 108h1v1h-1zM44 108h2v1h-2zM47 108h1v1h-1zM20 109h1v1h-1zM25 109h1v1h-1zM40 109h1v1h-1z"/>
<path fill="#f06e73" d="M28 0h1v1h-1zM34 0h1v1h-1zM2 1h2v1h-2zM5 1h1v1h-1zM37 1h1v1h-1zM2 2h1v1h-1zM9 2h1v1h-1zM26 2h1v1h-1zM31 2h1v1h-1zM26 3h1v1h-1zM33 3h1v1h-1zM38 3h1v1h-1zM6 4h1v1h-1zM32 4h1v1h-1zM44 4h1v1h-1zM5 5h1v1h-1zM47 5h1v1h-1zM33 6h2v1h-2zM48 6h1v1h-1zM14 7h1v1h-1zM29 7h1v1h-1zM43 7h1v1h-1zM3 8h1v1h-1zM7 8h1v1h-1zM28 8h1v1h-1zM42 8h1v1h-1zM2 9h2v1h-2zM9 9h1v1h-1zM12 9h1v1h-1zM32 9h1v1h-1zM47 10h1v1h-1zM2 11h1v1h-1zM1 12h1v1h-1zM6 12h2v1h-2zM24 12h1v1h-1zM46 12h1v1h-1zM10 13h1v1h-1zM28 13h1v1h-1zM44 13h1v1h-1zM5 14h1v1h-1zM13 14h1v1h-1zM39 14h1v1h-1zM50 14h1v1h-1zM1 15h1v1h-1zM5 15h1v1h-1zM17 15h1v1h-1zM19 15h1v1h-1zM22 15h2v1h-2zM46 15h1v1h-1zM40 16h1v1h-1zM7 17h1v1h-1zM35 17h1v1h-1zM50 17h1v1h-1zM2 18h1v1h-1zM4 18h1v1h-1zM9 18h1v1h-1zM13 18h1v1h-1zM38 18h1v1h-1zM49 18h1v1h-1zM13 19h2v1h-2zM20 19h1v1h-1zM19 20h1v1h-1zM29 20h2v1h-2zM39 20h1v1h-1zM48 20h1v1h-1zM6 21h1v1h-1zM13 21h1v1h-1zM24 21h1v1h-1zM12 22h1v1h-1zM34 22h1v1h-1zM44 22h1v1h-1zM11 23h1v1h-1zM18 23h2v1h-2zM21 23h1v1h-1zM32 23h1v1h-1zM11 24h1v1h-1zM9 25h1v1h-1zM33 25h1v1h-1zM37 25h1v1h-1zM3 26h1v1h-1zM20 26h1v1h-1zM34 26h1v1h-1zM38 26h1v1h-1zM12 27h1v1h-1zM32 27h1v1h-1zM11 28h1v1h-1zM17 28h2v1h-2zM46 28h1v1h-1zM1 29h1v1h-1zM19 29h1v1h-1zM39 29h1v1h-1zM10 30h1v1h-1zM12 30h1v1h-1zM34 30h1v1h-1zM20 31h2v1h-2zM5 32h1v1h-1zM17 32h1v1h-1zM16 33h1v1h-1zM24 33h1v1h-1zM3 34h1v1h-1zM8 34h1v1h-1zM10 34h1v1h-1zM13 34h1v1h-1zM20 34h2v1h-2zM26 34h1v1h-1zM32 34h1v1h-1zM43 34h1v1h-1zM27 35h1v1h-1zM9 36h2v1h-2zM41 36h1v1h-1zM44 36h1v1h-1zM46 36h2v1h-2zM11 37h2v1h-2zM15 37h2v1h-2zM31 37h2v1h-2zM15 38h2v1h-2zM22 39h1v1h-1zM15 40h1v1h-1zM22 40h1v1h-1zM50 40h1v1h-1zM18 41h1v1h-1zM26 41h1v1h-1zM5 42h1v1h-1zM8 42h1v1h-1zM32 42h1v1h-1zM34 42h1v1h-1zM40 43h1v1h-1zM13 44h1v1h-1zM19 44h1v1h-1zM27 44h1v1h-1zM44 44h1v1h-1zM15 45h1v1h-1zM7 46h1v1h-1zM17 46h1v1h-1zM0 48h1v1h-1zM10 48h1v1h-1zM3 49h1v1h-1zM6 50h1v1h-1zM17 50h1v1h-1zM28 50h1v1h-1zM1 51h1v1h-1zM5 51h1v1h-1zM8 51h1v1h-1zM13 51h1v1h-1zM33 52h1v1h-1zM2 53h1v1h-1zM12 53h1v1h-1zM28 53h1v1h-1zM14 54h2v1h-2zM8 55h1v1h-1zM10 55h1v1h-1zM18 55h1v1h-1zM21 55h1v1h-1zM23 55h1v1h-1zM27 55h1v1h-1zM34 55h1v1h-1zM48 55h1v1h-1zM14 56h1v1h-1zM22 56h1v1h-1zM0 57h1v1h-1zM18 57h1v1h-1zM26 57h2v1h-2zM39 57h1v1h-1zM5 58h1v1h-1zM12 58h2v1h-2zM20 58h1v1h-1zM4 59h1v1h-1zM41 59h1v1h-1zM10 61h1v1h-1zM11 62h1v1h-1zM15 62h2v1h-2zM28 62h1v1h-1zM9 63h1v1h-1zM23 63h1v1h-1zM1 64h1v1h-1zM11 64h1v1h-1zM17 64h1v1h-1zM7 65h1v1h-1zM17 65h2v1h-2zM28 65h1v1h-1zM2 66h1v1h-1zM19 66h1v1h-1zM22 66h1v1h-1zM35 66h1v1h-1zM8 67h1v1h-1zM16 67h1v1h-1zM21 67h1v1h-1zM30 67h1v1h-1zM4 68h2v1h-2zM14 68h1v1h-1zM27 68h1v1h-1zM35 68h1v1h-1zM3 69h1v1h-1zM7 69h1v1h-1zM11 69h1v1h-1zM1 70h2v1h-2zM10 70h1v1h-1zM4 71h1v1h-1zM11 71h1v1h-1zM13 71h1v1h-1zM33 71h1v1h-1zM36 71h2v1h-2zM48 71h1v1h-1zM2 72h1v1h-1zM13 72h1v1h-1zM17 72h1v1h-1zM23 72h1v1h-1zM43 72h1v1h-1zM18 73h1v1h-1zM23 73h1v1h-1zM10 74h1v1h-1zM15 74h1v1h-1zM21 75h1v1h-1zM31 75h1v1h-1zM47 75h2v1h-2zM4 76h1v1h-1zM19 76h1v1h-1zM23 76h1v1h-1zM45 76h1v1h-1zM15 77h1v1h-1zM40 77h1v1h-1zM44 77h1v1h-1zM5 78h1v1h-1zM15 78h1v1h-1zM17 78h1v1h-1zM27 79h1v1h-1zM6 80h1v1h-1zM8 80h1v1h-1zM14 80h1v1h-1zM18 80h1v1h-1zM38 81h1v1h-1zM1 82h1v1h-1zM8 82h1v1h-1zM12 82h2v1h-2zM12 83h1v1h-1zM23 83h1v1h-1zM40 83h1v1h-1zM0 84h1v1h-1zM49 84h1v1h-1zM15 85h1v1h-1zM29 85h1v1h-1zM41 85h1v1h-1zM9 86h1v1h-1zM16 86h1v1h-1zM11 87h1v1h-1zM14 87h1v1h-1zM17 87h1v1h-1zM9 88h1v1h-1zM27 88h1v1h-1zM35 89h2v1h-2zM38 89h1v1h-1zM3 90h2v1h-2zM12 91h1v1h-1zM38 91h1v1h-1zM45 91h1v1h-1zM13 92h2v1h-2zM47 92h1v1h-1zM20 93h1v1h-1zM13 94h1v1h-1zM28 94h2v1h-2zM18 95h1v1h-1zM49 95h1v1h-1zM29 96h1v1h-1zM32 96h2v1h-2zM43 96h2v1h-2zM25 97h1v1h-1zM35 97h1v1h-1zM37 97h1v1h-1zM41 97h1v1h-1zM43 97h1v1h-1zM25 98h2v1h-2zM39 98h1v1h-1zM9 99h1v1h-1zM24 99h1v1h-1zM29 99h1v1h-1zM44 99h1v1h-1zM11 100h1v1h-1zM41 100h1v1h-1zM6 101h2v1h-2zM30 101h1v1h-1zM50 101h1v1h-1zM27 102h1v1h-1zM31 102h1v1h-1zM33 102h1v1h-1zM35 102h1v1h-1zM38 102h1v1h-1zM48 102h1v1h-1zM30 103h1v1h-1zM33 103h1v1h-1zM41 103h1v1h-1zM44 103h1v1h-1zM50 103h1v1h-1zM15 104h1v1h-1zM32 104h1v1h-1zM34 104h2v1h-2zM49 104h1v1h-1zM23 106h1v1h-1zM25 106h1v1h-1zM27 106h1v1h-1zM34 106h1v1h-1zM39 106h1v1h-1zM2 107h1v1h-1zM13 107h1v1h-1zM15 107h1v1h-1zM9 108h1v1h-1zM41 108h1v1h-1zM6 109h1v1h-1zM9 109h1v1h-1zM11 109h1v1h-1zM14 109h1v1h-1zM23 109h1v1h-1zM41 109h1v1h-1zM46 109h1v1h-1zM49 109h1v1h-1z"/>
<path fill="#ef5e64" d="M21 1h1v1h-1zM36 1h1v1h-1zM40 1h1v1h-1zM1 2h1v1h-1zM28 2h1v1h-1zM29 3h1v1h-1zM31 3h1v1h-1zM21 4h2v1h-2zM43 4h1v1h-1zM0 5h1v1h-1zM7 5h2v1h-2zM30 5h1v1h-1zM38 5h1v1h-1zM40 5h1v1h-1zM44 5h1v1h-1zM13 6h1v1h-1zM32 6h1v1h-1zM27 7h1v1h-1zM31 7h1v1h-1zM42 7h1v1h-1zM9 8h1v1h-1zM12 8h1v1h-1zM17 8h1v1h-1zM38 8h1v1h-1zM29 9h1v1h-1zM31 9h1v1h-1zM37 9h1v1h-1zM22 10h1v1h-1zM1 11h1v1h-1zM5 11h1v1h-1zM9 12h1v1h-1zM48 13h1v1h-1zM24 15h1v1h-1zM29 15h1v1h-1zM37 16h1v1h-1zM23 17h1v1h-1zM16 18h3v1h-3zM15 19h1v1h-1zM22 20h1v1h-1zM9 21h1v1h-1zM30 22h1v1h-1zM49 22h1v1h-1zM9 23h1v1h-1zM23 23h1v1h-1zM39 23h1v1h-1zM20 24h2v1h-2zM36 24h1v1h-1zM11 25h1v1h-1zM21 25h1v1h-1zM4 26h1v1h-1zM17 26h1v1h-1zM28 27h1v1h-1zM47 27h1v1h-1zM6 28h2v1h-2zM13 28h1v1h-1zM41 28h2v1h-2zM7 29h1v1h-1zM10 29h1v1h-1zM47 29h1v1h-1zM27 31h1v1h-1zM29 31h1v1h-1zM45 31h1v1h-1zM8 32h1v1h-1zM13 32h1v1h-1zM15 32h1v1h-1zM16 34h1v1h-1zM29 34h1v1h-1zM9 35h1v1h-1zM16 35h1v1h-1zM28 35h1v1h-1zM2 36h1v1h-1zM42 36h1v1h-1zM48 36h1v1h-1zM8 37h1v1h-1zM17 37h1v1h-1zM20 38h1v1h-1zM23 38h1v1h-1zM15 39h2v1h-2zM11 41h2v1h-2zM17 41h1v1h-1zM44 41h1v1h-1zM27 42h1v1h-1zM33 42h1v1h-1zM3 43h1v1h-1zM13 43h2v1h-2zM16 43h1v1h-1zM24 43h1v1h-1zM2 44h1v1h-1zM8 44h1v1h-1zM12 44h1v1h-1zM26 44h1v1h-1zM33 44h1v1h-1zM17 45h1v1h-1zM23 45h1v1h-1zM16 46h1v1h-1zM32 46h1v1h-1zM35 46h1v1h-1zM1 47h1v1h-1zM23 47h1v1h-1zM23 48h1v1h-1zM17 49h1v1h-1zM19 49h1v1h-1zM12 50h1v1h-1zM16 51h1v1h-1zM19 51h2v1h-2zM28 51h1v1h-1zM6 52h1v1h-1zM22 52h1v1h-1zM18 53h1v1h-1zM4 54h1v1h-1zM24 54h1v1h-1zM24 55h1v1h-1zM47 55h1v1h-1zM2 56h1v1h-1zM14 57h1v1h-1zM16 57h2v1h-2zM19 57h1v1h-1zM49 57h1v1h-1zM38 58h1v1h-1zM5 59h1v1h-1zM17 59h1v1h-1zM9 60h1v1h-1zM40 60h1v1h-1zM44 60h1v1h-1zM4 61h1v1h-1zM22 61h2v1h-2zM8 62h1v1h-1zM22 62h1v1h-1zM31 62h1v1h-1zM1 63h1v1h-1zM24 63h1v1h-1zM4 64h2v1h-2zM9 64h1v1h-1zM16 64h1v1h-1zM5 65h1v1h-1zM48 66h1v1h-1zM1 67h1v1h-1zM3 67h1v1h-1zM22 67h1v1h-1zM40 67h1v1h-1zM32 68h1v1h-1zM6 70h1v1h-1zM24 70h1v1h-1zM27 71h1v1h-1zM32 71h1v1h-1zM35 71h1v1h-1zM21 72h1v1h-1zM27 72h1v1h-1zM21 73h1v1h-1zM4 74h1v1h-1zM9 74h1v1h-1zM16 74h1v1h-1zM23 74h1v1h-1zM26 74h1v1h-1zM31 74h2v1h-2zM5 75h1v1h-1zM7 75h1v1h-1zM13 75h1v1h-1zM20 75h1v1h-1zM16 76h1v1h-1zM14 77h1v1h-1zM24 77h1v1h-1zM46 77h1v1h-1zM19 78h1v1h-1zM28 78h1v1h-1zM38 78h1v1h-1zM4 80h1v1h-1zM20 80h1v1h-1zM24 80h1v1h-1zM37 80h1v1h-1zM39 80h1v1h-1zM10 81h1v1h-1zM23 82h1v1h-1zM30 82h1v1h-1zM7 83h1v1h-1zM14 83h1v1h-1zM24 83h1v1h-1zM3 84h3v1h-3zM20 84h2v1h-2zM23 84h1v1h-1zM5 86h1v1h-1zM30 86h1v1h-1zM24 87h1v1h-1zM8 88h1v1h-1zM16 88h2v1h-2zM28 88h1v1h-1zM38 88h1v1h-1zM16 89h1v1h-1zM48 89h1v1h-1zM29 90h1v1h-1zM45 90h1v1h-1zM44 91h1v1h-1zM50 91h1v1h-1zM5 92h1v1h-1zM46 92h1v1h-1zM1 93h1v1h-1zM49 93h1v1h-1zM36 94h1v1h-1zM42 94h1v1h-1zM9 95h1v1h-1zM33 95h1v1h-1zM9 96h1v1h-1zM26 96h1v1h-1zM48 96h1v1h-1zM28 97h2v1h-2zM45 97h1v1h-1zM31 98h2v1h-2zM45 98h1v1h-1zM25 100h1v1h-1zM29 100h3v1h-3zM35 100h1v1h-1zM40 100h1v1h-1zM46 100h1v1h-1zM5 101h1v1h-1zM31 101h1v1h-1zM33 101h3v1h-3zM26 102h1v1h-1zM25 103h1v1h-1zM35 103h2v1h-2zM49 103h1v1h-1zM26 104h1v1h-1zM33 104h1v1h-1zM32 105h1v1h-1zM37 105h1v1h-1zM14 106h1v1h-1zM31 106h1v1h-1zM38 106h1v1h-1zM41 106h1v1h-1zM1 107h1v1h-1zM8 107h1v1h-1zM12 107h1v1h-1zM17 107h1v1h-1zM20 107h1v1h-1zM23 107h1v1h-1zM26 108h1v1h-1zM34 108h1v1h-1zM37 108h1v1h-1zM40 108h1v1h-1zM1 109h1v1h-1zM5 109h1v1h-1zM26 109h1v1h-1zM37 109h1v1h-1z"/>
<path fill="#ed4e54" d="M44 0h1v1h-1zM34 1h1v1h-1zM19 3h1v1h-1zM45 3h1v1h-1zM29 5h1v1h-1zM23 7h1v1h-1zM45 7h1v1h-1zM10 8h1v1h-1zM15 8h1v1h-1zM22 8h1v1h-1zM36 10h2v1h-2zM5 12h1v1h-1zM20 12h1v1h-1zM22 12h1v1h-1zM5 13h1v1h-1zM27 13h1v1h-1zM2 15h1v1h-1zM3 16h1v1h-1zM7 16h1v1h-1zM10 16h1v1h-1zM26 18h1v1h-1zM43 18h1v1h-1zM8 19h1v1h-1zM6 22h1v1h-1zM35 22h1v1h-1zM3 24h1v1h-1zM24 24h1v1h-1zM35 24h1v1h-1zM16 26h1v1h-1zM21 26h1v1h-1zM5 27h1v1h-1zM21 27h1v1h-1zM35 28h1v1h-1zM6 29h1v1h-1zM12 29h1v1h-1zM45 29h1v1h-1zM30 31h1v1h-1zM7 32h1v1h-1zM16 32h1v1h-1zM10 33h1v1h-1zM28 34h1v1h-1zM17 35h1v1h-1zM21 36h1v1h-1zM34 36h1v1h-1zM22 38h1v1h-1zM34 39h1v1h-1zM39 39h1v1h-1zM24 40h1v1h-1zM40 40h1v1h-1zM42 40h1v1h-1zM2 41h1v1h-1zM8 41h1v1h-1zM21 42h1v1h-1zM8 43h1v1h-1zM11 44h1v1h-1zM37 46h1v1h-1zM18 48h1v1h-1zM41 48h1v1h-1zM2 49h1v1h-1zM4 49h1v1h-1zM20 49h1v1h-1zM27 50h1v1h-1zM32 50h1v1h-1zM2 51h1v1h-1zM12 52h1v1h-1zM19 53h2v1h-2zM20 55h1v1h-1zM12 57h1v1h-1zM20 57h1v1h-1zM50 58h1v1h-1zM7 59h1v1h-1zM26 60h1v1h-1zM30 62h1v1h-1zM14 65h1v1h-1zM1 66h1v1h-1zM23 66h1v1h-1zM14 67h1v1h-1zM11 68h1v1h-1zM13 69h1v1h-1zM12 71h1v1h-1zM24 71h1v1h-1zM5 72h1v1h-1zM20 74h1v1h-1zM6 75h1v1h-1zM14 75h1v1h-1zM29 75h1v1h-1zM21 76h1v1h-1zM24 76h1v1h-1zM33 76h1v1h-1zM8 77h1v1h-1zM12 78h1v1h-1zM29 79h1v1h-1zM44 79h1v1h-1zM7 81h1v1h-1zM11 81h1v1h-1zM11 82h1v1h-1zM14 82h1v1h-1zM30 83h1v1h-1zM17 85h1v1h-1zM26 85h1v1h-1zM0 88h1v1h-1zM7 88h1v1h-1zM40 89h1v1h-1zM8 90h1v1h-1zM43 90h1v1h-1zM14 91h1v1h-1zM48 91h2v1h-2zM29 92h1v1h-1zM43 92h1v1h-1zM6 93h1v1h-1zM11 93h1v1h-1zM41 94h1v1h-1zM10 95h1v1h-1zM25 95h1v1h-1zM35 95h1v1h-1zM45 95h1v1h-1zM50 95h1v1h-1zM31 96h1v1h-1zM50 96h1v1h-1zM24 97h1v1h-1zM39 97h1v1h-1zM47 97h1v1h-1zM6 99h1v1h-1zM31 99h1v1h-1zM33 100h2v1h-2zM37 100h1v1h-1zM25 101h1v1h-1zM25 102h1v1h-1zM32 102h1v1h-1zM47 102h1v1h-1zM28 103h1v1h-1zM32 103h1v1h-1zM42 103h1v1h-1zM9 104h1v1h-1zM16 104h1v1h-1zM4 105h1v1h-1zM16 105h1v1h-1zM29 105h1v1h-1zM34 105h1v1h-1zM26 106h1v1h-1zM29 106h1v1h-1zM36 106h1v1h-1zM6 107h1v1h-1zM48 107h1v1h-1zM46 108h1v1h-1zM50 108h1v1h-1zM10 109h1v1h-1zM27 109h1v1h-1zM35 109h1v1h-1z"/>
<path fill="#eb3e45" d="M43 0h1v1h-1zM32 1h1v1h-1zM35 3h1v1h-1zM2 6h1v1h-1zM44 6h1v1h-1zM7 9h1v1h-1zM42 9h1v1h-1zM16 11h1v1h-1zM11 14h1v1h-1zM48 15h1v1h-1zM36 16h1v1h-1zM19 19h1v1h-1zM23 19h1v1h-1zM47 22h1v1h-1zM12 23h1v1h-1zM22 24h1v1h-1zM20 25h1v1h-1zM36 26h1v1h-1zM2 27h1v1h-1zM5 28h1v1h-1zM8 28h1v1h-1zM15 28h1v1h-1zM26 30h1v1h-1zM31 31h1v1h-1zM23 33h1v1h-1zM27 34h1v1h-1zM44 34h1v1h-1zM22 35h1v1h-1zM6 38h1v1h-1zM17 38h1v1h-1zM9 41h1v1h-1zM10 43h1v1h-1zM23 44h1v1h-1zM21 45h1v1h-1zM18 47h1v1h-1zM13 49h1v1h-1zM31 50h1v1h-1zM37 50h1v1h-1zM11 52h1v1h-1zM46 53h1v1h-1zM4 56h1v1h-1zM3 61h1v1h-1zM7 61h1v1h-1zM9 61h1v1h-1zM10 62h1v1h-1zM12 63h1v1h-1zM22 63h1v1h-1zM15 64h1v1h-1zM19 64h1v1h-1zM45 64h1v1h-1zM1 65h1v1h-1zM6 65h1v1h-1zM4 67h1v1h-1zM7 68h1v1h-1zM37 68h1v1h-1zM6 69h1v1h-1zM20 70h1v1h-1zM20 73h1v1h-1zM22 78h1v1h-1zM15 81h2v1h-2zM5 82h1v1h-1zM29 83h1v1h-1zM4 87h1v1h-1zM16 87h1v1h-1zM21 89h1v1h-1zM9 90h1v1h-1zM10 91h1v1h-1zM41 91h1v1h-1zM44 92h1v1h-1zM40 94h1v1h-1zM2 95h1v1h-1zM43 95h1v1h-1zM30 99h1v1h-1zM29 101h1v1h-1zM32 101h1v1h-1zM28 102h1v1h-1zM34 102h1v1h-1zM39 103h1v1h-1zM36 104h1v1h-1zM43 104h1v1h-1zM30 105h1v1h-1zM33 105h1v1h-1zM43 105h1v1h-1zM30 106h1v1h-1zM18 107h2v1h-2zM25 108h1v1h-1zM28 109h2v1h-2z"/>
<path fill="#ea2e35" d="M33 7h1v1h-1zM18 19h1v1h-1zM19 28h1v1h-1zM11 29h1v1h-1zM21 40h1v1h-1zM14 41h1v1h-1zM17 53h1v1h-1zM41 53h1v1h-1zM11 55h1v1h-1zM10 67h1v1h-1zM0 69h1v1h-1zM17 77h1v1h-1zM40 79h1v1h-1zM10 82h1v1h-1zM13 83h1v1h-1zM44 83h1v1h-1zM40 91h1v1h-1zM26 95h1v1h-1zM26 100h1v1h-1z"/>
<path fill="#e81e26" d="M43 1h1v1h-1zM38 16h1v1h-1zM19 31h1v1h-1zM32 31h1v1h-1zM0 35h1v1h-1zM38 44h1v1h-1zM21 47h1v1h-1zM39 59h1v1h-1zM42 59h1v1h-1zM14 62h1v1h-1zM12 65h1v1h-1zM24 74h1v1h-1zM17 84h1v1h-1zM0 93h1v1h-1zM21 95h1v1h-1z"/>
<path fill="#e81e26" d="M0 13h1v1h-1zM4 20h1v1h-1zM50 35h1v1h-1zM10 64h1v1h-1zM49 96h1v1h-1zM0 97h1v1h-1zM30 108h1v1h-1z"/>
<path fill="#e81e26" d="M0 17h1v1h-1zM0 19h1v1h-1zM0 29h1v1h-1zM34 44h1v1h-1zM0 63h1v1h-1zM0 106h1v1h-1z"/>
</g></g>
<g filter="url(#hb)"><rect x="25.8" y="325.8" width="2.3" height="2.4" fill="#a05070"/><rect x="25.8" y="328.15" width="2.3" height="2.4" fill="#503060"/><rect x="25.8" y="330.51" width="2.3" height="2.4" fill="#6a3050"/><rect x="25.8" y="332.86" width="2.3" height="2.4" fill="#503060"/><rect x="25.8" y="335.22" width="2.3" height="2.4" fill="#7a4a6a"/><rect x="25.8" y="337.57" width="2.3" height="2.4" fill="#8a4060"/><rect x="25.8" y="339.93" width="2.3" height="2.4" fill="#503060"/><rect x="25.8" y="342.28" width="2.3" height="2.4" fill="#8a4060"/><rect x="25.8" y="344.63" width="2.3" height="2.4" fill="#a05070"/><rect x="25.8" y="346.99" width="2.3" height="2.4" fill="#503060"/><rect x="25.8" y="349.34" width="2.3" height="2.4" fill="#7a4a6a"/><rect x="25.8" y="351.7" width="2.3" height="2.4" fill="#8a4060"/><rect x="25.8" y="354.05" width="2.3" height="2.4" fill="#d8a0b0"/><rect x="25.8" y="356.41" width="2.3" height="2.4" fill="#c08090"/><rect x="25.8" y="358.76" width="2.3" height="2.4" fill="#a05070"/><rect x="25.8" y="361.11" width="2.3" height="2.4" fill="#7a4a6a"/><rect x="25.8" y="363.47" width="2.3" height="2.4" fill="#8a4060"/><rect x="25.8" y="365.82" width="2.3" height="2.4" fill="#a05070"/><rect x="25.8" y="368.18" width="2.3" height="2.4" fill="#c08090"/><rect x="25.8" y="370.53" width="2.3" height="2.4" fill="#6a3050"/><rect x="25.8" y="372.89" width="2.3" height="2.4" fill="#6a3050"/><rect x="25.8" y="375.24" width="2.3" height="2.4" fill="#8a4060"/><rect x="25.8" y="377.59" width="2.3" height="2.4" fill="#503060"/><rect x="25.8" y="379.95" width="2.3" height="2.4" fill="#c08090"/><rect x="25.8" y="382.3" width="2.3" height="2.4" fill="#503060"/><rect x="25.8" y="384.66" width="2.3" height="2.4" fill="#d8a0b0"/><rect x="25.8" y="387.01" width="2.3" height="2.4" fill="#7a4a6a"/><rect x="25.8" y="389.37" width="2.3" height="2.4" fill="#c08090"/><rect x="25.8" y="391.72" width="2.3" height="2.4" fill="#8a4060"/><rect x="25.8" y="394.07" width="2.3" height="2.4" fill="#a05070"/><rect x="25.8" y="396.43" width="2.3" height="2.4" fill="#d8a0b0"/><rect x="25.8" y="398.78" width="2.3" height="2.4" fill="#6a3050"/><rect x="25.8" y="401.14" width="2.3" height="2.4" fill="#503060"/><rect x="25.8" y="403.49" width="2.3" height="2.4" fill="#7a4a6a"/><rect x="25.8" y="405.85" width="2.3" height="2.4" fill="#8a4060"/><rect x="25.8" y="408.2" width="2.3" height="2.4" fill="#c08090"/><rect x="25.8" y="410.55" width="2.3" height="2.4" fill="#d8a0b0"/><rect x="25.8" y="412.91" width="2.3" height="2.4" fill="#7a4a6a"/><rect x="25.8" y="415.26" width="2.3" height="2.4" fill="#6a3050"/><rect x="25.8" y="417.62" width="2.3" height="2.4" fill="#8a4060"/><rect x="25.8" y="419.97" width="2.3" height="2.4" fill="#503060"/><rect x="25.8" y="422.33" width="2.3" height="2.4" fill="#7a4a6a"/><rect x="25.8" y="424.68" width="2.3" height="2.4" fill="#503060"/><rect x="25.8" y="427.03" width="2.3" height="2.4" fill="#6a3050"/><rect x="25.8" y="429.39" width="2.3" height="2.4" fill="#7a4a6a"/><rect x="25.8" y="431.74" width="2.3" height="2.4" fill="#503060"/><rect x="25.8" y="434.1" width="2.3" height="2.4" fill="#8a4060"/><rect x="25.8" y="436.45" width="2.3" height="2.4" fill="#8a4060"/><rect x="25.8" y="438.81" width="2.3" height="2.4" fill="#a05070"/><rect x="25.8" y="441.16" width="2.3" height="2.4" fill="#503060"/><rect x="25.8" y="443.51" width="2.3" height="2.4" fill="#a05070"/><rect x="25.8" y="445.87" width="2.3" height="2.4" fill="#6a3050"/><rect x="25.8" y="448.22" width="2.3" height="2.4" fill="#a05070"/><rect x="25.8" y="450.58" width="2.3" height="2.4" fill="#d8a0b0"/><rect x="25.8" y="452.93" width="2.3" height="2.4" fill="#503060"/><rect x="25.8" y="455.29" width="2.3" height="2.4" fill="#d8a0b0"/><rect x="25.8" y="457.64" width="2.3" height="2.4" fill="#7a4a6a"/><rect x="25.8" y="459.99" width="2.3" height="2.4" fill="#7a4a6a"/><rect x="25.8" y="462.35" width="2.3" height="2.4" fill="#503060"/><rect x="25.8" y="464.7" width="2.3" height="2.4" fill="#a05070"/><rect x="25.8" y="467.06" width="2.3" height="2.4" fill="#8a4060"/><rect x="25.8" y="469.41" width="2.3" height="2.4" fill="#7a4a6a"/><rect x="25.8" y="471.77" width="2.3" height="2.4" fill="#8a4060"/><rect x="25.8" y="474.12" width="2.3" height="2.4" fill="#a05070"/><rect x="25.8" y="476.47" width="2.3" height="2.4" fill="#7a4a6a"/><rect x="25.8" y="478.83" width="2.3" height="2.4" fill="#8a4060"/><rect x="25.8" y="481.18" width="2.3" height="2.4" fill="#503060"/><rect x="25.8" y="483.54" width="2.3" height="2.4" fill="#7a4a6a"/><rect x="25.8" y="485.89" width="2.3" height="2.4" fill="#d8a0b0"/><rect x="25.8" y="488.25" width="2.3" height="2.4" fill="#6a3050"/></g>
<path d="M31.26 322V320.24H34.9V322M38.54 322V320.34H42.19V322M33.08 320.24V318.6H40.36V320.34M45.83 322V320.97H49.47V322M47.65 320.97V320.37H53.11V322M56.75 322V321.2H60.39V322M64.03 322V321.2H67.67V322M65.85 321.2V321.2H71.31V322M58.57 321.2V321.2H68.58V321.2M78.6 322V321.2H82.24V322M74.96 322V321.2H80.42V321.2M85.88 322V321.2H89.52V322M77.69 321.2V321.2H87.7V321.2M63.58 321.2V320.86H82.69V321.2M50.38 320.37V319.44H73.14V320.86M93.16 322V321.2H96.8V322M94.98 321.2V321.2H100.44V322M97.71 321.2V320.61H104.09V322M111.37 322V321.2H115.01V322M107.73 322V320.99H113.19V321.2M100.9 320.61V320.01H110.46V320.99M61.76 319.44V318H105.68V320.01M36.72 318.6V317H83.72V318M27.62 322V314.4H60.22V317M125.93 322V320.48H129.57V322M122.29 322V318.8H127.75V320.48M136.86 322V321.2H140.5V322M133.21 322V321.2H138.68V321.2M147.78 322V321.2H151.42V322M144.14 322V321.2H149.6V321.2M146.87 321.2V321.2H155.06V322M135.95 321.2V320.91H150.97V321.2M158.7 322V320.9H162.34V322M165.99 322V321.2H169.63V322M173.27 322V321.2H176.91V322M167.81 321.2V321.03H175.09V321.2M160.52 320.9V320.43H171.45V321.03M143.46 320.91V319.63H165.99V320.43M184.19 322V321.2H187.83V322M180.55 322V321.07H186.01V321.2M191.47 322V321.2H195.11V322M193.29 321.2V321.2H198.76V322M206.04 322V321.2H209.68V322M202.4 322V321.2H207.86V321.2M196.03 321.2V320.95H205.13V321.2M183.28 321.07V320.21H200.58V320.95M154.72 319.63V318.2H191.93V320.21M125.02 318.8V316.6H173.32V318.2M43.92 314.4V309.6H149.17V316.6M118.65 322V309.6" fill="none" stroke="#444" stroke-width="0.6"/>
<text x="1.6" y="17" font-size="16.5" font-weight="bold">A</text>
<rect x="54.8" y="15.4" width="187.7" height="187" fill="none" stroke="#5a5a5a" stroke-width="1.2"/>
<line x1="50.9" y1="21.8" x2="54.8" y2="21.8" stroke="#5a5a5a" stroke-width="1.2"/>
<text x="46.6" y="26.4" font-size="13" text-anchor="end">0.95</text>
<line x1="50.9" y1="108.8" x2="54.8" y2="108.8" stroke="#5a5a5a" stroke-width="1.2"/>
<text x="46.6" y="113.4" font-size="13" text-anchor="end">0.94</text>
<line x1="50.9" y1="195.8" x2="54.8" y2="195.8" stroke="#5a5a5a" stroke-width="1.2"/>
<text x="46.6" y="200.4" font-size="13" text-anchor="end">0.93</text>
<text x="13.2" y="116.4" font-size="13.2" text-anchor="middle" transform="rotate(-90 13.2 116.4)">Motif diversity score</text>
<line x1="105.2" y1="202.4" x2="105.2" y2="206.2" stroke="#5a5a5a" stroke-width="1.2"/>
<line x1="191.8" y1="202.4" x2="191.8" y2="206.2" stroke="#5a5a5a" stroke-width="1.2"/>
<text x="105.2" y="222.2" font-size="13" text-anchor="middle">Shared</text>
<text x="105.2" y="237.5" font-size="13" text-anchor="middle">sequences</text>
<text x="191.8" y="222.2" font-size="13" text-anchor="middle">Donor-specific</text>
<text x="191.8" y="237.5" font-size="13" text-anchor="middle">sequences</text>
<text x="109" y="43.8" font-size="13"><tspan font-style="italic">P</tspan> value = 0.0009</text>
<g stroke="#111" stroke-width="0.9">
<line x1="104.9" y1="53.5" x2="191.9" y2="70.8"/>
<line x1="104.9" y1="59.6" x2="191.9" y2="72.7"/>
<line x1="104.9" y1="68.7" x2="191.9" y2="76.9"/>
<line x1="104.9" y1="70.6" x2="191.9" y2="94.8"/>
<line x1="104.9" y1="75" x2="191.9" y2="76.9"/>
<line x1="104.9" y1="72.7" x2="191.9" y2="143.7"/>
<line x1="104.9" y1="81.3" x2="191.9" y2="82.7"/>
<line x1="104.9" y1="83.7" x2="191.9" y2="101.9"/>
<line x1="104.9" y1="79.2" x2="191.9" y2="129.2"/>
<line x1="104.9" y1="85.8" x2="191.9" y2="94.8"/>
<line x1="104.9" y1="79.2" x2="191.9" y2="80.8"/>
<line x1="104.9" y1="87.9" x2="191.9" y2="125.6"/>
<line x1="104.9" y1="90" x2="191.9" y2="192.5"/>
</g><g fill="#000">
<circle cx="104.9" cy="53.5" r="1.9"/><circle cx="191.9" cy="70.8" r="1.9"/>
<circle cx="104.9" cy="59.6" r="1.9"/><circle cx="191.9" cy="72.7" r="1.9"/>
<circle cx="104.9" cy="68.7" r="1.9"/><circle cx="191.9" cy="76.9" r="1.9"/>
<circle cx="104.9" cy="70.6" r="1.9"/><circle cx="191.9" cy="94.8" r="1.9"/>
<circle cx="104.9" cy="75.0" r="1.9"/><circle cx="191.9" cy="76.9" r="1.9"/>
<circle cx="104.9" cy="72.7" r="1.9"/><circle cx="191.9" cy="143.7" r="1.9"/>
<circle cx="104.9" cy="81.3" r="1.9"/><circle cx="191.9" cy="82.7" r="1.9"/>
<circle cx="104.9" cy="83.7" r="1.9"/><circle cx="191.9" cy="101.9" r="1.9"/>
<circle cx="104.9" cy="79.2" r="1.9"/><circle cx="191.9" cy="129.2" r="1.9"/>
<circle cx="104.9" cy="85.8" r="1.9"/><circle cx="191.9" cy="94.8" r="1.9"/>
<circle cx="104.9" cy="79.2" r="1.9"/><circle cx="191.9" cy="80.8" r="1.9"/>
<circle cx="104.9" cy="87.9" r="1.9"/><circle cx="191.9" cy="125.6" r="1.9"/>
<circle cx="104.9" cy="90.0" r="1.9"/><circle cx="191.9" cy="192.5" r="1.9"/>
</g>
<text x="0" y="538.7" font-size="16.5" font-weight="bold">E</text>
<rect x="62.3" y="537.3" width="188" height="187.9" fill="none" stroke="#5a5a5a" stroke-width="1.2"/>
<line x1="58.3" y1="559.9" x2="62.3" y2="559.9" stroke="#5a5a5a" stroke-width="1.2"/>
<text x="53.5" y="564.5" font-size="13" text-anchor="end">0.95</text>
<line x1="58.3" y1="638.2" x2="62.3" y2="638.2" stroke="#5a5a5a" stroke-width="1.2"/>
<text x="53.5" y="642.8" font-size="13" text-anchor="end">0.945</text>
<line x1="58.3" y1="716.5" x2="62.3" y2="716.5" stroke="#5a5a5a" stroke-width="1.2"/>
<text x="53.5" y="721.1" font-size="13" text-anchor="end">0.94</text>
<text x="11.4" y="632" font-size="13" text-anchor="middle" transform="rotate(-90 11.4 632)">Motif diversity score</text>
<line x1="112.8" y1="725.2" x2="112.8" y2="729.2" stroke="#5a5a5a" stroke-width="1.2"/>
<line x1="199.5" y1="725.2" x2="199.5" y2="729.2" stroke="#5a5a5a" stroke-width="1.2"/>
<text x="112.8" y="744.6" font-size="13" text-anchor="middle">Shared</text>
<text x="112.8" y="759.2" font-size="13" text-anchor="middle">sequences</text>
<text x="199.5" y="744.8" font-size="13" text-anchor="middle">Fetal-specific</text>
<text x="199.5" y="759.6" font-size="13" text-anchor="middle">sequences</text>
<text x="135.2" y="550.9" font-size="13"><tspan font-style="italic">P</tspan> value &lt; 0.0001</text>
<g stroke="#111" stroke-width="0.9">
<line x1="112.7" y1="544.4" x2="199.5" y2="579.2"/>
<line x1="112.7" y1="564" x2="199.5" y2="642.7"/>
<line x1="112.7" y1="576" x2="199.5" y2="636.4"/>
<line x1="112.7" y1="577.5" x2="199.5" y2="663.3"/>
<line x1="112.7" y1="579" x2="199.5" y2="644.7"/>
<line x1="112.7" y1="580.5" x2="199.5" y2="669.2"/>
<line x1="112.7" y1="582" x2="199.5" y2="647"/>
<line x1="112.7" y1="583.5" x2="199.5" y2="675.1"/>
<line x1="112.7" y1="585" x2="199.5" y2="660.4"/>
<line x1="112.7" y1="586.3" x2="199.5" y2="680"/>
<line x1="112.7" y1="596" x2="199.5" y2="614.2"/>
<line x1="112.7" y1="599" x2="199.5" y2="629"/>
<line x1="112.7" y1="606.7" x2="199.5" y2="637.8"/>
<line x1="112.7" y1="608" x2="199.5" y2="666.3"/>
<line x1="112.7" y1="609.5" x2="199.5" y2="683"/>
<line x1="112.7" y1="611.4" x2="199.5" y2="622.5"/>
<line x1="112.7" y1="616.2" x2="199.5" y2="685.9"/>
<line x1="112.7" y1="617.5" x2="199.5" y2="602"/>
<line x1="112.7" y1="619" x2="199.5" y2="649"/>
<line x1="112.7" y1="620.5" x2="199.5" y2="688.5"/>
<line x1="112.7" y1="622.5" x2="199.5" y2="691.2"/>
<line x1="112.7" y1="624" x2="199.5" y2="672.2"/>
<line x1="112.7" y1="626" x2="199.5" y2="694.4"/>
<line x1="112.7" y1="628" x2="199.5" y2="663.3"/>
<line x1="112.7" y1="630.9" x2="199.5" y2="717.4"/>
<line x1="112.7" y1="636.1" x2="199.5" y2="685.9"/>
<line x1="112.7" y1="647.4" x2="199.5" y2="644.7"/>
</g><g fill="#000">
<circle cx="112.7" cy="544.4" r="1.6"/><circle cx="199.5" cy="579.2" r="1.6"/>
<circle cx="112.7" cy="564" r="1.6"/><circle cx="199.5" cy="642.7" r="1.6"/>
<circle cx="112.7" cy="576" r="1.6"/><circle cx="199.5" cy="636.4" r="1.6"/>
<circle cx="112.7" cy="577.5" r="1.6"/><circle cx="199.5" cy="663.3" r="1.6"/>
<circle cx="112.7" cy="579" r="1.6"/><circle cx="199.5" cy="644.7" r="1.6"/>
<circle cx="112.7" cy="580.5" r="1.6"/><circle cx="199.5" cy="669.2" r="1.6"/>
<circle cx="112.7" cy="582" r="1.6"/><circle cx="199.5" cy="647" r="1.6"/>
<circle cx="112.7" cy="583.5" r="1.6"/><circle cx="199.5" cy="675.1" r="1.6"/>
<circle cx="112.7" cy="585" r="1.6"/><circle cx="199.5" cy="660.4" r="1.6"/>
<circle cx="112.7" cy="586.3" r="1.6"/><circle cx="199.5" cy="680" r="1.6"/>
<circle cx="112.7" cy="596" r="1.6"/><circle cx="199.5" cy="614.2" r="1.6"/>
<circle cx="112.7" cy="599" r="1.6"/><circle cx="199.5" cy="629" r="1.6"/>
<circle cx="112.7" cy="606.7" r="1.6"/><circle cx="199.5" cy="637.8" r="1.6"/>
<circle cx="112.7" cy="608" r="1.6"/><circle cx="199.5" cy="666.3" r="1.6"/>
<circle cx="112.7" cy="609.5" r="1.6"/><circle cx="199.5" cy="683" r="1.6"/>
<circle cx="112.7" cy="611.4" r="1.6"/><circle cx="199.5" cy="622.5" r="1.6"/>
<circle cx="112.7" cy="616.2" r="1.6"/><circle cx="199.5" cy="685.9" r="1.6"/>
<circle cx="112.7" cy="617.5" r="1.6"/><circle cx="199.5" cy="602" r="1.6"/>
<circle cx="112.7" cy="619" r="1.6"/><circle cx="199.5" cy="649" r="1.6"/>
<circle cx="112.7" cy="620.5" r="1.6"/><circle cx="199.5" cy="688.5" r="1.6"/>
<circle cx="112.7" cy="622.5" r="1.6"/><circle cx="199.5" cy="691.2" r="1.6"/>
<circle cx="112.7" cy="624" r="1.6"/><circle cx="199.5" cy="672.2" r="1.6"/>
<circle cx="112.7" cy="626" r="1.6"/><circle cx="199.5" cy="694.4" r="1.6"/>
<circle cx="112.7" cy="628" r="1.6"/><circle cx="199.5" cy="663.3" r="1.6"/>
<circle cx="112.7" cy="630.9" r="1.6"/><circle cx="199.5" cy="717.4" r="1.6"/>
<circle cx="112.7" cy="636.1" r="1.6"/><circle cx="199.5" cy="685.9" r="1.6"/>
<circle cx="112.7" cy="647.4" r="1.6"/><circle cx="199.5" cy="644.7" r="1.6"/>
</g>
<text x="280.1" y="273.9" font-size="16.5" font-weight="bold">D</text>
<rect x="327.6" y="273.8" width="187.2" height="187.7" fill="none" stroke="#5a5a5a" stroke-width="1.2"/>
<line x1="323.6" y1="284.05" x2="327.6" y2="284.05" stroke="#5a5a5a" stroke-width="1.2"/>
<text x="319.6" y="288.65" font-size="13" text-anchor="end">2</text>
<line x1="323.6" y1="346.25" x2="327.6" y2="346.25" stroke="#5a5a5a" stroke-width="1.2"/>
<text x="319.6" y="350.85" font-size="13" text-anchor="end">1</text>
<line x1="323.6" y1="408.45" x2="327.6" y2="408.45" stroke="#5a5a5a" stroke-width="1.2"/>
<text x="319.6" y="413.05" font-size="13" text-anchor="end">0.5</text>
<text x="292.4" y="368.6" font-size="13" text-anchor="middle" transform="rotate(-90 292.4 368.6)">Motif frequency (%)</text>
<line x1="350.8" y1="461.5" x2="350.8" y2="465.8" stroke="#5a5a5a" stroke-width="1.2"/>
<text x="355.4" y="470.8" font-size="13" text-anchor="end" transform="rotate(-90 355.4 470.8)">CCCA</text>
<line x1="381.2" y1="461.5" x2="381.2" y2="465.8" stroke="#5a5a5a" stroke-width="1.2"/>
<text x="385.8" y="470.8" font-size="13" text-anchor="end" transform="rotate(-90 385.8 470.8)">CCAA</text>
<line x1="411.6" y1="461.5" x2="411.6" y2="465.8" stroke="#5a5a5a" stroke-width="1.2"/>
<text x="416.2" y="470.8" font-size="13" text-anchor="end" transform="rotate(-90 416.2 470.8)">CAAA</text>
<line x1="441.9" y1="461.5" x2="441.9" y2="465.8" stroke="#5a5a5a" stroke-width="1.2"/>
<text x="446.5" y="470.8" font-size="13" text-anchor="end" transform="rotate(-90 446.5 470.8)">ACTT</text>
<line x1="472.2" y1="461.5" x2="472.2" y2="465.8" stroke="#5a5a5a" stroke-width="1.2"/>
<text x="476.8" y="470.8" font-size="13" text-anchor="end" transform="rotate(-90 476.8 470.8)">ACCT</text>
<line x1="502.5" y1="461.5" x2="502.5" y2="465.8" stroke="#5a5a5a" stroke-width="1.2"/>
<text x="507.1" y="470.8" font-size="13" text-anchor="end" transform="rotate(-90 507.1 470.8)">CTGG</text>
<line x1="327.6" y1="431" x2="514.8" y2="431" stroke="#333" stroke-width="0.9" stroke-dasharray="1.5 1.5"/>
<g stroke="#222" stroke-width="0.8" stroke-dasharray="1.2 1.2"><line x1="344.95" y1="282.2" x2="344.95" y2="286"/><line x1="344.95" y1="292.6" x2="344.95" y2="300.4"/></g>
<g stroke="#222" stroke-width="0.9"><line x1="342.75" y1="282.2" x2="347.15" y2="282.2"/><line x1="342.75" y1="300.4" x2="347.15" y2="300.4"/></g>
<rect x="340.5" y="286" width="8.9" height="6.6" fill="#2f4896" stroke="#1c2a5c" stroke-width="0.8"/>
<line x1="340.5" y1="289.1" x2="349.4" y2="289.1" stroke="#1c2a5c" stroke-width="1"/>
<g stroke="#222" stroke-width="0.8" stroke-dasharray="1.2 1.2"><line x1="356.2" y1="280.8" x2="356.2" y2="283.1"/><line x1="356.2" y1="289.7" x2="356.2" y2="298.4"/></g>
<g stroke="#222" stroke-width="0.9"><line x1="354" y1="280.8" x2="358.4" y2="280.8"/><line x1="354" y1="298.4" x2="358.4" y2="298.4"/></g>
<rect x="351.7" y="283.1" width="9" height="6.6" fill="#de2029" stroke="#7a1016" stroke-width="0.8"/>
<line x1="351.7" y1="286.5" x2="360.7" y2="286.5" stroke="#7a1016" stroke-width="1"/>
<g stroke="#222" stroke-width="0.8" stroke-dasharray="1.2 1.2"><line x1="375.4" y1="312.8" x2="375.4" y2="317.5"/><line x1="375.4" y1="323.3" x2="375.4" y2="332"/></g>
<g stroke="#222" stroke-width="0.9"><line x1="373.2" y1="312.8" x2="377.6" y2="312.8"/><line x1="373.2" y1="332" x2="377.6" y2="332"/></g>
<rect x="370.8" y="317.5" width="9.2" height="5.8" fill="#2f4896" stroke="#1c2a5c" stroke-width="0.8"/>
<line x1="370.8" y1="320.3" x2="380" y2="320.3" stroke="#1c2a5c" stroke-width="1"/>
<g stroke="#222" stroke-width="0.8" stroke-dasharray="1.2 1.2"><line x1="386.95" y1="308.2" x2="386.95" y2="313.5"/><line x1="386.95" y1="319" x2="386.95" y2="324.8"/></g>
<g stroke="#222" stroke-width="0.9"><line x1="384.75" y1="308.2" x2="389.15" y2="308.2"/><line x1="384.75" y1="324.8" x2="389.15" y2="324.8"/></g>
<rect x="382.5" y="313.5" width="8.9" height="5.5" fill="#de2029" stroke="#7a1016" stroke-width="0.8"/>
<line x1="382.5" y1="316.4" x2="391.4" y2="316.4" stroke="#7a1016" stroke-width="1"/>
<g stroke="#222" stroke-width="0.8" stroke-dasharray="1.2 1.2"><line x1="406.15" y1="327.3" x2="406.15" y2="329.8"/><line x1="406.15" y1="339.6" x2="406.15" y2="349.8"/></g>
<g stroke="#222" stroke-width="0.9"><line x1="403.95" y1="327.3" x2="408.35" y2="327.3"/><line x1="403.95" y1="349.8" x2="408.35" y2="349.8"/></g>
<rect x="401.5" y="329.8" width="9.3" height="9.8" fill="#2f4896" stroke="#1c2a5c" stroke-width="0.8"/>
<line x1="401.5" y1="334.5" x2="410.8" y2="334.5" stroke="#1c2a5c" stroke-width="1"/>
<g stroke="#222" stroke-width="0.8" stroke-dasharray="1.2 1.2"><line x1="416.9" y1="318" x2="416.9" y2="322"/><line x1="416.9" y1="331.3" x2="416.9" y2="334"/></g>
<g stroke="#222" stroke-width="0.9"><line x1="414.7" y1="318" x2="419.1" y2="318"/><line x1="414.7" y1="334" x2="419.1" y2="334"/></g>
<rect x="412.3" y="322" width="9.2" height="9.3" fill="#de2029" stroke="#7a1016" stroke-width="0.8"/>
<line x1="412.3" y1="326.8" x2="421.5" y2="326.8" stroke="#7a1016" stroke-width="1"/>
<g stroke="#222" stroke-width="0.8" stroke-dasharray="1.2 1.2"><line x1="436.7" y1="397.3" x2="436.7" y2="404.4"/><line x1="436.7" y1="415" x2="436.7" y2="423.8"/></g>
<g stroke="#222" stroke-width="0.9"><line x1="434.5" y1="397.3" x2="438.9" y2="397.3"/><line x1="434.5" y1="423.8" x2="438.9" y2="423.8"/></g>
<rect x="431.9" y="404.4" width="9.6" height="10.6" fill="#2f4896" stroke="#1c2a5c" stroke-width="0.8"/>
<line x1="431.9" y1="410.4" x2="441.5" y2="410.4" stroke="#1c2a5c" stroke-width="1"/>
<g stroke="#222" stroke-width="0.8" stroke-dasharray="1.2 1.2"><line x1="447.5" y1="411" x2="447.5" y2="416.5"/><line x1="447.5" y1="426.5" x2="447.5" y2="436.7"/></g>
<g stroke="#222" stroke-width="0.9"><line x1="445.3" y1="411" x2="449.7" y2="411"/><line x1="445.3" y1="436.7" x2="449.7" y2="436.7"/></g>
<rect x="443" y="416.5" width="9" height="10" fill="#de2029" stroke="#7a1016" stroke-width="0.8"/>
<line x1="443" y1="421" x2="452" y2="421" stroke="#7a1016" stroke-width="1"/>
<g stroke="#222" stroke-width="0.8" stroke-dasharray="1.2 1.2"><line x1="466.9" y1="400.8" x2="466.9" y2="407.3"/><line x1="466.9" y1="413.7" x2="466.9" y2="420.8"/></g>
<g stroke="#222" stroke-width="0.9"><line x1="464.7" y1="400.8" x2="469.1" y2="400.8"/><line x1="464.7" y1="420.8" x2="469.1" y2="420.8"/></g>
<rect x="462.3" y="407.3" width="9.2" height="6.4" fill="#2f4896" stroke="#1c2a5c" stroke-width="0.8"/>
<line x1="462.3" y1="410.4" x2="471.5" y2="410.4" stroke="#1c2a5c" stroke-width="1"/>
<g stroke="#222" stroke-width="0.8" stroke-dasharray="1.2 1.2"><line x1="478" y1="401.5" x2="478" y2="413.7"/><line x1="478" y1="423.3" x2="478" y2="436.7"/></g>
<g stroke="#222" stroke-width="0.9"><line x1="475.8" y1="401.5" x2="480.2" y2="401.5"/><line x1="475.8" y1="436.7" x2="480.2" y2="436.7"/></g>
<rect x="473.5" y="413.7" width="9" height="9.6" fill="#de2029" stroke="#7a1016" stroke-width="0.8"/>
<line x1="473.5" y1="419.4" x2="482.5" y2="419.4" stroke="#7a1016" stroke-width="1"/>
<g stroke="#222" stroke-width="0.8" stroke-dasharray="1.2 1.2"><line x1="497.65" y1="400.2" x2="497.65" y2="405"/><line x1="497.65" y1="422" x2="497.65" y2="437"/></g>
<g stroke="#222" stroke-width="0.9"><line x1="495.45" y1="400.2" x2="499.85" y2="400.2"/><line x1="495.45" y1="437" x2="499.85" y2="437"/></g>
<rect x="493" y="405" width="9.3" height="17" fill="#2f4896" stroke="#1c2a5c" stroke-width="0.8"/>
<line x1="493" y1="416.2" x2="502.3" y2="416.2" stroke="#1c2a5c" stroke-width="1"/>
<g stroke="#222" stroke-width="0.8" stroke-dasharray="1.2 1.2"><line x1="508.35" y1="397.7" x2="508.35" y2="415.6"/><line x1="508.35" y1="432.5" x2="508.35" y2="443.5"/></g>
<g stroke="#222" stroke-width="0.9"><line x1="506.15" y1="397.7" x2="510.55" y2="397.7"/><line x1="506.15" y1="443.5" x2="510.55" y2="443.5"/></g>
<rect x="504" y="415.6" width="8.7" height="16.9" fill="#de2029" stroke="#7a1016" stroke-width="0.8"/>
<line x1="504" y1="426.2" x2="512.7" y2="426.2" stroke="#7a1016" stroke-width="1"/>
<text x="350" y="284" font-size="11" text-anchor="middle" letter-spacing="1.0" stroke="#1e1e1e" stroke-width="0.25">**</text>
<text x="382" y="310.4" font-size="11" text-anchor="middle" letter-spacing="1.0" stroke="#1e1e1e" stroke-width="0.25">**</text>
<text x="410.5" y="319.8" font-size="11" text-anchor="middle" letter-spacing="1.0" stroke="#1e1e1e" stroke-width="0.25">***</text>
<text x="443.3" y="398.4" font-size="11" text-anchor="middle" letter-spacing="1.0" stroke="#1e1e1e" stroke-width="0.25">***</text>
<text x="475.2" y="399.8" font-size="11" text-anchor="middle" letter-spacing="1.0" stroke="#1e1e1e" stroke-width="0.25">***</text>
<text x="503.9" y="398.4" font-size="11" text-anchor="middle" letter-spacing="1.0" stroke="#1e1e1e" stroke-width="0.25">**</text>
<rect x="438.5" y="293.4" width="4.6" height="4.4" fill="#2f4896"/>
<rect x="438.5" y="304.7" width="4.6" height="4.4" fill="#de2029"/>
<text x="447.5" y="298.8" font-size="10">Shared</text>
<text x="447.5" y="310.4" font-size="10">Fetal-specific</text>
<text x="268.3" y="537.6" font-size="16.5" font-weight="bold">F</text>
<rect x="328" y="542.7" width="183.3" height="182.6" fill="none" stroke="#5a5a5a" stroke-width="1.2"/>
<line x1="324" y1="586.75" x2="328" y2="586.75" stroke="#5a5a5a" stroke-width="1.2"/>
<text x="321.8" y="591.35" font-size="13" text-anchor="end">0.948</text>
<line x1="324" y1="644.25" x2="328" y2="644.25" stroke="#5a5a5a" stroke-width="1.2"/>
<text x="321.8" y="648.85" font-size="13" text-anchor="end">0.946</text>
<line x1="324" y1="701.75" x2="328" y2="701.75" stroke="#5a5a5a" stroke-width="1.2"/>
<text x="321.8" y="706.35" font-size="13" text-anchor="end">0.944</text>
<text x="279.8" y="635" font-size="13" text-anchor="middle" transform="rotate(-90 279.8 635)">Motif diversity score</text>
<line x1="348.75" y1="725.3" x2="348.75" y2="729.5" stroke="#5a5a5a" stroke-width="1.2"/>
<text x="348.75" y="742.6" font-size="13" text-anchor="middle">10</text>
<line x1="390.55" y1="725.3" x2="390.55" y2="729.5" stroke="#5a5a5a" stroke-width="1.2"/>
<text x="390.55" y="742.6" font-size="13" text-anchor="middle">20</text>
<line x1="432.35" y1="725.3" x2="432.35" y2="729.5" stroke="#5a5a5a" stroke-width="1.2"/>
<text x="432.35" y="742.6" font-size="13" text-anchor="middle">30</text>
<line x1="474.15" y1="725.3" x2="474.15" y2="729.5" stroke="#5a5a5a" stroke-width="1.2"/>
<text x="474.15" y="742.6" font-size="13" text-anchor="middle">40</text>
<text x="420" y="758.7" font-size="13" text-anchor="middle">Fetal DNA concentration (%)</text>
<text x="501.2" y="574" font-size="13.2" text-anchor="end">Spearman's ρ = –0.46</text>
<polygon points="336.3,578.79 339.13,585.67 341.95,591.86 344.78,597.43 347.6,602.45 350.43,606.98 353.25,611.05 356.08,614.72 358.9,618.02 361.73,621 364.55,623.68 367.38,626.09 370.21,628.26 373.03,630.22 375.86,631.99 378.68,633.57 381.51,635 384.33,636.29 387.16,637.45 389.98,638.5 392.81,639.44 395.63,640.29 398.46,641.05 401.28,641.74 404.11,642.36 406.94,642.91 409.76,643.42 412.59,643.87 415.41,644.28 418.24,644.64 421.06,644.97 423.89,645.27 426.71,645.54 429.54,645.78 432.36,646 435.19,646.19 438.02,646.37 440.84,646.53 443.67,646.67 446.49,646.8 449.32,646.92 452.14,647.02 454.97,647.12 457.79,647.2 460.62,647.28 463.44,647.35 466.27,647.41 469.09,647.46 471.92,647.51 474.75,647.56 477.57,647.6 480.4,647.64 483.22,647.67 486.05,647.7 488.87,647.73 491.7,647.75 494.52,647.77 497.35,647.79 500.17,647.81 503,647.83 503,714.2 500.17,713.33 497.35,712.47 494.52,711.61 491.7,710.75 488.87,709.89 486.05,709.03 483.22,708.17 480.4,707.29 477.57,706.42 474.75,705.52 471.92,704.62 469.09,703.68 466.27,702.66 463.44,701.63 460.62,700.59 457.79,699.55 454.97,698.49 452.14,697.43 449.32,696.35 446.49,695.26 443.67,694.15 440.84,693.04 438.02,691.75 435.19,690.35 432.36,688.92 429.54,687.46 426.71,686 423.89,684.55 421.06,683.12 418.24,681.72 415.41,680.38 412.59,678.9 409.76,677.38 406.94,675.9 404.11,674.46 401.28,673.06 398.46,671.7 395.63,670.37 392.81,669.09 389.98,667.84 387.16,666.63 384.33,665.45 381.51,664.32 378.68,663.23 375.86,662.2 373.03,661.24 370.21,660.34 367.38,659.51 364.55,658.74 361.73,658.02 358.9,657.35 356.08,656.72 353.25,656.12 350.43,655.49 347.6,654.78 344.78,654.17 341.95,653.62 339.13,653.08 336.3,652.5" fill="#d9dadd"/>
<g fill="#000">
<circle cx="344" cy="562.5" r="1.9"/>
<circle cx="457.5" cy="545.6" r="1.9"/>
<circle cx="459.7" cy="613.4" r="1.9"/>
<circle cx="336.3" cy="608.7" r="1.9"/>
<circle cx="372.7" cy="594.8" r="1.9"/>
<circle cx="373.4" cy="599.6" r="1.9"/>
<circle cx="369.3" cy="607.9" r="1.9"/>
<circle cx="378.7" cy="621.8" r="1.9"/>
<circle cx="392.4" cy="621" r="1.9"/>
<circle cx="365.5" cy="625.6" r="1.9"/>
<circle cx="353.7" cy="641.5" r="1.9"/>
<circle cx="361.7" cy="645.1" r="1.9"/>
<circle cx="374.4" cy="651.2" r="1.9"/>
<circle cx="348.4" cy="655.7" r="1.9"/>
<circle cx="363.8" cy="657.4" r="1.9"/>
<circle cx="419.9" cy="647" r="1.9"/>
<circle cx="429.4" cy="647" r="1.9"/>
<circle cx="370.6" cy="668.8" r="1.9"/>
<circle cx="378.2" cy="670" r="1.9"/>
<circle cx="400.2" cy="669.4" r="1.9"/>
<circle cx="380.1" cy="680.9" r="1.9"/>
<circle cx="365.1" cy="684.5" r="1.9"/>
<circle cx="394.9" cy="692.3" r="1.9"/>
<circle cx="375.5" cy="698.2" r="1.9"/>
<circle cx="399.4" cy="704.5" r="1.9"/>
<circle cx="444.6" cy="696.7" r="1.9"/>
<circle cx="450.5" cy="694.6" r="1.9"/>
<circle cx="460.8" cy="707.5" r="1.9"/>
<circle cx="472.4" cy="708" r="1.9"/>
<circle cx="503" cy="717" r="1.9"/>
</g>
<polygon points="336.3,578.79 339.13,585.67 341.95,591.86 344.78,597.43 347.6,602.45 350.43,606.98 353.25,611.05 356.08,614.72 358.9,618.02 361.73,621 364.55,623.68 367.38,626.09 370.21,628.26 373.03,630.22 375.86,631.99 378.68,633.57 381.51,635 384.33,636.29 387.16,637.45 389.98,638.5 392.81,639.44 395.63,640.29 398.46,641.05 401.28,641.74 404.11,642.36 406.94,642.91 409.76,643.42 412.59,643.87 415.41,644.28 418.24,644.64 421.06,644.97 423.89,645.27 426.71,645.54 429.54,645.78 432.36,646 435.19,646.19 438.02,646.37 440.84,646.53 443.67,646.67 446.49,646.8 449.32,646.92 452.14,647.02 454.97,647.12 457.79,647.2 460.62,647.28 463.44,647.35 466.27,647.41 469.09,647.46 471.92,647.51 474.75,647.56 477.57,647.6 480.4,647.64 483.22,647.67 486.05,647.7 488.87,647.73 491.7,647.75 494.52,647.77 497.35,647.79 500.17,647.81 503,647.83 503,714.2 500.17,713.33 497.35,712.47 494.52,711.61 491.7,710.75 488.87,709.89 486.05,709.03 483.22,708.17 480.4,707.29 477.57,706.42 474.75,705.52 471.92,704.62 469.09,703.68 466.27,702.66 463.44,701.63 460.62,700.59 457.79,699.55 454.97,698.49 452.14,697.43 449.32,696.35 446.49,695.26 443.67,694.15 440.84,693.04 438.02,691.75 435.19,690.35 432.36,688.92 429.54,687.46 426.71,686 423.89,684.55 421.06,683.12 418.24,681.72 415.41,680.38 412.59,678.9 409.76,677.38 406.94,675.9 404.11,674.46 401.28,673.06 398.46,671.7 395.63,670.37 392.81,669.09 389.98,667.84 387.16,666.63 384.33,665.45 381.51,664.32 378.68,663.23 375.86,662.2 373.03,661.24 370.21,660.34 367.38,659.51 364.55,658.74 361.73,658.02 358.9,657.35 356.08,656.72 353.25,656.12 350.43,655.49 347.6,654.78 344.78,654.17 341.95,653.62 339.13,653.08 336.3,652.5" fill="#d9dadd" fill-opacity="0.5"/>
<polyline points="336.3,615.18 339.13,617.67 341.95,620.08 344.78,622.41 347.6,624.67 350.43,626.86 353.25,628.97 356.08,631.02 358.9,633.01 361.73,634.93 364.55,636.79 367.38,638.59 370.21,640.33 373.03,642.01 375.86,643.65 378.68,645.23 381.51,646.76 384.33,648.24 387.16,649.67 389.98,651.06 392.81,652.4 395.63,653.7 398.46,654.96 401.28,656.18 404.11,657.36 406.94,658.5 409.76,659.61 412.59,660.68 415.41,661.71 418.24,662.72 421.06,663.69 423.89,664.63 426.71,665.54 429.54,666.42 432.36,667.27 435.19,668.1 438.02,668.9 440.84,669.67 443.67,670.42 446.49,671.14 449.32,671.84 452.14,672.52 454.97,673.18 457.79,673.82 460.62,674.43 463.44,675.03 466.27,675.61 469.09,676.17 471.92,676.71 474.75,677.23 477.57,677.74 480.4,678.23 483.22,678.7 486.05,679.16 488.87,679.61 491.7,680.04 494.52,680.46 497.35,680.86 500.17,681.25 503,681.63" fill="none" stroke="#5b6a9e" stroke-width="0.9"/>
</svg>
</body></html>
